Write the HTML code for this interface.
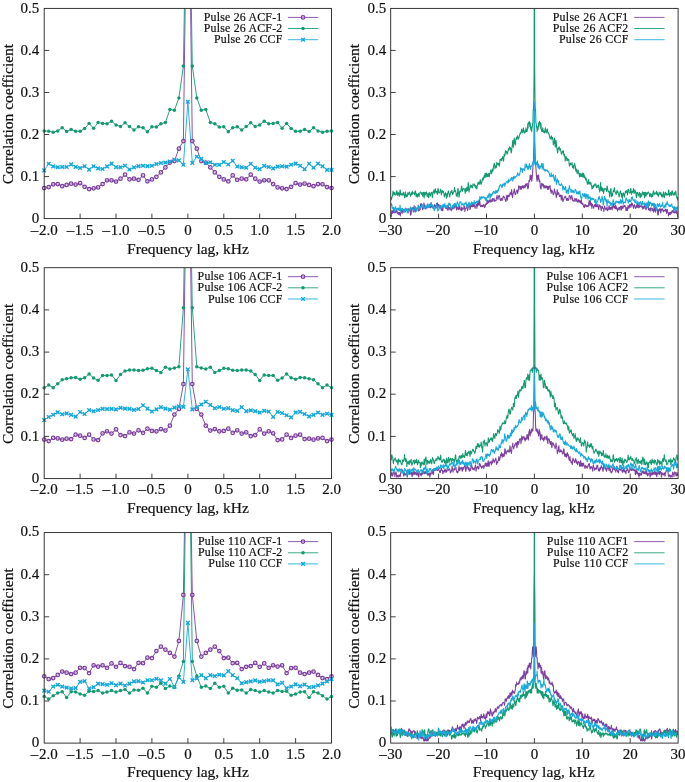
<!DOCTYPE html>
<html><head><meta charset="utf-8"><title>Correlation functions</title>
<style>
html,body{margin:0;padding:0;background:#fff}
svg{display:block}
text{font-family:"Liberation Serif",serif;fill:#111;stroke:#111;stroke-width:0.2px}
.t{font-size:15px}
.a{font-size:15.5px}
.l{font-size:11.9px;letter-spacing:0.2px}
.l2{letter-spacing:0.3px}
</style></head><body>
<svg width="685" height="782" viewBox="0 0 685 782">
<rect width="685" height="782" fill="#fff"/>
<defs>
<clipPath id="cl0"><rect x="44.2" y="8.4" width="287.3" height="210.2"/></clipPath>
<clipPath id="cr0"><rect x="390.7" y="8.4" width="287.40000000000003" height="210.2"/></clipPath>
<clipPath id="cl1"><rect x="44.2" y="267.7" width="287.3" height="210.90000000000003"/></clipPath>
<clipPath id="cr1"><rect x="390.7" y="267.7" width="287.40000000000003" height="210.90000000000003"/></clipPath>
<clipPath id="cl2"><rect x="44.2" y="532.6" width="287.3" height="210.5"/></clipPath>
<clipPath id="cr2"><rect x="390.7" y="532.6" width="287.40000000000003" height="210.5"/></clipPath>
</defs>
<g clip-path="url(#cl0)">
<path d="M44.2 188.0L48.7 187.1L53.2 184.3L57.7 184.0L62.2 186.2L66.6 184.9L71.1 183.7L75.6 184.6L80.1 183.2L84.6 186.8L89.1 189.0L93.6 188.3L98.1 187.4L102.6 184.0L107.0 180.3L111.5 180.3L116.0 181.6L120.5 178.7L125.0 174.7L129.5 179.3L134.0 178.7L138.5 179.8L143.0 175.4L147.4 181.3L151.9 179.4L156.4 176.8L160.9 172.4L165.4 167.4L169.9 162.6L174.4 161.1L178.9 148.7L183.4 141.0L187.9 -201.8L192.3 141.0L196.8 148.7L201.3 161.1L205.8 162.6L210.3 167.4L214.8 172.4L219.3 176.8L223.8 179.4L228.3 181.3L232.7 175.4L237.2 179.8L241.7 178.7L246.2 179.3L250.7 174.7L255.2 178.7L259.7 181.6L264.2 180.3L268.7 180.3L273.1 184.0L277.6 187.4L282.1 188.3L286.6 189.0L291.1 186.8L295.6 183.2L300.1 184.6L304.6 183.7L309.1 184.9L313.5 186.2L318.0 184.0L322.5 184.3L327.0 187.1L331.5 188.0" stroke="#7d3f9f" stroke-width="0.9" fill="none" stroke-linejoin="round"/>
<path d="M44.2 130.9L48.7 131.3L53.2 132.2L57.7 130.9L62.2 127.7L66.6 131.6L71.1 129.4L75.6 131.2L80.1 131.3L84.6 128.4L89.1 123.5L93.6 128.3L98.1 122.5L102.6 123.4L107.0 123.8L111.5 121.2L116.0 125.0L120.5 126.6L125.0 122.8L129.5 126.6L134.0 129.9L138.5 126.8L143.0 127.8L147.4 131.7L151.9 126.8L156.4 127.1L160.9 123.7L165.4 122.5L169.9 109.4L174.4 110.3L178.9 97.9L183.4 66.0L187.9 -201.8L192.3 66.0L196.8 97.9L201.3 110.3L205.8 109.4L210.3 122.5L214.8 123.7L219.3 127.1L223.8 126.8L228.3 131.7L232.7 127.8L237.2 126.8L241.7 129.9L246.2 126.6L250.7 122.8L255.2 126.6L259.7 125.0L264.2 121.2L268.7 123.8L273.1 123.4L277.6 122.5L282.1 128.3L286.6 123.5L291.1 128.4L295.6 131.3L300.1 131.2L304.6 129.4L309.1 131.6L313.5 127.7L318.0 130.9L322.5 132.2L327.0 131.3L331.5 130.9" stroke="#149a70" stroke-width="0.9" fill="none" stroke-linejoin="round"/>
<path d="M44.2 170.3L48.7 163.7L53.2 166.4L57.7 167.3L62.2 167.0L66.6 167.0L71.1 164.3L75.6 167.0L80.1 168.0L84.6 166.2L89.1 169.6L93.6 166.2L98.1 168.4L102.6 169.0L107.0 166.4L111.5 163.6L116.0 167.1L120.5 167.3L125.0 165.8L129.5 169.5L134.0 167.3L138.5 166.1L143.0 165.8L147.4 166.1L151.9 165.8L156.4 164.0L160.9 163.0L165.4 162.6L169.9 161.6L174.4 159.7L178.9 160.4L183.4 164.7L187.9 101.8L192.3 162.9L196.8 156.7L201.3 158.9L205.8 163.0L210.3 162.3L214.8 164.8L219.3 164.8L223.8 162.1L228.3 164.5L232.7 160.8L237.2 166.5L241.7 167.3L246.2 167.7L250.7 163.7L255.2 167.7L259.7 169.2L264.2 165.9L268.7 167.0L273.1 168.4L277.6 166.7L282.1 166.2L286.6 166.7L291.1 164.7L295.6 163.6L300.1 165.8L304.6 169.2L309.1 163.7L313.5 167.7L318.0 163.6L322.5 166.2L327.0 169.9L331.5 169.9" stroke="#17a9da" stroke-width="0.9" fill="none" stroke-linejoin="round"/>
</g>
<circle cx="44.2" cy="188.0" r="1.75" fill="#fff" fill-opacity="0.3" stroke="#7d3f9f" stroke-width="1.25"/>
<circle cx="48.7" cy="187.1" r="1.75" fill="#fff" fill-opacity="0.3" stroke="#7d3f9f" stroke-width="1.25"/>
<circle cx="53.2" cy="184.3" r="1.75" fill="#fff" fill-opacity="0.3" stroke="#7d3f9f" stroke-width="1.25"/>
<circle cx="57.7" cy="184.0" r="1.75" fill="#fff" fill-opacity="0.3" stroke="#7d3f9f" stroke-width="1.25"/>
<circle cx="62.2" cy="186.2" r="1.75" fill="#fff" fill-opacity="0.3" stroke="#7d3f9f" stroke-width="1.25"/>
<circle cx="66.6" cy="184.9" r="1.75" fill="#fff" fill-opacity="0.3" stroke="#7d3f9f" stroke-width="1.25"/>
<circle cx="71.1" cy="183.7" r="1.75" fill="#fff" fill-opacity="0.3" stroke="#7d3f9f" stroke-width="1.25"/>
<circle cx="75.6" cy="184.6" r="1.75" fill="#fff" fill-opacity="0.3" stroke="#7d3f9f" stroke-width="1.25"/>
<circle cx="80.1" cy="183.2" r="1.75" fill="#fff" fill-opacity="0.3" stroke="#7d3f9f" stroke-width="1.25"/>
<circle cx="84.6" cy="186.8" r="1.75" fill="#fff" fill-opacity="0.3" stroke="#7d3f9f" stroke-width="1.25"/>
<circle cx="89.1" cy="189.0" r="1.75" fill="#fff" fill-opacity="0.3" stroke="#7d3f9f" stroke-width="1.25"/>
<circle cx="93.6" cy="188.3" r="1.75" fill="#fff" fill-opacity="0.3" stroke="#7d3f9f" stroke-width="1.25"/>
<circle cx="98.1" cy="187.4" r="1.75" fill="#fff" fill-opacity="0.3" stroke="#7d3f9f" stroke-width="1.25"/>
<circle cx="102.6" cy="184.0" r="1.75" fill="#fff" fill-opacity="0.3" stroke="#7d3f9f" stroke-width="1.25"/>
<circle cx="107.0" cy="180.3" r="1.75" fill="#fff" fill-opacity="0.3" stroke="#7d3f9f" stroke-width="1.25"/>
<circle cx="111.5" cy="180.3" r="1.75" fill="#fff" fill-opacity="0.3" stroke="#7d3f9f" stroke-width="1.25"/>
<circle cx="116.0" cy="181.6" r="1.75" fill="#fff" fill-opacity="0.3" stroke="#7d3f9f" stroke-width="1.25"/>
<circle cx="120.5" cy="178.7" r="1.75" fill="#fff" fill-opacity="0.3" stroke="#7d3f9f" stroke-width="1.25"/>
<circle cx="125.0" cy="174.7" r="1.75" fill="#fff" fill-opacity="0.3" stroke="#7d3f9f" stroke-width="1.25"/>
<circle cx="129.5" cy="179.3" r="1.75" fill="#fff" fill-opacity="0.3" stroke="#7d3f9f" stroke-width="1.25"/>
<circle cx="134.0" cy="178.7" r="1.75" fill="#fff" fill-opacity="0.3" stroke="#7d3f9f" stroke-width="1.25"/>
<circle cx="138.5" cy="179.8" r="1.75" fill="#fff" fill-opacity="0.3" stroke="#7d3f9f" stroke-width="1.25"/>
<circle cx="143.0" cy="175.4" r="1.75" fill="#fff" fill-opacity="0.3" stroke="#7d3f9f" stroke-width="1.25"/>
<circle cx="147.4" cy="181.3" r="1.75" fill="#fff" fill-opacity="0.3" stroke="#7d3f9f" stroke-width="1.25"/>
<circle cx="151.9" cy="179.4" r="1.75" fill="#fff" fill-opacity="0.3" stroke="#7d3f9f" stroke-width="1.25"/>
<circle cx="156.4" cy="176.8" r="1.75" fill="#fff" fill-opacity="0.3" stroke="#7d3f9f" stroke-width="1.25"/>
<circle cx="160.9" cy="172.4" r="1.75" fill="#fff" fill-opacity="0.3" stroke="#7d3f9f" stroke-width="1.25"/>
<circle cx="165.4" cy="167.4" r="1.75" fill="#fff" fill-opacity="0.3" stroke="#7d3f9f" stroke-width="1.25"/>
<circle cx="169.9" cy="162.6" r="1.75" fill="#fff" fill-opacity="0.3" stroke="#7d3f9f" stroke-width="1.25"/>
<circle cx="174.4" cy="161.1" r="1.75" fill="#fff" fill-opacity="0.3" stroke="#7d3f9f" stroke-width="1.25"/>
<circle cx="178.9" cy="148.7" r="1.75" fill="#fff" fill-opacity="0.3" stroke="#7d3f9f" stroke-width="1.25"/>
<circle cx="183.4" cy="141.0" r="1.75" fill="#fff" fill-opacity="0.3" stroke="#7d3f9f" stroke-width="1.25"/>
<circle cx="192.3" cy="141.0" r="1.75" fill="#fff" fill-opacity="0.3" stroke="#7d3f9f" stroke-width="1.25"/>
<circle cx="196.8" cy="148.7" r="1.75" fill="#fff" fill-opacity="0.3" stroke="#7d3f9f" stroke-width="1.25"/>
<circle cx="201.3" cy="161.1" r="1.75" fill="#fff" fill-opacity="0.3" stroke="#7d3f9f" stroke-width="1.25"/>
<circle cx="205.8" cy="162.6" r="1.75" fill="#fff" fill-opacity="0.3" stroke="#7d3f9f" stroke-width="1.25"/>
<circle cx="210.3" cy="167.4" r="1.75" fill="#fff" fill-opacity="0.3" stroke="#7d3f9f" stroke-width="1.25"/>
<circle cx="214.8" cy="172.4" r="1.75" fill="#fff" fill-opacity="0.3" stroke="#7d3f9f" stroke-width="1.25"/>
<circle cx="219.3" cy="176.8" r="1.75" fill="#fff" fill-opacity="0.3" stroke="#7d3f9f" stroke-width="1.25"/>
<circle cx="223.8" cy="179.4" r="1.75" fill="#fff" fill-opacity="0.3" stroke="#7d3f9f" stroke-width="1.25"/>
<circle cx="228.3" cy="181.3" r="1.75" fill="#fff" fill-opacity="0.3" stroke="#7d3f9f" stroke-width="1.25"/>
<circle cx="232.7" cy="175.4" r="1.75" fill="#fff" fill-opacity="0.3" stroke="#7d3f9f" stroke-width="1.25"/>
<circle cx="237.2" cy="179.8" r="1.75" fill="#fff" fill-opacity="0.3" stroke="#7d3f9f" stroke-width="1.25"/>
<circle cx="241.7" cy="178.7" r="1.75" fill="#fff" fill-opacity="0.3" stroke="#7d3f9f" stroke-width="1.25"/>
<circle cx="246.2" cy="179.3" r="1.75" fill="#fff" fill-opacity="0.3" stroke="#7d3f9f" stroke-width="1.25"/>
<circle cx="250.7" cy="174.7" r="1.75" fill="#fff" fill-opacity="0.3" stroke="#7d3f9f" stroke-width="1.25"/>
<circle cx="255.2" cy="178.7" r="1.75" fill="#fff" fill-opacity="0.3" stroke="#7d3f9f" stroke-width="1.25"/>
<circle cx="259.7" cy="181.6" r="1.75" fill="#fff" fill-opacity="0.3" stroke="#7d3f9f" stroke-width="1.25"/>
<circle cx="264.2" cy="180.3" r="1.75" fill="#fff" fill-opacity="0.3" stroke="#7d3f9f" stroke-width="1.25"/>
<circle cx="268.7" cy="180.3" r="1.75" fill="#fff" fill-opacity="0.3" stroke="#7d3f9f" stroke-width="1.25"/>
<circle cx="273.1" cy="184.0" r="1.75" fill="#fff" fill-opacity="0.3" stroke="#7d3f9f" stroke-width="1.25"/>
<circle cx="277.6" cy="187.4" r="1.75" fill="#fff" fill-opacity="0.3" stroke="#7d3f9f" stroke-width="1.25"/>
<circle cx="282.1" cy="188.3" r="1.75" fill="#fff" fill-opacity="0.3" stroke="#7d3f9f" stroke-width="1.25"/>
<circle cx="286.6" cy="189.0" r="1.75" fill="#fff" fill-opacity="0.3" stroke="#7d3f9f" stroke-width="1.25"/>
<circle cx="291.1" cy="186.8" r="1.75" fill="#fff" fill-opacity="0.3" stroke="#7d3f9f" stroke-width="1.25"/>
<circle cx="295.6" cy="183.2" r="1.75" fill="#fff" fill-opacity="0.3" stroke="#7d3f9f" stroke-width="1.25"/>
<circle cx="300.1" cy="184.6" r="1.75" fill="#fff" fill-opacity="0.3" stroke="#7d3f9f" stroke-width="1.25"/>
<circle cx="304.6" cy="183.7" r="1.75" fill="#fff" fill-opacity="0.3" stroke="#7d3f9f" stroke-width="1.25"/>
<circle cx="309.1" cy="184.9" r="1.75" fill="#fff" fill-opacity="0.3" stroke="#7d3f9f" stroke-width="1.25"/>
<circle cx="313.5" cy="186.2" r="1.75" fill="#fff" fill-opacity="0.3" stroke="#7d3f9f" stroke-width="1.25"/>
<circle cx="318.0" cy="184.0" r="1.75" fill="#fff" fill-opacity="0.3" stroke="#7d3f9f" stroke-width="1.25"/>
<circle cx="322.5" cy="184.3" r="1.75" fill="#fff" fill-opacity="0.3" stroke="#7d3f9f" stroke-width="1.25"/>
<circle cx="327.0" cy="187.1" r="1.75" fill="#fff" fill-opacity="0.3" stroke="#7d3f9f" stroke-width="1.25"/>
<circle cx="331.5" cy="188.0" r="1.75" fill="#fff" fill-opacity="0.3" stroke="#7d3f9f" stroke-width="1.25"/>
<circle cx="44.2" cy="130.9" r="1.75" fill="#149a70"/>
<circle cx="48.7" cy="131.3" r="1.75" fill="#149a70"/>
<circle cx="53.2" cy="132.2" r="1.75" fill="#149a70"/>
<circle cx="57.7" cy="130.9" r="1.75" fill="#149a70"/>
<circle cx="62.2" cy="127.7" r="1.75" fill="#149a70"/>
<circle cx="66.6" cy="131.6" r="1.75" fill="#149a70"/>
<circle cx="71.1" cy="129.4" r="1.75" fill="#149a70"/>
<circle cx="75.6" cy="131.2" r="1.75" fill="#149a70"/>
<circle cx="80.1" cy="131.3" r="1.75" fill="#149a70"/>
<circle cx="84.6" cy="128.4" r="1.75" fill="#149a70"/>
<circle cx="89.1" cy="123.5" r="1.75" fill="#149a70"/>
<circle cx="93.6" cy="128.3" r="1.75" fill="#149a70"/>
<circle cx="98.1" cy="122.5" r="1.75" fill="#149a70"/>
<circle cx="102.6" cy="123.4" r="1.75" fill="#149a70"/>
<circle cx="107.0" cy="123.8" r="1.75" fill="#149a70"/>
<circle cx="111.5" cy="121.2" r="1.75" fill="#149a70"/>
<circle cx="116.0" cy="125.0" r="1.75" fill="#149a70"/>
<circle cx="120.5" cy="126.6" r="1.75" fill="#149a70"/>
<circle cx="125.0" cy="122.8" r="1.75" fill="#149a70"/>
<circle cx="129.5" cy="126.6" r="1.75" fill="#149a70"/>
<circle cx="134.0" cy="129.9" r="1.75" fill="#149a70"/>
<circle cx="138.5" cy="126.8" r="1.75" fill="#149a70"/>
<circle cx="143.0" cy="127.8" r="1.75" fill="#149a70"/>
<circle cx="147.4" cy="131.7" r="1.75" fill="#149a70"/>
<circle cx="151.9" cy="126.8" r="1.75" fill="#149a70"/>
<circle cx="156.4" cy="127.1" r="1.75" fill="#149a70"/>
<circle cx="160.9" cy="123.7" r="1.75" fill="#149a70"/>
<circle cx="165.4" cy="122.5" r="1.75" fill="#149a70"/>
<circle cx="169.9" cy="109.4" r="1.75" fill="#149a70"/>
<circle cx="174.4" cy="110.3" r="1.75" fill="#149a70"/>
<circle cx="178.9" cy="97.9" r="1.75" fill="#149a70"/>
<circle cx="183.4" cy="66.0" r="1.75" fill="#149a70"/>
<circle cx="192.3" cy="66.0" r="1.75" fill="#149a70"/>
<circle cx="196.8" cy="97.9" r="1.75" fill="#149a70"/>
<circle cx="201.3" cy="110.3" r="1.75" fill="#149a70"/>
<circle cx="205.8" cy="109.4" r="1.75" fill="#149a70"/>
<circle cx="210.3" cy="122.5" r="1.75" fill="#149a70"/>
<circle cx="214.8" cy="123.7" r="1.75" fill="#149a70"/>
<circle cx="219.3" cy="127.1" r="1.75" fill="#149a70"/>
<circle cx="223.8" cy="126.8" r="1.75" fill="#149a70"/>
<circle cx="228.3" cy="131.7" r="1.75" fill="#149a70"/>
<circle cx="232.7" cy="127.8" r="1.75" fill="#149a70"/>
<circle cx="237.2" cy="126.8" r="1.75" fill="#149a70"/>
<circle cx="241.7" cy="129.9" r="1.75" fill="#149a70"/>
<circle cx="246.2" cy="126.6" r="1.75" fill="#149a70"/>
<circle cx="250.7" cy="122.8" r="1.75" fill="#149a70"/>
<circle cx="255.2" cy="126.6" r="1.75" fill="#149a70"/>
<circle cx="259.7" cy="125.0" r="1.75" fill="#149a70"/>
<circle cx="264.2" cy="121.2" r="1.75" fill="#149a70"/>
<circle cx="268.7" cy="123.8" r="1.75" fill="#149a70"/>
<circle cx="273.1" cy="123.4" r="1.75" fill="#149a70"/>
<circle cx="277.6" cy="122.5" r="1.75" fill="#149a70"/>
<circle cx="282.1" cy="128.3" r="1.75" fill="#149a70"/>
<circle cx="286.6" cy="123.5" r="1.75" fill="#149a70"/>
<circle cx="291.1" cy="128.4" r="1.75" fill="#149a70"/>
<circle cx="295.6" cy="131.3" r="1.75" fill="#149a70"/>
<circle cx="300.1" cy="131.2" r="1.75" fill="#149a70"/>
<circle cx="304.6" cy="129.4" r="1.75" fill="#149a70"/>
<circle cx="309.1" cy="131.6" r="1.75" fill="#149a70"/>
<circle cx="313.5" cy="127.7" r="1.75" fill="#149a70"/>
<circle cx="318.0" cy="130.9" r="1.75" fill="#149a70"/>
<circle cx="322.5" cy="132.2" r="1.75" fill="#149a70"/>
<circle cx="327.0" cy="131.3" r="1.75" fill="#149a70"/>
<circle cx="331.5" cy="130.9" r="1.75" fill="#149a70"/>
<path d="M42.35 168.49L46.05 172.19M42.35 172.19L46.05 168.49" stroke="#17a9da" stroke-width="1.3" fill="none"/><rect x="43.05" y="169.19" width="2.3" height="2.3" fill="#17a9da"/>
<path d="M46.84 161.89L50.54 165.59M46.84 165.59L50.54 161.89" stroke="#17a9da" stroke-width="1.3" fill="none"/><rect x="47.54" y="162.59" width="2.3" height="2.3" fill="#17a9da"/>
<path d="M51.33 164.54L55.03 168.24M51.33 168.24L55.03 164.54" stroke="#17a9da" stroke-width="1.3" fill="none"/><rect x="52.03" y="165.24" width="2.3" height="2.3" fill="#17a9da"/>
<path d="M55.82 165.42L59.52 169.12M55.82 169.12L59.52 165.42" stroke="#17a9da" stroke-width="1.3" fill="none"/><rect x="56.52" y="166.12" width="2.3" height="2.3" fill="#17a9da"/>
<path d="M60.31 165.12L64.01 168.82M60.31 168.82L64.01 165.12" stroke="#17a9da" stroke-width="1.3" fill="none"/><rect x="61.01" y="165.82" width="2.3" height="2.3" fill="#17a9da"/>
<path d="M64.80 165.12L68.50 168.82M64.80 168.82L68.50 165.12" stroke="#17a9da" stroke-width="1.3" fill="none"/><rect x="65.50" y="165.82" width="2.3" height="2.3" fill="#17a9da"/>
<path d="M69.28 162.48L72.98 166.18M69.28 166.18L72.98 162.48" stroke="#17a9da" stroke-width="1.3" fill="none"/><rect x="69.98" y="163.18" width="2.3" height="2.3" fill="#17a9da"/>
<path d="M73.77 165.12L77.47 168.82M73.77 168.82L77.47 165.12" stroke="#17a9da" stroke-width="1.3" fill="none"/><rect x="74.47" y="165.82" width="2.3" height="2.3" fill="#17a9da"/>
<path d="M78.26 166.13L81.96 169.83M78.26 169.83L81.96 166.13" stroke="#17a9da" stroke-width="1.3" fill="none"/><rect x="78.96" y="166.83" width="2.3" height="2.3" fill="#17a9da"/>
<path d="M82.75 164.37L86.45 168.07M82.75 168.07L86.45 164.37" stroke="#17a9da" stroke-width="1.3" fill="none"/><rect x="83.45" y="165.07" width="2.3" height="2.3" fill="#17a9da"/>
<path d="M87.24 167.73L90.94 171.43M87.24 171.43L90.94 167.73" stroke="#17a9da" stroke-width="1.3" fill="none"/><rect x="87.94" y="168.43" width="2.3" height="2.3" fill="#17a9da"/>
<path d="M91.73 164.37L95.43 168.07M91.73 168.07L95.43 164.37" stroke="#17a9da" stroke-width="1.3" fill="none"/><rect x="92.43" y="165.07" width="2.3" height="2.3" fill="#17a9da"/>
<path d="M96.22 166.55L99.92 170.25M96.22 170.25L99.92 166.55" stroke="#17a9da" stroke-width="1.3" fill="none"/><rect x="96.92" y="167.25" width="2.3" height="2.3" fill="#17a9da"/>
<path d="M100.71 167.14L104.41 170.84M100.71 170.84L104.41 167.14" stroke="#17a9da" stroke-width="1.3" fill="none"/><rect x="101.41" y="167.84" width="2.3" height="2.3" fill="#17a9da"/>
<path d="M105.20 164.54L108.90 168.24M105.20 168.24L108.90 164.54" stroke="#17a9da" stroke-width="1.3" fill="none"/><rect x="105.90" y="165.24" width="2.3" height="2.3" fill="#17a9da"/>
<path d="M109.69 161.76L113.39 165.46M109.69 165.46L113.39 161.76" stroke="#17a9da" stroke-width="1.3" fill="none"/><rect x="110.39" y="162.46" width="2.3" height="2.3" fill="#17a9da"/>
<path d="M114.18 165.25L117.88 168.95M114.18 168.95L117.88 165.25" stroke="#17a9da" stroke-width="1.3" fill="none"/><rect x="114.88" y="165.95" width="2.3" height="2.3" fill="#17a9da"/>
<path d="M118.66 165.42L122.36 169.12M118.66 169.12L122.36 165.42" stroke="#17a9da" stroke-width="1.3" fill="none"/><rect x="119.36" y="166.12" width="2.3" height="2.3" fill="#17a9da"/>
<path d="M123.15 163.95L126.85 167.65M123.15 167.65L126.85 163.95" stroke="#17a9da" stroke-width="1.3" fill="none"/><rect x="123.85" y="164.65" width="2.3" height="2.3" fill="#17a9da"/>
<path d="M127.64 167.61L131.34 171.31M127.64 171.31L131.34 167.61" stroke="#17a9da" stroke-width="1.3" fill="none"/><rect x="128.34" y="168.31" width="2.3" height="2.3" fill="#17a9da"/>
<path d="M132.13 165.42L135.83 169.12M132.13 169.12L135.83 165.42" stroke="#17a9da" stroke-width="1.3" fill="none"/><rect x="132.83" y="166.12" width="2.3" height="2.3" fill="#17a9da"/>
<path d="M136.62 164.24L140.32 167.94M136.62 167.94L140.32 164.24" stroke="#17a9da" stroke-width="1.3" fill="none"/><rect x="137.32" y="164.94" width="2.3" height="2.3" fill="#17a9da"/>
<path d="M141.11 163.95L144.81 167.65M141.11 167.65L144.81 163.95" stroke="#17a9da" stroke-width="1.3" fill="none"/><rect x="141.81" y="164.65" width="2.3" height="2.3" fill="#17a9da"/>
<path d="M145.60 164.24L149.30 167.94M145.60 167.94L149.30 164.24" stroke="#17a9da" stroke-width="1.3" fill="none"/><rect x="146.30" y="164.94" width="2.3" height="2.3" fill="#17a9da"/>
<path d="M150.09 163.95L153.79 167.65M150.09 167.65L153.79 163.95" stroke="#17a9da" stroke-width="1.3" fill="none"/><rect x="150.79" y="164.65" width="2.3" height="2.3" fill="#17a9da"/>
<path d="M154.58 162.18L158.28 165.88M154.58 165.88L158.28 162.18" stroke="#17a9da" stroke-width="1.3" fill="none"/><rect x="155.28" y="162.88" width="2.3" height="2.3" fill="#17a9da"/>
<path d="M159.07 161.17L162.77 164.87M159.07 164.87L162.77 161.17" stroke="#17a9da" stroke-width="1.3" fill="none"/><rect x="159.77" y="161.87" width="2.3" height="2.3" fill="#17a9da"/>
<path d="M163.55 160.71L167.25 164.41M163.55 164.41L167.25 160.71" stroke="#17a9da" stroke-width="1.3" fill="none"/><rect x="164.25" y="161.41" width="2.3" height="2.3" fill="#17a9da"/>
<path d="M168.04 159.70L171.74 163.40M168.04 163.40L171.74 159.70" stroke="#17a9da" stroke-width="1.3" fill="none"/><rect x="168.74" y="160.40" width="2.3" height="2.3" fill="#17a9da"/>
<path d="M172.53 157.81L176.23 161.51M172.53 161.51L176.23 157.81" stroke="#17a9da" stroke-width="1.3" fill="none"/><rect x="173.23" y="158.51" width="2.3" height="2.3" fill="#17a9da"/>
<path d="M177.02 158.52L180.72 162.22M177.02 162.22L180.72 158.52" stroke="#17a9da" stroke-width="1.3" fill="none"/><rect x="177.72" y="159.22" width="2.3" height="2.3" fill="#17a9da"/>
<path d="M181.51 162.90L185.21 166.60M181.51 166.60L185.21 162.90" stroke="#17a9da" stroke-width="1.3" fill="none"/><rect x="182.21" y="163.60" width="2.3" height="2.3" fill="#17a9da"/>
<path d="M186.00 99.92L189.70 103.62M186.00 103.62L189.70 99.92" stroke="#17a9da" stroke-width="1.3" fill="none"/><rect x="186.70" y="100.62" width="2.3" height="2.3" fill="#17a9da"/>
<path d="M190.49 161.00L194.19 164.70M190.49 164.70L194.19 161.00" stroke="#17a9da" stroke-width="1.3" fill="none"/><rect x="191.19" y="161.70" width="2.3" height="2.3" fill="#17a9da"/>
<path d="M194.98 154.87L198.68 158.57M194.98 158.57L198.68 154.87" stroke="#17a9da" stroke-width="1.3" fill="none"/><rect x="195.68" y="155.57" width="2.3" height="2.3" fill="#17a9da"/>
<path d="M199.47 157.05L203.17 160.75M199.47 160.75L203.17 157.05" stroke="#17a9da" stroke-width="1.3" fill="none"/><rect x="200.17" y="157.75" width="2.3" height="2.3" fill="#17a9da"/>
<path d="M203.96 161.17L207.66 164.87M203.96 164.87L207.66 161.17" stroke="#17a9da" stroke-width="1.3" fill="none"/><rect x="204.66" y="161.87" width="2.3" height="2.3" fill="#17a9da"/>
<path d="M208.45 160.42L212.15 164.12M208.45 164.12L212.15 160.42" stroke="#17a9da" stroke-width="1.3" fill="none"/><rect x="209.15" y="161.12" width="2.3" height="2.3" fill="#17a9da"/>
<path d="M212.93 162.94L216.63 166.64M212.93 166.64L216.63 162.94" stroke="#17a9da" stroke-width="1.3" fill="none"/><rect x="213.63" y="163.64" width="2.3" height="2.3" fill="#17a9da"/>
<path d="M217.42 162.94L221.12 166.64M217.42 166.64L221.12 162.94" stroke="#17a9da" stroke-width="1.3" fill="none"/><rect x="218.12" y="163.64" width="2.3" height="2.3" fill="#17a9da"/>
<path d="M221.91 160.21L225.61 163.91M221.91 163.91L225.61 160.21" stroke="#17a9da" stroke-width="1.3" fill="none"/><rect x="222.61" y="160.91" width="2.3" height="2.3" fill="#17a9da"/>
<path d="M226.40 162.60L230.10 166.30M226.40 166.30L230.10 162.60" stroke="#17a9da" stroke-width="1.3" fill="none"/><rect x="227.10" y="163.30" width="2.3" height="2.3" fill="#17a9da"/>
<path d="M230.89 158.94L234.59 162.64M230.89 162.64L234.59 158.94" stroke="#17a9da" stroke-width="1.3" fill="none"/><rect x="231.59" y="159.64" width="2.3" height="2.3" fill="#17a9da"/>
<path d="M235.38 164.66L239.08 168.36M235.38 168.36L239.08 164.66" stroke="#17a9da" stroke-width="1.3" fill="none"/><rect x="236.08" y="165.36" width="2.3" height="2.3" fill="#17a9da"/>
<path d="M239.87 165.42L243.57 169.12M239.87 169.12L243.57 165.42" stroke="#17a9da" stroke-width="1.3" fill="none"/><rect x="240.57" y="166.12" width="2.3" height="2.3" fill="#17a9da"/>
<path d="M244.36 165.84L248.06 169.54M244.36 169.54L248.06 165.84" stroke="#17a9da" stroke-width="1.3" fill="none"/><rect x="245.06" y="166.54" width="2.3" height="2.3" fill="#17a9da"/>
<path d="M248.85 161.89L252.55 165.59M248.85 165.59L252.55 161.89" stroke="#17a9da" stroke-width="1.3" fill="none"/><rect x="249.55" y="162.59" width="2.3" height="2.3" fill="#17a9da"/>
<path d="M253.34 165.84L257.04 169.54M253.34 169.54L257.04 165.84" stroke="#17a9da" stroke-width="1.3" fill="none"/><rect x="254.04" y="166.54" width="2.3" height="2.3" fill="#17a9da"/>
<path d="M257.82 167.31L261.53 171.01M257.82 171.01L261.53 167.31" stroke="#17a9da" stroke-width="1.3" fill="none"/><rect x="258.53" y="168.01" width="2.3" height="2.3" fill="#17a9da"/>
<path d="M262.31 164.07L266.01 167.77M262.31 167.77L266.01 164.07" stroke="#17a9da" stroke-width="1.3" fill="none"/><rect x="263.01" y="164.77" width="2.3" height="2.3" fill="#17a9da"/>
<path d="M266.80 165.12L270.50 168.82M266.80 168.82L270.50 165.12" stroke="#17a9da" stroke-width="1.3" fill="none"/><rect x="267.50" y="165.82" width="2.3" height="2.3" fill="#17a9da"/>
<path d="M271.29 166.55L274.99 170.25M271.29 170.25L274.99 166.55" stroke="#17a9da" stroke-width="1.3" fill="none"/><rect x="271.99" y="167.25" width="2.3" height="2.3" fill="#17a9da"/>
<path d="M275.78 164.83L279.48 168.53M275.78 168.53L279.48 164.83" stroke="#17a9da" stroke-width="1.3" fill="none"/><rect x="276.48" y="165.53" width="2.3" height="2.3" fill="#17a9da"/>
<path d="M280.27 164.37L283.97 168.07M280.27 168.07L283.97 164.37" stroke="#17a9da" stroke-width="1.3" fill="none"/><rect x="280.97" y="165.07" width="2.3" height="2.3" fill="#17a9da"/>
<path d="M284.76 164.83L288.46 168.53M284.76 168.53L288.46 164.83" stroke="#17a9da" stroke-width="1.3" fill="none"/><rect x="285.46" y="165.53" width="2.3" height="2.3" fill="#17a9da"/>
<path d="M289.25 162.90L292.95 166.60M289.25 166.60L292.95 162.90" stroke="#17a9da" stroke-width="1.3" fill="none"/><rect x="289.95" y="163.60" width="2.3" height="2.3" fill="#17a9da"/>
<path d="M293.74 161.76L297.44 165.46M293.74 165.46L297.44 161.76" stroke="#17a9da" stroke-width="1.3" fill="none"/><rect x="294.44" y="162.46" width="2.3" height="2.3" fill="#17a9da"/>
<path d="M298.23 163.95L301.93 167.65M298.23 167.65L301.93 163.95" stroke="#17a9da" stroke-width="1.3" fill="none"/><rect x="298.93" y="164.65" width="2.3" height="2.3" fill="#17a9da"/>
<path d="M302.72 167.31L306.42 171.01M302.72 171.01L306.42 167.31" stroke="#17a9da" stroke-width="1.3" fill="none"/><rect x="303.42" y="168.01" width="2.3" height="2.3" fill="#17a9da"/>
<path d="M307.20 161.89L310.90 165.59M307.20 165.59L310.90 161.89" stroke="#17a9da" stroke-width="1.3" fill="none"/><rect x="307.90" y="162.59" width="2.3" height="2.3" fill="#17a9da"/>
<path d="M311.69 165.84L315.39 169.54M311.69 169.54L315.39 165.84" stroke="#17a9da" stroke-width="1.3" fill="none"/><rect x="312.39" y="166.54" width="2.3" height="2.3" fill="#17a9da"/>
<path d="M316.18 161.76L319.88 165.46M316.18 165.46L319.88 161.76" stroke="#17a9da" stroke-width="1.3" fill="none"/><rect x="316.88" y="162.46" width="2.3" height="2.3" fill="#17a9da"/>
<path d="M320.67 164.37L324.37 168.07M320.67 168.07L324.37 164.37" stroke="#17a9da" stroke-width="1.3" fill="none"/><rect x="321.37" y="165.07" width="2.3" height="2.3" fill="#17a9da"/>
<path d="M325.16 168.03L328.86 171.73M325.16 171.73L328.86 168.03" stroke="#17a9da" stroke-width="1.3" fill="none"/><rect x="325.86" y="168.73" width="2.3" height="2.3" fill="#17a9da"/>
<path d="M329.65 168.03L333.35 171.73M329.65 171.73L333.35 168.03" stroke="#17a9da" stroke-width="1.3" fill="none"/><rect x="330.35" y="168.73" width="2.3" height="2.3" fill="#17a9da"/>
<path d="M44.2 176.6h5M44.2 134.5h5M44.2 92.5h5M44.2 50.4h5M80.1 218.6v-5M116.0 218.6v-5M151.9 218.6v-5M187.9 218.6v-5M223.8 218.6v-5M259.7 218.6v-5M295.6 218.6v-5" stroke="#222" stroke-width="0.85" fill="none"/>
<rect x="44.2" y="8.4" width="287.3" height="210.2" fill="none" stroke="#222" stroke-width="0.9"/>
<text class="t" x="39.2" y="222.9" text-anchor="end">0</text>
<text class="t" x="39.2" y="180.9" text-anchor="end">0.1</text>
<text class="t" x="39.2" y="138.8" text-anchor="end">0.2</text>
<text class="t" x="39.2" y="96.8" text-anchor="end">0.3</text>
<text class="t" x="39.2" y="54.7" text-anchor="end">0.4</text>
<text class="t" x="39.2" y="12.7" text-anchor="end">0.5</text>
<text class="t" x="44.2" y="234.7" text-anchor="middle">–<tspan dx="0.6">2.0</tspan></text>
<text class="t" x="80.1" y="234.7" text-anchor="middle">–<tspan dx="0.6">1.5</tspan></text>
<text class="t" x="116.0" y="234.7" text-anchor="middle">–<tspan dx="0.6">1.0</tspan></text>
<text class="t" x="151.9" y="234.7" text-anchor="middle">–<tspan dx="0.6">0.5</tspan></text>
<text class="t" x="187.9" y="234.7" text-anchor="middle">0</text>
<text class="t" x="223.8" y="234.7" text-anchor="middle">0.5</text>
<text class="t" x="259.7" y="234.7" text-anchor="middle">1.0</text>
<text class="t" x="295.6" y="234.7" text-anchor="middle">1.5</text>
<text class="t" x="331.5" y="234.7" text-anchor="middle">2.0</text>
<text class="a" x="188.0" y="254.0" text-anchor="middle">Frequency lag, kHz</text>
<text class="a" transform="translate(12.9 114.1) rotate(-90)" text-anchor="middle">Correlation coefficient</text>
<text class="l" x="282.5" y="20.9" text-anchor="end">Pulse 26 ACF-1</text>
<path d="M287.9 17.4H318.2" stroke="#7d3f9f" stroke-width="0.85" fill="none"/>
<circle cx="303.0" cy="17.4" r="1.75" fill="#fff" fill-opacity="0.3" stroke="#7d3f9f" stroke-width="1.25"/>
<text class="l" x="282.5" y="32.0" text-anchor="end">Pulse 26 ACF-2</text>
<path d="M287.9 28.5H318.2" stroke="#149a70" stroke-width="0.85" fill="none"/>
<circle cx="303.0" cy="28.5" r="1.75" fill="#149a70"/>
<text class="l" x="282.5" y="43.2" text-anchor="end">Pulse 26 CCF</text>
<path d="M287.9 39.7H318.2" stroke="#17a9da" stroke-width="0.85" fill="none"/>
<path d="M301.20 37.85L304.90 41.55M301.20 41.55L304.90 37.85" stroke="#17a9da" stroke-width="1.3" fill="none"/><rect x="301.90" y="38.55" width="2.3" height="2.3" fill="#17a9da"/>
<g clip-path="url(#cr0)">
<path d="M390.7 214.7L391.0 217.2L391.3 216.2L391.6 212.5L391.9 210.6L392.2 210.8L392.5 213.4L392.8 212.5L393.1 211.6L393.4 209.6L393.7 211.6L394.0 213.0L394.3 212.7L394.6 212.6L394.9 211.2L395.2 211.5L395.5 212.7L395.8 210.7L396.1 210.7L396.4 211.5L396.7 210.6L397.0 213.0L397.3 213.3L397.6 211.9L397.9 212.0L398.2 214.3L398.5 212.5L398.8 214.5L399.1 214.3L399.4 212.4L399.7 213.2L400.0 214.7L400.3 216.0L400.6 212.8L400.9 212.2L401.2 211.8L401.5 209.2L401.8 210.9L402.1 213.5L402.4 212.1L402.7 209.9L403.0 209.1L403.3 209.4L403.6 211.2L403.9 210.4L404.2 210.1L404.5 210.6L404.8 210.4L405.1 210.7L405.4 211.9L405.7 210.8L406.0 209.1L406.3 209.6L406.6 208.7L406.9 209.8L407.2 210.6L407.5 209.1L407.8 212.2L408.1 212.9L408.4 210.0L408.7 208.6L409.0 208.6L409.3 210.7L409.6 211.0L409.9 210.1L410.2 209.5L410.5 215.0L410.8 215.1L411.1 214.0L411.4 209.9L411.7 208.7L412.0 208.5L412.3 208.0L412.6 209.5L412.9 207.6L413.2 212.1L413.5 211.7L413.8 208.8L414.1 205.5L414.4 208.6L414.6 210.2L414.9 210.8L415.2 212.2L415.5 210.3L415.8 208.2L416.1 208.7L416.4 210.6L416.7 210.8L417.0 209.2L417.3 208.2L417.6 208.0L417.9 207.9L418.2 207.8L418.5 211.0L418.8 210.6L419.1 210.6L419.4 208.6L419.7 209.7L420.0 210.0L420.3 209.4L420.6 204.4L420.9 203.4L421.2 206.7L421.5 203.7L421.8 204.5L422.1 206.7L422.4 208.7L422.7 209.8L423.0 207.9L423.3 208.6L423.6 205.9L423.9 202.9L424.2 204.2L424.5 205.6L424.8 208.4L425.1 206.5L425.4 207.2L425.7 207.4L426.0 209.2L426.3 206.9L426.6 206.3L426.9 207.5L427.2 205.3L427.5 204.7L427.8 206.0L428.1 206.4L428.4 206.0L428.7 206.3L429.0 207.1L429.3 207.4L429.6 204.2L429.9 204.2L430.2 206.2L430.5 208.0L430.8 205.8L431.1 202.6L431.4 207.1L431.7 206.8L432.0 204.9L432.3 205.0L432.6 207.7L432.9 208.0L433.2 208.2L433.5 208.5L433.8 205.7L434.1 206.0L434.4 204.6L434.7 205.5L435.0 206.6L435.3 208.3L435.6 207.1L435.9 205.3L436.2 205.1L436.5 203.4L436.8 205.1L437.1 203.0L437.4 202.9L437.7 206.6L438.0 207.4L438.3 204.5L438.6 205.7L438.9 204.4L439.2 205.1L439.5 207.6L439.8 208.3L440.1 206.4L440.4 205.9L440.7 205.4L441.0 208.7L441.3 210.5L441.6 210.1L441.9 207.6L442.2 207.8L442.5 210.7L442.8 210.6L443.1 207.7L443.4 206.8L443.7 205.6L444.0 206.4L444.3 206.1L444.6 205.3L444.9 206.8L445.2 206.0L445.5 207.1L445.8 208.3L446.1 208.4L446.4 207.4L446.7 205.7L447.0 207.7L447.3 210.1L447.6 207.2L447.9 206.4L448.2 206.3L448.5 206.8L448.8 210.1L449.1 209.3L449.4 207.5L449.7 208.4L450.0 207.5L450.3 209.4L450.6 208.9L450.9 209.4L451.2 211.0L451.5 208.5L451.8 209.1L452.1 207.0L452.4 207.0L452.7 209.2L453.0 205.6L453.3 205.0L453.6 208.6L453.9 208.0L454.2 206.6L454.5 206.2L454.8 208.1L455.1 203.2L455.4 205.5L455.7 205.0L456.0 207.1L456.3 207.0L456.6 210.0L456.9 206.5L457.2 208.0L457.5 207.4L457.8 209.1L458.1 207.2L458.4 208.1L458.7 209.7L459.0 209.6L459.3 207.5L459.6 205.8L459.9 206.3L460.2 209.1L460.5 208.9L460.8 209.8L461.1 210.5L461.4 210.7L461.7 207.0L462.0 207.6L462.3 208.1L462.6 209.1L462.8 209.9L463.1 209.3L463.4 208.6L463.7 208.0L464.0 206.4L464.3 206.1L464.6 207.7L464.9 211.8L465.2 209.5L465.5 208.6L465.8 208.4L466.1 208.5L466.4 206.7L466.7 206.3L467.0 207.5L467.3 206.9L467.6 210.6L467.9 208.9L468.2 207.4L468.5 205.7L468.8 206.3L469.1 204.9L469.4 205.5L469.7 207.0L470.0 209.6L470.3 209.1L470.6 207.1L470.9 204.5L471.2 204.9L471.5 206.6L471.8 204.9L472.1 205.0L472.4 206.8L472.7 204.6L473.0 203.5L473.3 206.6L473.6 206.2L473.9 204.6L474.2 204.8L474.5 205.8L474.8 206.6L475.1 208.3L475.4 206.4L475.7 206.1L476.0 205.5L476.3 204.4L476.6 204.5L476.9 208.5L477.2 203.6L477.5 206.1L477.8 204.3L478.1 202.5L478.4 201.4L478.7 204.3L479.0 205.4L479.3 201.1L479.6 200.4L479.9 202.1L480.2 204.8L480.5 206.7L480.8 205.5L481.1 205.8L481.4 206.0L481.7 206.6L482.0 205.2L482.3 205.4L482.6 206.6L482.9 206.6L483.2 205.2L483.5 204.6L483.8 204.4L484.1 204.9L484.4 207.6L484.7 205.8L485.0 207.1L485.3 206.4L485.6 204.7L485.9 203.7L486.2 204.3L486.5 204.4L486.8 202.6L487.1 202.7L487.4 200.2L487.7 203.6L488.0 200.7L488.3 201.0L488.6 202.4L488.9 202.4L489.2 200.3L489.5 201.7L489.8 201.3L490.1 199.5L490.4 201.8L490.7 202.0L491.0 200.8L491.3 201.9L491.6 200.8L491.9 199.1L492.2 198.9L492.5 198.6L492.8 201.5L493.1 200.4L493.4 198.9L493.7 198.8L494.0 198.2L494.3 200.0L494.6 201.5L494.9 200.9L495.2 200.2L495.5 200.2L495.8 200.8L496.1 200.7L496.4 198.4L496.7 197.5L497.0 195.2L497.3 197.3L497.6 197.6L497.9 199.5L498.2 198.5L498.5 196.4L498.8 195.8L499.1 196.0L499.4 195.5L499.7 196.5L500.0 199.5L500.3 199.6L500.6 200.6L500.9 200.5L501.2 198.2L501.5 198.2L501.8 199.5L502.1 200.5L502.4 199.0L502.7 199.1L503.0 196.8L503.3 197.4L503.6 196.1L503.9 196.6L504.2 197.5L504.5 197.5L504.8 197.8L505.1 199.8L505.4 199.8L505.7 201.4L506.0 201.5L506.3 198.9L506.6 196.8L506.9 195.0L507.2 196.4L507.5 200.1L507.8 196.4L508.1 195.1L508.4 195.2L508.7 196.2L509.0 196.6L509.3 196.5L509.6 195.7L509.9 193.1L510.2 193.2L510.4 193.4L510.7 192.3L511.0 194.7L511.3 191.7L511.6 189.5L511.9 192.5L512.2 195.8L512.5 197.7L512.8 195.8L513.1 193.6L513.4 193.2L513.7 191.7L514.0 191.1L514.3 188.9L514.6 190.1L514.9 194.1L515.2 194.6L515.5 194.3L515.8 194.1L516.1 192.4L516.4 191.3L516.7 191.0L517.0 190.0L517.3 190.0L517.6 193.4L517.9 191.7L518.2 191.4L518.5 187.8L518.8 185.5L519.1 187.2L519.4 187.0L519.7 186.6L520.0 189.5L520.3 187.7L520.6 186.5L520.9 186.4L521.2 189.5L521.5 188.5L521.8 186.3L522.1 187.2L522.4 187.6L522.7 185.7L523.0 185.7L523.3 187.2L523.6 188.1L523.9 186.9L524.2 185.8L524.5 185.6L524.8 188.0L525.1 187.1L525.4 184.3L525.7 184.0L526.0 186.2L526.3 184.9L526.6 183.7L526.9 184.6L527.2 183.2L527.5 186.8L527.8 189.0L528.1 188.3L528.4 187.4L528.7 184.0L529.0 180.3L529.3 180.3L529.6 181.6L529.9 178.7L530.2 174.7L530.5 179.3L530.8 178.7L531.1 179.8L531.4 175.4L531.7 181.3L532.0 179.4L532.3 176.8L532.6 172.4L532.9 167.4L533.2 162.6L533.5 161.1L533.8 148.7L534.1 141.0L534.4 105.1L534.7 141.0L535.0 148.7L535.3 161.1L535.6 162.6L535.9 167.4L536.2 172.4L536.5 176.8L536.8 179.4L537.1 181.3L537.4 175.4L537.7 179.8L538.0 178.7L538.3 179.3L538.6 174.7L538.9 178.7L539.2 181.6L539.5 180.3L539.8 180.3L540.1 184.0L540.4 187.4L540.7 188.3L541.0 189.0L541.3 186.8L541.6 183.2L541.9 184.6L542.2 183.7L542.5 184.9L542.8 186.2L543.1 184.0L543.4 184.3L543.7 187.1L544.0 188.0L544.3 185.6L544.6 185.8L544.9 186.9L545.2 188.1L545.5 187.2L545.8 185.7L546.1 185.7L546.4 187.6L546.7 187.2L547.0 186.3L547.3 188.5L547.6 189.5L547.9 186.4L548.2 186.5L548.5 187.7L548.8 189.5L549.1 186.6L549.4 187.0L549.7 187.2L550.0 185.5L550.3 187.8L550.6 191.4L550.9 191.7L551.2 193.4L551.5 190.0L551.8 190.0L552.1 191.0L552.4 191.3L552.7 192.4L553.0 194.1L553.3 194.3L553.6 194.6L553.9 194.1L554.2 190.1L554.5 188.9L554.8 191.1L555.1 191.7L555.4 193.2L555.7 193.6L556.0 195.8L556.3 197.7L556.6 195.8L556.9 192.5L557.2 189.5L557.5 191.7L557.8 194.7L558.1 192.3L558.4 193.4L558.6 193.2L558.9 193.1L559.2 195.7L559.5 196.5L559.8 196.6L560.1 196.2L560.4 195.2L560.7 195.1L561.0 196.4L561.3 200.1L561.6 196.4L561.9 195.0L562.2 196.8L562.5 198.9L562.8 201.5L563.1 201.4L563.4 199.8L563.7 199.8L564.0 197.8L564.3 197.5L564.6 197.5L564.9 196.6L565.2 196.1L565.5 197.4L565.8 196.8L566.1 199.1L566.4 199.0L566.7 200.5L567.0 199.5L567.3 198.2L567.6 198.2L567.9 200.5L568.2 200.6L568.5 199.6L568.8 199.5L569.1 196.5L569.4 195.5L569.7 196.0L570.0 195.8L570.3 196.4L570.6 198.5L570.9 199.5L571.2 197.6L571.5 197.3L571.8 195.2L572.1 197.5L572.4 198.4L572.7 200.7L573.0 200.8L573.3 200.2L573.6 200.2L573.9 200.9L574.2 201.5L574.5 200.0L574.8 198.2L575.1 198.8L575.4 198.9L575.7 200.4L576.0 201.5L576.3 198.6L576.6 198.9L576.9 199.1L577.2 200.8L577.5 201.9L577.8 200.8L578.1 202.0L578.4 201.8L578.7 199.5L579.0 201.3L579.3 201.7L579.6 200.3L579.9 202.4L580.2 202.4L580.5 201.0L580.8 200.7L581.1 203.6L581.4 200.2L581.7 202.7L582.0 202.6L582.3 204.4L582.6 204.3L582.9 203.7L583.2 204.7L583.5 206.4L583.8 207.1L584.1 205.8L584.4 207.6L584.7 204.9L585.0 204.4L585.3 204.6L585.6 205.2L585.9 206.6L586.2 206.6L586.5 205.4L586.8 205.2L587.1 206.6L587.4 206.0L587.7 205.8L588.0 205.5L588.3 206.7L588.6 204.8L588.9 202.1L589.2 200.4L589.5 201.1L589.8 205.4L590.1 204.3L590.4 201.4L590.7 202.5L591.0 204.3L591.3 206.1L591.6 203.6L591.9 208.5L592.2 204.5L592.5 204.4L592.8 205.5L593.1 206.1L593.4 206.4L593.7 208.3L594.0 206.6L594.3 205.8L594.6 204.8L594.9 204.6L595.2 206.2L595.5 206.6L595.8 203.5L596.1 204.6L596.4 206.8L596.7 205.0L597.0 204.9L597.3 206.6L597.6 204.9L597.9 204.5L598.2 207.1L598.5 209.1L598.8 209.6L599.1 207.0L599.4 205.5L599.7 204.9L600.0 206.3L600.3 205.7L600.6 207.4L600.9 208.9L601.2 210.6L601.5 206.9L601.8 207.5L602.1 206.3L602.4 206.7L602.7 208.5L603.0 208.4L603.3 208.6L603.6 209.5L603.9 211.8L604.2 207.7L604.5 206.1L604.8 206.4L605.1 208.0L605.4 208.6L605.7 209.3L606.0 209.9L606.2 209.1L606.5 208.1L606.8 207.6L607.1 207.0L607.4 210.7L607.7 210.5L608.0 209.8L608.3 208.9L608.6 209.1L608.9 206.3L609.2 205.8L609.5 207.5L609.8 209.6L610.1 209.7L610.4 208.1L610.7 207.2L611.0 209.1L611.3 207.4L611.6 208.0L611.9 206.5L612.2 210.0L612.5 207.0L612.8 207.1L613.1 205.0L613.4 205.5L613.7 203.2L614.0 208.1L614.3 206.2L614.6 206.6L614.9 208.0L615.2 208.6L615.5 205.0L615.8 205.6L616.1 209.2L616.4 207.0L616.7 207.0L617.0 209.1L617.3 208.5L617.6 211.0L617.9 209.4L618.2 208.9L618.5 209.4L618.8 207.5L619.1 208.4L619.4 207.5L619.7 209.3L620.0 210.1L620.3 206.8L620.6 206.3L620.9 206.4L621.2 207.2L621.5 210.1L621.8 207.7L622.1 205.7L622.4 207.4L622.7 208.4L623.0 208.3L623.3 207.1L623.6 206.0L623.9 206.8L624.2 205.3L624.5 206.1L624.8 206.4L625.1 205.6L625.4 206.8L625.7 207.7L626.0 210.6L626.3 210.7L626.6 207.8L626.9 207.6L627.2 210.1L627.5 210.5L627.8 208.7L628.1 205.4L628.4 205.9L628.7 206.4L629.0 208.3L629.3 207.6L629.6 205.1L629.9 204.4L630.2 205.7L630.5 204.5L630.8 207.4L631.1 206.6L631.4 202.9L631.7 203.0L632.0 205.1L632.3 203.4L632.6 205.1L632.9 205.3L633.2 207.1L633.5 208.3L633.8 206.6L634.1 205.5L634.4 204.6L634.7 206.0L635.0 205.7L635.3 208.5L635.6 208.2L635.9 208.0L636.2 207.7L636.5 205.0L636.8 204.9L637.1 206.8L637.4 207.1L637.7 202.6L638.0 205.8L638.3 208.0L638.6 206.2L638.9 204.2L639.2 204.2L639.5 207.4L639.8 207.1L640.1 206.3L640.4 206.0L640.7 206.4L641.0 206.0L641.3 204.7L641.6 205.3L641.9 207.5L642.2 206.3L642.5 206.9L642.8 209.2L643.1 207.4L643.4 207.2L643.7 206.5L644.0 208.4L644.3 205.6L644.6 204.2L644.9 202.9L645.2 205.9L645.5 208.6L645.8 207.9L646.1 209.8L646.4 208.7L646.7 206.7L647.0 204.5L647.3 203.7L647.6 206.7L647.9 203.4L648.2 204.4L648.5 209.4L648.8 210.0L649.1 209.7L649.4 208.6L649.7 210.6L650.0 210.6L650.3 211.0L650.6 207.8L650.9 207.9L651.2 208.0L651.5 208.2L651.8 209.2L652.1 210.8L652.4 210.6L652.7 208.7L653.0 208.2L653.3 210.3L653.6 212.2L653.9 210.8L654.2 210.2L654.4 208.6L654.7 205.5L655.0 208.8L655.3 211.7L655.6 212.1L655.9 207.6L656.2 209.5L656.5 208.0L656.8 208.5L657.1 208.7L657.4 209.9L657.7 214.0L658.0 215.1L658.3 215.0L658.6 209.5L658.9 210.1L659.2 211.0L659.5 210.7L659.8 208.6L660.1 208.6L660.4 210.0L660.7 212.9L661.0 212.2L661.3 209.1L661.6 210.6L661.9 209.8L662.2 208.7L662.5 209.6L662.8 209.1L663.1 210.8L663.4 211.9L663.7 210.7L664.0 210.4L664.3 210.6L664.6 210.1L664.9 210.4L665.2 211.2L665.5 209.4L665.8 209.1L666.1 209.9L666.4 212.1L666.7 213.5L667.0 210.9L667.3 209.2L667.6 211.8L667.9 212.2L668.2 212.8L668.5 216.0L668.8 214.7L669.1 213.2L669.4 212.4L669.7 214.3L670.0 214.5L670.3 212.5L670.6 214.3L670.9 212.0L671.2 211.9L671.5 213.3L671.8 213.0L672.1 210.6L672.4 211.5L672.7 210.7L673.0 210.7L673.3 212.7L673.6 211.5L673.9 211.2L674.2 212.6L674.5 212.7L674.8 213.0L675.1 211.6L675.4 209.6L675.7 211.6L676.0 212.5L676.3 213.4L676.6 210.8L676.9 210.6L677.2 212.5L677.5 216.2L677.8 217.2L678.1 214.7" stroke="#7d3f9f" stroke-width="1.05" fill="none" stroke-linejoin="round"/>
<path d="M390.7 200.5L391.0 197.2L391.3 199.6L391.6 198.1L391.9 198.1L392.2 196.1L392.5 195.7L392.8 192.8L393.1 191.0L393.4 192.8L393.7 193.5L394.0 195.1L394.3 193.0L394.6 192.4L394.9 194.2L395.2 194.9L395.5 194.9L395.8 195.0L396.1 193.8L396.4 191.2L396.7 190.7L397.0 191.7L397.3 195.1L397.6 195.4L397.9 194.3L398.2 192.4L398.5 193.0L398.8 193.7L399.1 195.8L399.4 196.3L399.7 193.1L400.0 190.1L400.3 190.0L400.6 194.6L400.9 193.8L401.2 195.1L401.5 195.0L401.8 194.4L402.1 193.4L402.4 194.9L402.7 195.2L403.0 194.5L403.3 192.2L403.6 192.2L403.9 193.9L404.2 195.4L404.5 197.7L404.8 195.7L405.1 194.8L405.4 191.8L405.7 194.2L406.0 197.3L406.3 194.9L406.6 195.5L406.9 196.6L407.2 194.4L407.5 196.2L407.8 193.0L408.1 192.3L408.4 194.5L408.7 194.2L409.0 194.2L409.3 194.1L409.6 191.9L409.9 193.8L410.2 194.7L410.5 196.5L410.8 194.2L411.1 195.2L411.4 192.8L411.7 192.6L412.0 194.3L412.3 191.2L412.6 194.1L412.9 193.7L413.2 192.7L413.5 193.1L413.8 193.2L414.1 193.7L414.4 192.9L414.6 195.0L414.9 192.4L415.2 190.8L415.5 191.1L415.8 193.0L416.1 196.7L416.4 193.7L416.7 195.4L417.0 194.1L417.3 197.1L417.6 197.0L417.9 195.7L418.2 194.5L418.5 193.3L418.8 195.2L419.1 196.6L419.4 194.3L419.7 194.0L420.0 192.6L420.3 192.0L420.6 192.1L420.9 192.4L421.2 192.8L421.5 194.3L421.8 193.3L422.1 192.7L422.4 194.0L422.7 196.2L423.0 194.2L423.3 192.4L423.6 192.3L423.9 197.1L424.2 197.9L424.5 193.5L424.8 192.2L425.1 193.6L425.4 195.0L425.7 192.8L426.0 192.8L426.3 191.8L426.6 193.3L426.9 194.9L427.2 196.4L427.5 196.0L427.8 194.1L428.1 193.5L428.4 197.4L428.7 197.7L429.0 196.6L429.3 192.4L429.6 193.6L429.9 194.5L430.2 194.4L430.5 195.9L430.8 194.3L431.1 192.6L431.4 192.3L431.7 192.4L432.0 193.1L432.3 197.6L432.6 196.6L432.9 193.1L433.2 191.5L433.5 192.8L433.8 189.9L434.1 191.6L434.4 191.4L434.7 193.7L435.0 190.3L435.3 188.6L435.6 189.7L435.9 191.8L436.2 192.4L436.5 191.5L436.8 191.7L437.1 193.4L437.4 194.5L437.7 190.0L438.0 188.4L438.3 189.1L438.6 192.3L438.9 193.2L439.2 192.8L439.5 192.6L439.8 192.8L440.1 190.2L440.4 189.6L440.7 189.2L441.0 190.8L441.3 194.9L441.6 193.4L441.9 191.6L442.2 190.9L442.5 190.6L442.8 192.3L443.1 192.4L443.4 191.2L443.7 193.4L444.0 193.2L444.3 197.0L444.6 196.0L444.9 195.2L445.2 194.0L445.5 192.7L445.8 193.5L446.1 195.5L446.4 198.3L446.7 197.6L447.0 193.6L447.3 196.8L447.6 194.4L447.9 193.2L448.2 191.1L448.5 191.0L448.8 192.5L449.1 193.5L449.4 196.3L449.7 197.0L450.0 194.9L450.3 194.1L450.6 193.2L450.9 191.6L451.2 192.5L451.5 191.5L451.8 190.3L452.1 191.7L452.4 193.8L452.7 194.5L453.0 192.6L453.3 193.3L453.6 191.8L453.9 191.9L454.2 190.0L454.5 187.5L454.8 189.6L455.1 191.6L455.4 190.6L455.7 191.5L456.0 193.0L456.3 196.0L456.6 193.9L456.9 194.2L457.2 196.7L457.5 193.6L457.8 188.6L458.1 188.6L458.4 191.9L458.7 194.5L459.0 197.2L459.3 195.3L459.6 191.7L459.9 191.0L460.2 192.0L460.5 191.8L460.8 191.5L461.1 189.4L461.4 186.6L461.7 186.0L462.0 188.7L462.3 191.4L462.6 190.2L462.8 189.0L463.1 189.2L463.4 188.6L463.7 188.8L464.0 188.5L464.3 189.7L464.6 189.9L464.9 191.4L465.2 193.5L465.5 189.5L465.8 188.2L466.1 190.1L466.4 191.3L466.7 190.1L467.0 187.0L467.3 190.1L467.6 190.5L467.9 186.9L468.2 182.4L468.5 186.7L468.8 190.1L469.1 192.1L469.4 190.0L469.7 189.2L470.0 186.7L470.3 185.1L470.6 186.7L470.9 187.2L471.2 185.5L471.5 187.1L471.8 185.9L472.1 187.0L472.4 187.8L472.7 186.4L473.0 183.7L473.3 185.0L473.6 185.3L473.9 185.3L474.2 185.1L474.5 184.1L474.8 186.0L475.1 187.2L475.4 185.5L475.7 186.0L476.0 188.4L476.3 186.3L476.6 187.8L476.9 188.9L477.2 185.3L477.5 185.4L477.8 182.8L478.1 184.4L478.4 183.7L478.7 182.1L479.0 182.4L479.3 183.3L479.6 184.2L479.9 182.4L480.2 179.6L480.5 181.1L480.8 183.1L481.1 184.4L481.4 181.8L481.7 183.2L482.0 181.0L482.3 179.1L482.6 180.2L482.9 177.8L483.2 179.9L483.5 178.7L483.8 178.1L484.1 175.7L484.4 176.3L484.7 177.7L485.0 173.8L485.3 173.2L485.6 174.7L485.9 177.1L486.2 174.2L486.5 173.0L486.8 175.3L487.1 176.6L487.4 176.7L487.7 174.1L488.0 176.5L488.3 175.4L488.6 173.7L488.9 173.3L489.2 177.0L489.5 175.4L489.8 173.4L490.1 173.6L490.4 171.6L490.7 170.0L491.0 170.8L491.3 171.5L491.6 173.8L491.9 172.1L492.2 169.0L492.5 169.7L492.8 171.2L493.1 170.6L493.4 166.8L493.7 165.5L494.0 163.9L494.3 163.4L494.6 164.8L494.9 169.0L495.2 165.9L495.5 165.7L495.8 166.1L496.1 167.7L496.4 167.2L496.7 162.4L497.0 164.6L497.3 164.0L497.6 164.1L497.9 164.7L498.2 163.1L498.5 164.9L498.8 163.5L499.1 163.8L499.4 166.3L499.7 163.4L500.0 159.4L500.3 159.8L500.6 160.2L500.9 160.0L501.2 158.6L501.5 160.2L501.8 160.8L502.1 159.2L502.4 158.0L502.7 156.5L503.0 157.3L503.3 158.3L503.6 161.1L503.9 157.3L504.2 154.2L504.5 154.2L504.8 156.0L505.1 154.1L505.4 150.7L505.7 150.8L506.0 152.1L506.3 152.1L506.6 151.2L506.9 154.2L507.2 153.4L507.5 153.8L507.8 151.8L508.1 150.5L508.4 148.6L508.7 148.9L509.0 150.2L509.3 147.8L509.6 146.8L509.9 148.2L510.2 149.1L510.4 147.7L510.7 148.2L511.0 152.1L511.3 153.0L511.6 150.4L511.9 148.5L512.2 146.0L512.5 142.3L512.8 140.3L513.1 145.0L513.4 147.3L513.7 145.9L514.0 139.5L514.3 138.1L514.6 141.5L514.9 143.6L515.2 143.1L515.5 145.0L515.8 139.7L516.1 138.8L516.4 137.3L516.7 138.4L517.0 139.4L517.3 136.3L517.6 135.8L517.9 137.9L518.2 137.2L518.5 139.0L518.8 138.2L519.1 137.0L519.4 135.6L519.7 134.5L520.0 134.2L520.3 132.7L520.6 133.8L520.9 132.1L521.2 132.1L521.5 129.0L521.8 129.4L522.1 132.1L522.4 132.7L522.7 132.8L523.0 131.8L523.3 127.8L523.6 128.7L523.9 131.2L524.2 132.0L524.5 133.0L524.8 130.9L525.1 131.3L525.4 132.2L525.7 130.9L526.0 127.7L526.3 131.6L526.6 129.4L526.9 131.2L527.2 131.3L527.5 128.4L527.8 123.5L528.1 128.3L528.4 122.5L528.7 123.4L529.0 123.8L529.3 121.2L529.6 125.0L529.9 126.6L530.2 122.8L530.5 126.6L530.8 129.9L531.1 126.8L531.4 127.8L531.7 131.7L532.0 126.8L532.3 127.1L532.6 123.7L532.9 122.5L533.2 109.4L533.5 110.3L533.8 97.9L534.1 66.0L534.4 -201.8L534.7 66.0L535.0 97.9L535.3 110.3L535.6 109.4L535.9 122.5L536.2 123.7L536.5 127.1L536.8 126.8L537.1 131.7L537.4 127.8L537.7 126.8L538.0 129.9L538.3 126.6L538.6 122.8L538.9 126.6L539.2 125.0L539.5 121.2L539.8 123.8L540.1 123.4L540.4 122.5L540.7 128.3L541.0 123.5L541.3 128.4L541.6 131.3L541.9 131.2L542.2 129.4L542.5 131.6L542.8 127.7L543.1 130.9L543.4 132.2L543.7 131.3L544.0 130.9L544.3 133.0L544.6 132.0L544.9 131.2L545.2 128.7L545.5 127.8L545.8 131.8L546.1 132.8L546.4 132.7L546.7 132.1L547.0 129.4L547.3 129.0L547.6 132.1L547.9 132.1L548.2 133.8L548.5 132.7L548.8 134.2L549.1 134.5L549.4 135.6L549.7 137.0L550.0 138.2L550.3 139.0L550.6 137.2L550.9 137.9L551.2 135.8L551.5 136.3L551.8 139.4L552.1 138.4L552.4 137.3L552.7 138.8L553.0 139.7L553.3 145.0L553.6 143.1L553.9 143.6L554.2 141.5L554.5 138.1L554.8 139.5L555.1 145.9L555.4 147.3L555.7 145.0L556.0 140.3L556.3 142.3L556.6 146.0L556.9 148.5L557.2 150.4L557.5 153.0L557.8 152.1L558.1 148.2L558.4 147.7L558.6 149.1L558.9 148.2L559.2 146.8L559.5 147.8L559.8 150.2L560.1 148.9L560.4 148.6L560.7 150.5L561.0 151.8L561.3 153.8L561.6 153.4L561.9 154.2L562.2 151.2L562.5 152.1L562.8 152.1L563.1 150.8L563.4 150.7L563.7 154.1L564.0 156.0L564.3 154.2L564.6 154.2L564.9 157.3L565.2 161.1L565.5 158.3L565.8 157.3L566.1 156.5L566.4 158.0L566.7 159.2L567.0 160.8L567.3 160.2L567.6 158.6L567.9 160.0L568.2 160.2L568.5 159.8L568.8 159.4L569.1 163.4L569.4 166.3L569.7 163.8L570.0 163.5L570.3 164.9L570.6 163.1L570.9 164.7L571.2 164.1L571.5 164.0L571.8 164.6L572.1 162.4L572.4 167.2L572.7 167.7L573.0 166.1L573.3 165.7L573.6 165.9L573.9 169.0L574.2 164.8L574.5 163.4L574.8 163.9L575.1 165.5L575.4 166.8L575.7 170.6L576.0 171.2L576.3 169.7L576.6 169.0L576.9 172.1L577.2 173.8L577.5 171.5L577.8 170.8L578.1 170.0L578.4 171.6L578.7 173.6L579.0 173.4L579.3 175.4L579.6 177.0L579.9 173.3L580.2 173.7L580.5 175.4L580.8 176.5L581.1 174.1L581.4 176.7L581.7 176.6L582.0 175.3L582.3 173.0L582.6 174.2L582.9 177.1L583.2 174.7L583.5 173.2L583.8 173.8L584.1 177.7L584.4 176.3L584.7 175.7L585.0 178.1L585.3 178.7L585.6 179.9L585.9 177.8L586.2 180.2L586.5 179.1L586.8 181.0L587.1 183.2L587.4 181.8L587.7 184.4L588.0 183.1L588.3 181.1L588.6 179.6L588.9 182.4L589.2 184.2L589.5 183.3L589.8 182.4L590.1 182.1L590.4 183.7L590.7 184.4L591.0 182.8L591.3 185.4L591.6 185.3L591.9 188.9L592.2 187.8L592.5 186.3L592.8 188.4L593.1 186.0L593.4 185.5L593.7 187.2L594.0 186.0L594.3 184.1L594.6 185.1L594.9 185.3L595.2 185.3L595.5 185.0L595.8 183.7L596.1 186.4L596.4 187.8L596.7 187.0L597.0 185.9L597.3 187.1L597.6 185.5L597.9 187.2L598.2 186.7L598.5 185.1L598.8 186.7L599.1 189.2L599.4 190.0L599.7 192.1L600.0 190.1L600.3 186.7L600.6 182.4L600.9 186.9L601.2 190.5L601.5 190.1L601.8 187.0L602.1 190.1L602.4 191.3L602.7 190.1L603.0 188.2L603.3 189.5L603.6 193.5L603.9 191.4L604.2 189.9L604.5 189.7L604.8 188.5L605.1 188.8L605.4 188.6L605.7 189.2L606.0 189.0L606.2 190.2L606.5 191.4L606.8 188.7L607.1 186.0L607.4 186.6L607.7 189.4L608.0 191.5L608.3 191.8L608.6 192.0L608.9 191.0L609.2 191.7L609.5 195.3L609.8 197.2L610.1 194.5L610.4 191.9L610.7 188.6L611.0 188.6L611.3 193.6L611.6 196.7L611.9 194.2L612.2 193.9L612.5 196.0L612.8 193.0L613.1 191.5L613.4 190.6L613.7 191.6L614.0 189.6L614.3 187.5L614.6 190.0L614.9 191.9L615.2 191.8L615.5 193.3L615.8 192.6L616.1 194.5L616.4 193.8L616.7 191.7L617.0 190.3L617.3 191.5L617.6 192.5L617.9 191.6L618.2 193.2L618.5 194.1L618.8 194.9L619.1 197.0L619.4 196.3L619.7 193.5L620.0 192.5L620.3 191.0L620.6 191.1L620.9 193.2L621.2 194.4L621.5 196.8L621.8 193.6L622.1 197.6L622.4 198.3L622.7 195.5L623.0 193.5L623.3 192.7L623.6 194.0L623.9 195.2L624.2 196.0L624.5 197.0L624.8 193.2L625.1 193.4L625.4 191.2L625.7 192.4L626.0 192.3L626.3 190.6L626.6 190.9L626.9 191.6L627.2 193.4L627.5 194.9L627.8 190.8L628.1 189.2L628.4 189.6L628.7 190.2L629.0 192.8L629.3 192.6L629.6 192.8L629.9 193.2L630.2 192.3L630.5 189.1L630.8 188.4L631.1 190.0L631.4 194.5L631.7 193.4L632.0 191.7L632.3 191.5L632.6 192.4L632.9 191.8L633.2 189.7L633.5 188.6L633.8 190.3L634.1 193.7L634.4 191.4L634.7 191.6L635.0 189.9L635.3 192.8L635.6 191.5L635.9 193.1L636.2 196.6L636.5 197.6L636.8 193.1L637.1 192.4L637.4 192.3L637.7 192.6L638.0 194.3L638.3 195.9L638.6 194.4L638.9 194.5L639.2 193.6L639.5 192.4L639.8 196.6L640.1 197.7L640.4 197.4L640.7 193.5L641.0 194.1L641.3 196.0L641.6 196.4L641.9 194.9L642.2 193.3L642.5 191.8L642.8 192.8L643.1 192.8L643.4 195.0L643.7 193.6L644.0 192.2L644.3 193.5L644.6 197.9L644.9 197.1L645.2 192.3L645.5 192.4L645.8 194.2L646.1 196.2L646.4 194.0L646.7 192.7L647.0 193.3L647.3 194.3L647.6 192.8L647.9 192.4L648.2 192.1L648.5 192.0L648.8 192.6L649.1 194.0L649.4 194.3L649.7 196.6L650.0 195.2L650.3 193.3L650.6 194.5L650.9 195.7L651.2 197.0L651.5 197.1L651.8 194.1L652.1 195.4L652.4 193.7L652.7 196.7L653.0 193.0L653.3 191.1L653.6 190.8L653.9 192.4L654.2 195.0L654.4 192.9L654.7 193.7L655.0 193.2L655.3 193.1L655.6 192.7L655.9 193.7L656.2 194.1L656.5 191.2L656.8 194.3L657.1 192.6L657.4 192.8L657.7 195.2L658.0 194.2L658.3 196.5L658.6 194.7L658.9 193.8L659.2 191.9L659.5 194.1L659.8 194.2L660.1 194.2L660.4 194.5L660.7 192.3L661.0 193.0L661.3 196.2L661.6 194.4L661.9 196.6L662.2 195.5L662.5 194.9L662.8 197.3L663.1 194.2L663.4 191.8L663.7 194.8L664.0 195.7L664.3 197.7L664.6 195.4L664.9 193.9L665.2 192.2L665.5 192.2L665.8 194.5L666.1 195.2L666.4 194.9L666.7 193.4L667.0 194.4L667.3 195.0L667.6 195.1L667.9 193.8L668.2 194.6L668.5 190.0L668.8 190.1L669.1 193.1L669.4 196.3L669.7 195.8L670.0 193.7L670.3 193.0L670.6 192.4L670.9 194.3L671.2 195.4L671.5 195.1L671.8 191.7L672.1 190.7L672.4 191.2L672.7 193.8L673.0 195.0L673.3 194.9L673.6 194.9L673.9 194.2L674.2 192.4L674.5 193.0L674.8 195.1L675.1 193.5L675.4 192.8L675.7 191.0L676.0 192.8L676.3 195.7L676.6 196.1L676.9 198.1L677.2 198.1L677.5 199.6L677.8 197.2L678.1 200.5" stroke="#149a70" stroke-width="1.05" fill="none" stroke-linejoin="round"/>
<path d="M390.7 206.4L391.0 204.4L391.3 203.6L391.6 204.3L391.9 204.9L392.2 207.5L392.5 208.4L392.8 207.6L393.1 208.3L393.4 209.6L393.7 207.2L394.0 208.1L394.3 211.6L394.6 211.4L394.9 209.1L395.2 207.9L395.5 206.6L395.8 207.5L396.1 209.6L396.4 209.5L396.7 209.1L397.0 208.5L397.3 208.2L397.6 209.9L397.9 210.3L398.2 208.1L398.5 210.1L398.8 209.7L399.1 208.2L399.4 209.3L399.7 210.8L400.0 205.0L400.3 207.0L400.6 210.0L400.9 212.0L401.2 208.6L401.5 209.3L401.8 209.3L402.1 209.4L402.4 208.3L402.7 208.9L403.0 210.3L403.3 209.7L403.6 212.5L403.9 211.7L404.2 212.4L404.5 209.3L404.8 209.8L405.1 210.6L405.4 207.7L405.7 210.0L406.0 210.4L406.3 209.3L406.6 209.6L406.9 210.2L407.2 213.0L407.5 211.4L407.8 209.1L408.1 210.6L408.4 211.9L408.7 210.3L409.0 210.0L409.3 209.5L409.6 210.6L409.9 208.8L410.2 208.0L410.5 207.0L410.8 208.7L411.1 208.3L411.4 208.6L411.7 208.7L412.0 207.5L412.3 208.1L412.6 209.5L412.9 209.6L413.2 209.7L413.5 210.4L413.8 209.1L414.1 210.0L414.4 209.5L414.6 209.4L414.9 208.5L415.2 208.9L415.5 206.5L415.8 208.2L416.1 210.2L416.4 211.3L416.7 210.4L417.0 207.9L417.3 208.4L417.6 208.3L417.9 206.8L418.2 204.9L418.5 205.6L418.8 207.5L419.1 208.3L419.4 210.6L419.7 209.2L420.0 206.3L420.3 207.1L420.6 206.8L420.9 207.7L421.2 206.8L421.5 206.7L421.8 205.3L422.1 204.8L422.4 205.4L422.7 204.9L423.0 207.3L423.3 205.7L423.6 205.4L423.9 208.0L424.2 208.7L424.5 207.5L424.8 207.0L425.1 208.2L425.4 208.2L425.7 205.6L426.0 204.9L426.3 206.0L426.6 206.7L426.9 206.9L427.2 208.3L427.5 206.2L427.8 203.5L428.1 204.2L428.4 207.6L428.7 207.7L429.0 205.5L429.3 205.0L429.6 206.7L429.9 205.3L430.2 205.0L430.5 206.2L430.8 205.0L431.1 202.6L431.4 205.5L431.7 204.8L432.0 205.1L432.3 206.4L432.6 205.0L432.9 208.0L433.2 208.0L433.5 208.5L433.8 206.7L434.1 210.7L434.4 209.5L434.7 210.2L435.0 208.0L435.3 208.0L435.6 207.5L435.9 208.5L436.2 205.7L436.5 204.0L436.8 206.3L437.1 207.6L437.4 207.4L437.7 211.1L438.0 210.9L438.3 209.2L438.6 209.4L438.9 209.6L439.2 207.4L439.5 205.5L439.8 206.0L440.1 205.7L440.4 206.9L440.7 207.5L441.0 206.9L441.3 208.8L441.6 207.0L441.9 206.2L442.2 204.9L442.5 207.2L442.8 206.9L443.1 206.7L443.4 204.4L443.7 205.1L444.0 205.6L444.3 207.2L444.6 205.3L444.9 203.2L445.2 205.8L445.5 208.3L445.8 208.0L446.1 206.6L446.4 207.4L446.7 207.0L447.0 205.0L447.3 207.1L447.6 207.8L447.9 206.1L448.2 205.1L448.5 203.8L448.8 203.3L449.1 205.5L449.4 204.7L449.7 203.0L450.0 204.2L450.3 204.5L450.6 205.7L450.9 208.6L451.2 207.1L451.5 207.5L451.8 208.1L452.1 207.0L452.4 206.8L452.7 205.4L453.0 207.4L453.3 208.2L453.6 207.9L453.9 204.5L454.2 203.5L454.5 203.7L454.8 205.6L455.1 206.3L455.4 204.6L455.7 204.0L456.0 205.3L456.3 206.4L456.6 204.2L456.9 203.8L457.2 201.7L457.5 202.6L457.8 203.1L458.1 204.0L458.4 205.0L458.7 206.8L459.0 205.3L459.3 203.7L459.6 203.2L459.9 201.7L460.2 202.1L460.5 201.9L460.8 201.6L461.1 203.8L461.4 205.2L461.7 204.3L462.0 204.4L462.3 204.5L462.6 203.9L462.8 203.1L463.1 203.7L463.4 205.3L463.7 204.4L464.0 205.6L464.3 204.7L464.6 203.8L464.9 203.0L465.2 203.2L465.5 203.9L465.8 203.8L466.1 202.0L466.4 203.7L466.7 206.7L467.0 204.6L467.3 204.1L467.6 208.1L467.9 208.1L468.2 207.4L468.5 203.7L468.8 203.3L469.1 201.9L469.4 204.2L469.7 203.0L470.0 204.6L470.3 205.2L470.6 204.6L470.9 203.6L471.2 203.1L471.5 201.8L471.8 204.1L472.1 203.9L472.4 202.8L472.7 202.6L473.0 202.7L473.3 203.3L473.6 203.3L473.9 203.7L474.2 200.6L474.5 203.4L474.8 204.9L475.1 203.1L475.4 202.5L475.7 202.5L476.0 203.2L476.3 201.9L476.6 202.5L476.9 201.1L477.2 201.5L477.5 201.2L477.8 202.7L478.1 201.0L478.4 200.9L478.7 200.7L479.0 199.6L479.3 199.6L479.6 199.0L479.9 196.4L480.2 199.3L480.5 199.2L480.8 199.5L481.1 197.2L481.4 198.5L481.7 197.5L482.0 196.4L482.3 197.9L482.6 197.9L482.9 197.7L483.2 197.4L483.5 196.7L483.8 197.6L484.1 196.9L484.4 197.5L484.7 198.6L485.0 198.2L485.3 199.9L485.6 197.6L485.9 198.6L486.2 201.3L486.5 200.6L486.8 198.4L487.1 197.4L487.4 197.5L487.7 196.8L488.0 195.1L488.3 197.4L488.6 195.7L488.9 194.7L489.2 193.3L489.5 193.7L489.8 197.1L490.1 199.0L490.4 196.0L490.7 194.0L491.0 195.1L491.3 196.3L491.6 195.3L491.9 194.0L492.2 195.1L492.5 192.7L492.8 193.2L493.1 193.4L493.4 191.6L493.7 192.3L494.0 191.2L494.3 192.7L494.6 191.9L494.9 193.3L495.2 193.6L495.5 192.8L495.8 190.2L496.1 190.6L496.4 192.9L496.7 192.8L497.0 191.2L497.3 190.8L497.6 192.2L497.9 189.9L498.2 191.1L498.5 190.3L498.8 187.8L499.1 188.9L499.4 185.8L499.7 186.5L500.0 185.1L500.3 185.0L500.6 185.6L500.9 184.4L501.2 185.9L501.5 185.7L501.8 187.5L502.1 186.5L502.4 187.1L502.7 184.0L503.0 185.3L503.3 184.5L503.6 185.1L503.9 184.3L504.2 182.9L504.5 184.0L504.8 186.5L505.1 185.2L505.4 183.3L505.7 183.5L506.0 183.0L506.3 181.5L506.6 181.9L506.9 181.7L507.2 181.8L507.5 181.0L507.8 183.2L508.1 180.9L508.4 182.4L508.7 179.1L509.0 181.4L509.3 180.3L509.6 181.1L509.9 180.3L510.2 180.5L510.4 180.1L510.7 179.9L511.0 178.1L511.3 180.1L511.6 177.3L511.9 177.8L512.2 177.5L512.5 178.8L512.8 181.3L513.1 179.4L513.4 177.8L513.7 176.3L514.0 178.6L514.3 176.7L514.6 176.9L514.9 177.6L515.2 178.0L515.5 176.6L515.8 176.8L516.1 176.7L516.4 175.9L516.7 175.7L517.0 176.0L517.3 174.4L517.6 172.7L517.9 173.2L518.2 174.7L518.5 174.9L518.8 175.4L519.1 175.7L519.4 173.9L519.7 174.5L520.0 172.1L520.3 171.9L520.6 167.7L520.9 168.7L521.2 169.4L521.5 168.5L521.8 169.6L522.1 171.4L522.4 172.4L522.7 169.8L523.0 168.3L523.3 169.1L523.6 169.7L523.9 169.7L524.2 169.1L524.5 170.6L524.8 170.3L525.1 163.7L525.4 166.4L525.7 167.3L526.0 167.0L526.3 167.0L526.6 164.3L526.9 167.0L527.2 168.0L527.5 166.2L527.8 169.6L528.1 166.2L528.4 168.4L528.7 169.0L529.0 166.4L529.3 163.6L529.6 167.1L529.9 167.3L530.2 165.8L530.5 169.5L530.8 167.3L531.1 166.1L531.4 165.8L531.7 166.1L532.0 165.8L532.3 164.0L532.6 163.0L532.9 162.6L533.2 161.6L533.5 159.7L533.8 160.4L534.1 164.7L534.4 101.8L534.7 162.9L535.0 156.7L535.3 158.9L535.6 163.0L535.9 162.3L536.2 164.8L536.5 164.8L536.8 162.1L537.1 164.5L537.4 160.8L537.7 166.5L538.0 167.3L538.3 167.7L538.6 163.7L538.9 167.7L539.2 169.2L539.5 165.9L539.8 167.0L540.1 168.4L540.4 166.7L540.7 166.2L541.0 166.7L541.3 164.7L541.6 163.6L541.9 165.8L542.2 169.2L542.5 163.7L542.8 167.7L543.1 163.6L543.4 166.2L543.7 169.9L544.0 169.9L544.3 170.6L544.6 170.7L544.9 169.1L545.2 171.2L545.5 170.3L545.8 169.9L546.1 170.3L546.4 170.7L546.7 170.3L547.0 169.9L547.3 169.9L547.6 171.7L547.9 171.2L548.2 171.9L548.5 171.5L548.8 172.3L549.1 173.3L549.4 173.8L549.7 176.2L550.0 176.8L550.3 176.3L550.6 176.1L550.9 174.6L551.2 172.9L551.5 175.1L551.8 177.0L552.1 176.5L552.4 176.1L552.7 175.0L553.0 174.9L553.3 174.5L553.6 177.3L553.9 178.1L554.2 179.0L554.5 181.1L554.8 180.4L555.1 176.3L555.4 175.3L555.7 177.1L556.0 181.3L556.3 184.4L556.6 183.1L556.9 180.6L557.2 179.8L557.5 179.1L557.8 181.0L558.1 182.3L558.4 180.6L558.6 182.4L558.9 184.5L559.2 183.8L559.5 184.9L559.8 184.6L560.1 185.6L560.4 185.3L560.7 185.5L561.0 184.9L561.3 183.6L561.6 184.1L561.9 184.4L562.2 185.6L562.5 186.5L562.8 190.3L563.1 187.5L563.4 186.2L563.7 187.9L564.0 188.0L564.3 189.6L564.6 189.8L564.9 189.2L565.2 187.3L565.5 186.4L565.8 187.0L566.1 191.8L566.4 193.0L566.7 191.6L567.0 190.2L567.3 190.7L567.6 189.9L567.9 193.3L568.2 193.9L568.5 191.3L568.8 188.1L569.1 188.8L569.4 185.6L569.7 187.6L570.0 188.4L570.3 189.8L570.6 189.5L570.9 191.6L571.2 192.5L571.5 190.9L571.8 189.5L572.1 191.2L572.4 191.6L572.7 192.2L573.0 190.8L573.3 190.5L573.6 191.7L573.9 193.0L574.2 192.8L574.5 192.4L574.8 191.0L575.1 189.8L575.4 189.2L575.7 190.7L576.0 190.4L576.3 191.4L576.6 193.4L576.9 194.0L577.2 192.5L577.5 191.9L577.8 192.2L578.1 193.9L578.4 194.1L578.7 192.4L579.0 191.4L579.3 192.5L579.6 193.9L579.9 190.7L580.2 193.8L580.5 197.3L580.8 197.1L581.1 197.3L581.4 199.9L581.7 198.8L582.0 196.6L582.3 194.4L582.6 193.7L582.9 193.5L583.2 194.2L583.5 195.1L583.8 196.8L584.1 196.5L584.4 196.3L584.7 193.2L585.0 194.3L585.3 198.5L585.6 198.2L585.9 195.2L586.2 193.9L586.5 194.8L586.8 194.8L587.1 199.2L587.4 196.2L587.7 194.8L588.0 194.4L588.3 196.8L588.6 199.0L588.9 197.3L589.2 197.3L589.5 197.9L589.8 196.8L590.1 196.8L590.4 200.6L590.7 200.1L591.0 197.9L591.3 197.9L591.6 199.9L591.9 199.6L592.2 199.3L592.5 198.9L592.8 198.1L593.1 199.5L593.4 198.8L593.7 198.5L594.0 199.1L594.3 200.5L594.6 202.2L594.9 202.5L595.2 202.6L595.5 199.8L595.8 199.6L596.1 201.0L596.4 203.2L596.7 204.2L597.0 201.9L597.3 201.8L597.6 201.8L597.9 200.5L598.2 199.1L598.5 197.5L598.8 199.2L599.1 196.2L599.4 197.0L599.7 198.7L600.0 199.3L600.3 199.1L600.6 202.6L600.9 201.8L601.2 201.3L601.5 199.8L601.8 197.9L602.1 196.1L602.4 198.7L602.7 199.7L603.0 203.3L603.3 205.3L603.6 203.0L603.9 200.9L604.2 197.8L604.5 196.4L604.8 199.5L605.1 198.6L605.4 200.2L605.7 198.7L606.0 201.4L606.2 200.1L606.5 199.9L606.8 204.0L607.1 206.1L607.4 202.0L607.7 200.8L608.0 199.6L608.3 202.7L608.6 201.2L608.9 201.7L609.2 201.8L609.5 202.6L609.8 203.6L610.1 202.5L610.4 203.3L610.7 205.4L611.0 203.1L611.3 203.6L611.6 205.0L611.9 203.5L612.2 205.3L612.5 204.2L612.8 202.0L613.1 199.6L613.4 200.4L613.7 202.0L614.0 202.1L614.3 203.7L614.6 204.5L614.9 204.4L615.2 203.4L615.5 203.5L615.8 201.6L616.1 200.9L616.4 201.5L616.7 201.8L617.0 202.7L617.3 202.4L617.6 201.4L617.9 202.1L618.2 202.2L618.5 203.0L618.8 201.2L619.1 202.6L619.4 201.4L619.7 202.3L620.0 203.8L620.3 201.5L620.6 199.4L620.9 200.7L621.2 202.6L621.5 203.3L621.8 202.1L622.1 200.1L622.4 200.5L622.7 198.9L623.0 202.6L623.3 204.2L623.6 203.6L623.9 202.1L624.2 202.2L624.5 202.2L624.8 202.5L625.1 201.9L625.4 202.7L625.7 200.1L626.0 197.7L626.3 198.4L626.6 199.6L626.9 199.2L627.2 200.6L627.5 200.9L627.8 200.7L628.1 201.6L628.4 203.2L628.7 200.8L629.0 199.6L629.3 199.5L629.6 201.5L629.9 201.7L630.2 200.5L630.5 200.1L630.8 201.4L631.1 201.1L631.4 197.4L631.7 198.6L632.0 197.8L632.3 196.8L632.6 198.8L632.9 199.7L633.2 200.4L633.5 199.5L633.8 200.6L634.1 199.6L634.4 201.4L634.7 201.1L635.0 202.9L635.3 202.1L635.6 201.5L635.9 199.9L636.2 203.3L636.5 203.1L636.8 203.3L637.1 203.7L637.4 202.0L637.7 201.6L638.0 203.8L638.3 203.9L638.6 204.4L638.9 202.6L639.2 204.3L639.5 204.9L639.8 202.2L640.1 202.2L640.4 202.6L640.7 201.6L641.0 203.3L641.3 205.0L641.6 204.9L641.9 205.1L642.2 202.4L642.5 201.3L642.8 203.9L643.1 204.3L643.4 203.9L643.7 203.3L644.0 204.0L644.3 203.8L644.6 205.2L644.9 205.0L645.2 204.3L645.5 203.8L645.8 204.7L646.1 208.1L646.4 207.1L646.7 203.2L647.0 202.6L647.3 205.4L647.6 207.5L647.9 208.1L648.2 202.2L648.5 200.9L648.8 202.0L649.1 205.2L649.4 205.6L649.7 202.7L650.0 202.0L650.3 202.5L650.6 203.7L650.9 203.0L651.2 203.0L651.5 206.3L651.8 205.8L652.1 203.3L652.4 204.1L652.7 205.5L653.0 205.1L653.3 203.0L653.6 205.3L653.9 207.6L654.2 207.4L654.4 204.0L654.7 203.6L655.0 205.7L655.3 205.2L655.6 204.7L655.9 208.4L656.2 208.8L656.5 210.4L656.8 208.7L657.1 205.6L657.4 203.7L657.7 203.9L658.0 205.7L658.3 204.4L658.6 206.7L658.9 206.3L659.2 205.7L659.5 203.4L659.8 204.0L660.1 205.3L660.4 206.6L660.7 207.2L661.0 206.8L661.3 206.7L661.6 205.2L661.9 205.7L662.2 205.1L662.5 203.8L662.8 202.5L663.1 206.5L663.4 207.2L663.7 207.8L664.0 206.8L664.3 208.0L664.6 205.5L664.9 205.6L665.2 204.6L665.5 206.8L665.8 207.2L666.1 203.6L666.4 203.0L666.7 203.3L667.0 204.3L667.3 201.2L667.6 203.9L667.9 204.6L668.2 204.1L668.5 204.9L668.8 206.0L669.1 205.4L669.4 205.6L669.7 206.7L670.0 204.7L670.3 205.7L670.6 206.4L670.9 206.2L671.2 204.9L671.5 204.7L671.8 204.0L672.1 205.9L672.4 207.3L672.7 207.4L673.0 207.2L673.3 206.8L673.6 210.4L673.9 211.4L674.2 208.2L674.5 206.5L674.8 207.6L675.1 207.5L675.4 211.2L675.7 209.0L676.0 207.0L676.3 207.9L676.6 207.8L676.9 209.6L677.2 208.2L677.5 208.0L677.8 206.9L678.1 207.4" stroke="#17a9da" stroke-width="1.05" fill="none" stroke-linejoin="round"/>
</g>
<path d="M390.7 176.6h5M390.7 134.5h5M390.7 92.5h5M390.7 50.4h5M438.6 218.6v-5M486.5 218.6v-5M534.4 218.6v-5M582.3 218.6v-5M630.2 218.6v-5" stroke="#222" stroke-width="0.85" fill="none"/>
<rect x="390.7" y="8.4" width="287.4" height="210.2" fill="none" stroke="#222" stroke-width="0.9"/>
<text class="t" x="386.2" y="222.9" text-anchor="end">0</text>
<text class="t" x="386.2" y="180.9" text-anchor="end">0.1</text>
<text class="t" x="386.2" y="138.8" text-anchor="end">0.2</text>
<text class="t" x="386.2" y="96.8" text-anchor="end">0.3</text>
<text class="t" x="386.2" y="54.7" text-anchor="end">0.4</text>
<text class="t" x="386.2" y="12.7" text-anchor="end">0.5</text>
<text class="t" x="390.7" y="234.7" text-anchor="middle">–<tspan dx="0.6">30</tspan></text>
<text class="t" x="438.6" y="234.7" text-anchor="middle">–<tspan dx="0.6">20</tspan></text>
<text class="t" x="486.5" y="234.7" text-anchor="middle">–<tspan dx="0.6">10</tspan></text>
<text class="t" x="534.4" y="234.7" text-anchor="middle">0</text>
<text class="t" x="582.3" y="234.7" text-anchor="middle">10</text>
<text class="t" x="630.2" y="234.7" text-anchor="middle">20</text>
<text class="t" x="678.1" y="234.7" text-anchor="middle">30</text>
<text class="a" x="533.7" y="254.0" text-anchor="middle">Frequency lag, kHz</text>
<text class="a" transform="translate(359.4 114.1) rotate(-90)" text-anchor="middle">Correlation coefficient</text>
<text class="l l2" x="628.6" y="20.9" text-anchor="end">Pulse 26 ACF1</text>
<path d="M634.2 17.4H664.6" stroke="#7d3f9f" stroke-width="0.85" fill="none"/>
<text class="l l2" x="628.6" y="32.0" text-anchor="end">Pulse 26 ACF2</text>
<path d="M634.2 28.5H664.6" stroke="#149a70" stroke-width="0.85" fill="none"/>
<text class="l l2" x="628.6" y="43.2" text-anchor="end">Pulse 26 CCF</text>
<path d="M634.2 39.7H664.6" stroke="#17a9da" stroke-width="0.85" fill="none"/>
<g clip-path="url(#cl1)">
<path d="M44.2 439.5L48.7 441.1L53.2 437.9L57.7 438.4L62.2 439.7L66.6 438.7L71.1 439.0L75.6 434.7L80.1 435.7L84.6 437.9L89.1 434.7L93.6 439.4L98.1 440.1L102.6 433.3L107.0 431.3L111.5 433.6L116.0 429.4L120.5 435.0L125.0 436.0L129.5 432.4L134.0 433.6L138.5 430.3L143.0 432.8L147.4 428.7L151.9 430.9L156.4 431.3L160.9 429.1L165.4 430.6L169.9 425.7L174.4 414.5L178.9 408.9L183.4 384.1L187.9 56.8L192.3 384.1L196.8 408.9L201.3 414.5L205.8 425.7L210.3 430.6L214.8 429.1L219.3 431.3L223.8 430.9L228.3 428.7L232.7 432.8L237.2 430.3L241.7 433.6L246.2 432.4L250.7 436.0L255.2 435.0L259.7 429.4L264.2 433.6L268.7 431.3L273.1 433.3L277.6 440.1L282.1 439.4L286.6 434.7L291.1 437.9L295.6 435.7L300.1 434.7L304.6 439.0L309.1 438.7L313.5 439.7L318.0 438.4L322.5 437.9L327.0 441.1L331.5 439.5" stroke="#7d3f9f" stroke-width="0.9" fill="none" stroke-linejoin="round"/>
<path d="M44.2 387.7L48.7 385.1L53.2 387.7L57.7 383.7L62.2 379.7L66.6 378.7L71.1 377.7L75.6 377.5L80.1 379.3L84.6 377.8L89.1 373.9L93.6 378.1L98.1 380.3L102.6 375.6L107.0 375.6L111.5 374.9L116.0 380.4L120.5 374.5L125.0 370.9L129.5 370.0L134.0 370.0L138.5 370.5L143.0 370.2L147.4 368.7L151.9 368.3L156.4 370.5L160.9 372.4L165.4 367.2L169.9 369.0L174.4 368.0L178.9 366.8L183.4 307.8L187.9 56.8L192.3 307.8L196.8 366.8L201.3 368.0L205.8 369.0L210.3 367.2L214.8 372.4L219.3 370.5L223.8 368.3L228.3 368.7L232.7 370.2L237.2 370.5L241.7 370.0L246.2 370.0L250.7 370.9L255.2 374.5L259.7 380.4L264.2 374.9L268.7 375.6L273.1 375.6L277.6 380.3L282.1 378.1L286.6 373.9L291.1 377.8L295.6 379.3L300.1 377.5L304.6 377.7L309.1 378.7L313.5 379.7L318.0 383.7L322.5 387.7L327.0 385.1L331.5 387.7" stroke="#149a70" stroke-width="0.9" fill="none" stroke-linejoin="round"/>
<path d="M44.2 420.1L48.7 417.0L53.2 414.8L57.7 412.3L62.2 414.2L66.6 413.4L71.1 414.9L75.6 416.7L80.1 412.0L84.6 414.0L89.1 410.1L93.6 411.2L98.1 410.1L102.6 408.9L107.0 409.0L111.5 408.9L116.0 409.3L120.5 407.9L125.0 408.6L129.5 408.9L134.0 409.9L138.5 409.0L143.0 405.2L147.4 408.6L151.9 411.5L156.4 409.3L160.9 407.1L165.4 408.6L169.9 409.6L174.4 407.6L178.9 406.4L183.4 406.9L187.9 369.3L192.3 409.3L196.8 407.1L201.3 404.5L205.8 401.7L210.3 405.0L214.8 408.2L219.3 407.0L223.8 408.8L228.3 408.1L232.7 410.1L237.2 410.8L241.7 407.1L246.2 411.1L250.7 410.4L255.2 411.1L259.7 412.5L264.2 410.8L268.7 411.5L273.1 417.0L277.6 412.0L282.1 413.0L286.6 415.2L291.1 417.4L295.6 412.5L300.1 411.8L304.6 414.0L309.1 416.4L313.5 414.9L318.0 412.5L322.5 414.9L327.0 413.7L331.5 414.9" stroke="#17a9da" stroke-width="0.9" fill="none" stroke-linejoin="round"/>
</g>
<circle cx="44.2" cy="439.5" r="1.75" fill="#fff" fill-opacity="0.3" stroke="#7d3f9f" stroke-width="1.25"/>
<circle cx="48.7" cy="441.1" r="1.75" fill="#fff" fill-opacity="0.3" stroke="#7d3f9f" stroke-width="1.25"/>
<circle cx="53.2" cy="437.9" r="1.75" fill="#fff" fill-opacity="0.3" stroke="#7d3f9f" stroke-width="1.25"/>
<circle cx="57.7" cy="438.4" r="1.75" fill="#fff" fill-opacity="0.3" stroke="#7d3f9f" stroke-width="1.25"/>
<circle cx="62.2" cy="439.7" r="1.75" fill="#fff" fill-opacity="0.3" stroke="#7d3f9f" stroke-width="1.25"/>
<circle cx="66.6" cy="438.7" r="1.75" fill="#fff" fill-opacity="0.3" stroke="#7d3f9f" stroke-width="1.25"/>
<circle cx="71.1" cy="439.0" r="1.75" fill="#fff" fill-opacity="0.3" stroke="#7d3f9f" stroke-width="1.25"/>
<circle cx="75.6" cy="434.7" r="1.75" fill="#fff" fill-opacity="0.3" stroke="#7d3f9f" stroke-width="1.25"/>
<circle cx="80.1" cy="435.7" r="1.75" fill="#fff" fill-opacity="0.3" stroke="#7d3f9f" stroke-width="1.25"/>
<circle cx="84.6" cy="437.9" r="1.75" fill="#fff" fill-opacity="0.3" stroke="#7d3f9f" stroke-width="1.25"/>
<circle cx="89.1" cy="434.7" r="1.75" fill="#fff" fill-opacity="0.3" stroke="#7d3f9f" stroke-width="1.25"/>
<circle cx="93.6" cy="439.4" r="1.75" fill="#fff" fill-opacity="0.3" stroke="#7d3f9f" stroke-width="1.25"/>
<circle cx="98.1" cy="440.1" r="1.75" fill="#fff" fill-opacity="0.3" stroke="#7d3f9f" stroke-width="1.25"/>
<circle cx="102.6" cy="433.3" r="1.75" fill="#fff" fill-opacity="0.3" stroke="#7d3f9f" stroke-width="1.25"/>
<circle cx="107.0" cy="431.3" r="1.75" fill="#fff" fill-opacity="0.3" stroke="#7d3f9f" stroke-width="1.25"/>
<circle cx="111.5" cy="433.6" r="1.75" fill="#fff" fill-opacity="0.3" stroke="#7d3f9f" stroke-width="1.25"/>
<circle cx="116.0" cy="429.4" r="1.75" fill="#fff" fill-opacity="0.3" stroke="#7d3f9f" stroke-width="1.25"/>
<circle cx="120.5" cy="435.0" r="1.75" fill="#fff" fill-opacity="0.3" stroke="#7d3f9f" stroke-width="1.25"/>
<circle cx="125.0" cy="436.0" r="1.75" fill="#fff" fill-opacity="0.3" stroke="#7d3f9f" stroke-width="1.25"/>
<circle cx="129.5" cy="432.4" r="1.75" fill="#fff" fill-opacity="0.3" stroke="#7d3f9f" stroke-width="1.25"/>
<circle cx="134.0" cy="433.6" r="1.75" fill="#fff" fill-opacity="0.3" stroke="#7d3f9f" stroke-width="1.25"/>
<circle cx="138.5" cy="430.3" r="1.75" fill="#fff" fill-opacity="0.3" stroke="#7d3f9f" stroke-width="1.25"/>
<circle cx="143.0" cy="432.8" r="1.75" fill="#fff" fill-opacity="0.3" stroke="#7d3f9f" stroke-width="1.25"/>
<circle cx="147.4" cy="428.7" r="1.75" fill="#fff" fill-opacity="0.3" stroke="#7d3f9f" stroke-width="1.25"/>
<circle cx="151.9" cy="430.9" r="1.75" fill="#fff" fill-opacity="0.3" stroke="#7d3f9f" stroke-width="1.25"/>
<circle cx="156.4" cy="431.3" r="1.75" fill="#fff" fill-opacity="0.3" stroke="#7d3f9f" stroke-width="1.25"/>
<circle cx="160.9" cy="429.1" r="1.75" fill="#fff" fill-opacity="0.3" stroke="#7d3f9f" stroke-width="1.25"/>
<circle cx="165.4" cy="430.6" r="1.75" fill="#fff" fill-opacity="0.3" stroke="#7d3f9f" stroke-width="1.25"/>
<circle cx="169.9" cy="425.7" r="1.75" fill="#fff" fill-opacity="0.3" stroke="#7d3f9f" stroke-width="1.25"/>
<circle cx="174.4" cy="414.5" r="1.75" fill="#fff" fill-opacity="0.3" stroke="#7d3f9f" stroke-width="1.25"/>
<circle cx="178.9" cy="408.9" r="1.75" fill="#fff" fill-opacity="0.3" stroke="#7d3f9f" stroke-width="1.25"/>
<circle cx="183.4" cy="384.1" r="1.75" fill="#fff" fill-opacity="0.3" stroke="#7d3f9f" stroke-width="1.25"/>
<circle cx="192.3" cy="384.1" r="1.75" fill="#fff" fill-opacity="0.3" stroke="#7d3f9f" stroke-width="1.25"/>
<circle cx="196.8" cy="408.9" r="1.75" fill="#fff" fill-opacity="0.3" stroke="#7d3f9f" stroke-width="1.25"/>
<circle cx="201.3" cy="414.5" r="1.75" fill="#fff" fill-opacity="0.3" stroke="#7d3f9f" stroke-width="1.25"/>
<circle cx="205.8" cy="425.7" r="1.75" fill="#fff" fill-opacity="0.3" stroke="#7d3f9f" stroke-width="1.25"/>
<circle cx="210.3" cy="430.6" r="1.75" fill="#fff" fill-opacity="0.3" stroke="#7d3f9f" stroke-width="1.25"/>
<circle cx="214.8" cy="429.1" r="1.75" fill="#fff" fill-opacity="0.3" stroke="#7d3f9f" stroke-width="1.25"/>
<circle cx="219.3" cy="431.3" r="1.75" fill="#fff" fill-opacity="0.3" stroke="#7d3f9f" stroke-width="1.25"/>
<circle cx="223.8" cy="430.9" r="1.75" fill="#fff" fill-opacity="0.3" stroke="#7d3f9f" stroke-width="1.25"/>
<circle cx="228.3" cy="428.7" r="1.75" fill="#fff" fill-opacity="0.3" stroke="#7d3f9f" stroke-width="1.25"/>
<circle cx="232.7" cy="432.8" r="1.75" fill="#fff" fill-opacity="0.3" stroke="#7d3f9f" stroke-width="1.25"/>
<circle cx="237.2" cy="430.3" r="1.75" fill="#fff" fill-opacity="0.3" stroke="#7d3f9f" stroke-width="1.25"/>
<circle cx="241.7" cy="433.6" r="1.75" fill="#fff" fill-opacity="0.3" stroke="#7d3f9f" stroke-width="1.25"/>
<circle cx="246.2" cy="432.4" r="1.75" fill="#fff" fill-opacity="0.3" stroke="#7d3f9f" stroke-width="1.25"/>
<circle cx="250.7" cy="436.0" r="1.75" fill="#fff" fill-opacity="0.3" stroke="#7d3f9f" stroke-width="1.25"/>
<circle cx="255.2" cy="435.0" r="1.75" fill="#fff" fill-opacity="0.3" stroke="#7d3f9f" stroke-width="1.25"/>
<circle cx="259.7" cy="429.4" r="1.75" fill="#fff" fill-opacity="0.3" stroke="#7d3f9f" stroke-width="1.25"/>
<circle cx="264.2" cy="433.6" r="1.75" fill="#fff" fill-opacity="0.3" stroke="#7d3f9f" stroke-width="1.25"/>
<circle cx="268.7" cy="431.3" r="1.75" fill="#fff" fill-opacity="0.3" stroke="#7d3f9f" stroke-width="1.25"/>
<circle cx="273.1" cy="433.3" r="1.75" fill="#fff" fill-opacity="0.3" stroke="#7d3f9f" stroke-width="1.25"/>
<circle cx="277.6" cy="440.1" r="1.75" fill="#fff" fill-opacity="0.3" stroke="#7d3f9f" stroke-width="1.25"/>
<circle cx="282.1" cy="439.4" r="1.75" fill="#fff" fill-opacity="0.3" stroke="#7d3f9f" stroke-width="1.25"/>
<circle cx="286.6" cy="434.7" r="1.75" fill="#fff" fill-opacity="0.3" stroke="#7d3f9f" stroke-width="1.25"/>
<circle cx="291.1" cy="437.9" r="1.75" fill="#fff" fill-opacity="0.3" stroke="#7d3f9f" stroke-width="1.25"/>
<circle cx="295.6" cy="435.7" r="1.75" fill="#fff" fill-opacity="0.3" stroke="#7d3f9f" stroke-width="1.25"/>
<circle cx="300.1" cy="434.7" r="1.75" fill="#fff" fill-opacity="0.3" stroke="#7d3f9f" stroke-width="1.25"/>
<circle cx="304.6" cy="439.0" r="1.75" fill="#fff" fill-opacity="0.3" stroke="#7d3f9f" stroke-width="1.25"/>
<circle cx="309.1" cy="438.7" r="1.75" fill="#fff" fill-opacity="0.3" stroke="#7d3f9f" stroke-width="1.25"/>
<circle cx="313.5" cy="439.7" r="1.75" fill="#fff" fill-opacity="0.3" stroke="#7d3f9f" stroke-width="1.25"/>
<circle cx="318.0" cy="438.4" r="1.75" fill="#fff" fill-opacity="0.3" stroke="#7d3f9f" stroke-width="1.25"/>
<circle cx="322.5" cy="437.9" r="1.75" fill="#fff" fill-opacity="0.3" stroke="#7d3f9f" stroke-width="1.25"/>
<circle cx="327.0" cy="441.1" r="1.75" fill="#fff" fill-opacity="0.3" stroke="#7d3f9f" stroke-width="1.25"/>
<circle cx="331.5" cy="439.5" r="1.75" fill="#fff" fill-opacity="0.3" stroke="#7d3f9f" stroke-width="1.25"/>
<circle cx="44.2" cy="387.7" r="1.75" fill="#149a70"/>
<circle cx="48.7" cy="385.1" r="1.75" fill="#149a70"/>
<circle cx="53.2" cy="387.7" r="1.75" fill="#149a70"/>
<circle cx="57.7" cy="383.7" r="1.75" fill="#149a70"/>
<circle cx="62.2" cy="379.7" r="1.75" fill="#149a70"/>
<circle cx="66.6" cy="378.7" r="1.75" fill="#149a70"/>
<circle cx="71.1" cy="377.7" r="1.75" fill="#149a70"/>
<circle cx="75.6" cy="377.5" r="1.75" fill="#149a70"/>
<circle cx="80.1" cy="379.3" r="1.75" fill="#149a70"/>
<circle cx="84.6" cy="377.8" r="1.75" fill="#149a70"/>
<circle cx="89.1" cy="373.9" r="1.75" fill="#149a70"/>
<circle cx="93.6" cy="378.1" r="1.75" fill="#149a70"/>
<circle cx="98.1" cy="380.3" r="1.75" fill="#149a70"/>
<circle cx="102.6" cy="375.6" r="1.75" fill="#149a70"/>
<circle cx="107.0" cy="375.6" r="1.75" fill="#149a70"/>
<circle cx="111.5" cy="374.9" r="1.75" fill="#149a70"/>
<circle cx="116.0" cy="380.4" r="1.75" fill="#149a70"/>
<circle cx="120.5" cy="374.5" r="1.75" fill="#149a70"/>
<circle cx="125.0" cy="370.9" r="1.75" fill="#149a70"/>
<circle cx="129.5" cy="370.0" r="1.75" fill="#149a70"/>
<circle cx="134.0" cy="370.0" r="1.75" fill="#149a70"/>
<circle cx="138.5" cy="370.5" r="1.75" fill="#149a70"/>
<circle cx="143.0" cy="370.2" r="1.75" fill="#149a70"/>
<circle cx="147.4" cy="368.7" r="1.75" fill="#149a70"/>
<circle cx="151.9" cy="368.3" r="1.75" fill="#149a70"/>
<circle cx="156.4" cy="370.5" r="1.75" fill="#149a70"/>
<circle cx="160.9" cy="372.4" r="1.75" fill="#149a70"/>
<circle cx="165.4" cy="367.2" r="1.75" fill="#149a70"/>
<circle cx="169.9" cy="369.0" r="1.75" fill="#149a70"/>
<circle cx="174.4" cy="368.0" r="1.75" fill="#149a70"/>
<circle cx="178.9" cy="366.8" r="1.75" fill="#149a70"/>
<circle cx="183.4" cy="307.8" r="1.75" fill="#149a70"/>
<circle cx="192.3" cy="307.8" r="1.75" fill="#149a70"/>
<circle cx="196.8" cy="366.8" r="1.75" fill="#149a70"/>
<circle cx="201.3" cy="368.0" r="1.75" fill="#149a70"/>
<circle cx="205.8" cy="369.0" r="1.75" fill="#149a70"/>
<circle cx="210.3" cy="367.2" r="1.75" fill="#149a70"/>
<circle cx="214.8" cy="372.4" r="1.75" fill="#149a70"/>
<circle cx="219.3" cy="370.5" r="1.75" fill="#149a70"/>
<circle cx="223.8" cy="368.3" r="1.75" fill="#149a70"/>
<circle cx="228.3" cy="368.7" r="1.75" fill="#149a70"/>
<circle cx="232.7" cy="370.2" r="1.75" fill="#149a70"/>
<circle cx="237.2" cy="370.5" r="1.75" fill="#149a70"/>
<circle cx="241.7" cy="370.0" r="1.75" fill="#149a70"/>
<circle cx="246.2" cy="370.0" r="1.75" fill="#149a70"/>
<circle cx="250.7" cy="370.9" r="1.75" fill="#149a70"/>
<circle cx="255.2" cy="374.5" r="1.75" fill="#149a70"/>
<circle cx="259.7" cy="380.4" r="1.75" fill="#149a70"/>
<circle cx="264.2" cy="374.9" r="1.75" fill="#149a70"/>
<circle cx="268.7" cy="375.6" r="1.75" fill="#149a70"/>
<circle cx="273.1" cy="375.6" r="1.75" fill="#149a70"/>
<circle cx="277.6" cy="380.3" r="1.75" fill="#149a70"/>
<circle cx="282.1" cy="378.1" r="1.75" fill="#149a70"/>
<circle cx="286.6" cy="373.9" r="1.75" fill="#149a70"/>
<circle cx="291.1" cy="377.8" r="1.75" fill="#149a70"/>
<circle cx="295.6" cy="379.3" r="1.75" fill="#149a70"/>
<circle cx="300.1" cy="377.5" r="1.75" fill="#149a70"/>
<circle cx="304.6" cy="377.7" r="1.75" fill="#149a70"/>
<circle cx="309.1" cy="378.7" r="1.75" fill="#149a70"/>
<circle cx="313.5" cy="379.7" r="1.75" fill="#149a70"/>
<circle cx="318.0" cy="383.7" r="1.75" fill="#149a70"/>
<circle cx="322.5" cy="387.7" r="1.75" fill="#149a70"/>
<circle cx="327.0" cy="385.1" r="1.75" fill="#149a70"/>
<circle cx="331.5" cy="387.7" r="1.75" fill="#149a70"/>
<path d="M42.35 418.20L46.05 421.90M42.35 421.90L46.05 418.20" stroke="#17a9da" stroke-width="1.3" fill="none"/><rect x="43.05" y="418.90" width="2.3" height="2.3" fill="#17a9da"/>
<path d="M46.84 415.13L50.54 418.83M46.84 418.83L50.54 415.13" stroke="#17a9da" stroke-width="1.3" fill="none"/><rect x="47.54" y="415.83" width="2.3" height="2.3" fill="#17a9da"/>
<path d="M51.33 412.93L55.03 416.63M51.33 416.63L55.03 412.93" stroke="#17a9da" stroke-width="1.3" fill="none"/><rect x="52.03" y="413.63" width="2.3" height="2.3" fill="#17a9da"/>
<path d="M55.82 410.44L59.52 414.14M55.82 414.14L59.52 410.44" stroke="#17a9da" stroke-width="1.3" fill="none"/><rect x="56.52" y="411.14" width="2.3" height="2.3" fill="#17a9da"/>
<path d="M60.31 412.34L64.01 416.04M60.31 416.04L64.01 412.34" stroke="#17a9da" stroke-width="1.3" fill="none"/><rect x="61.01" y="413.04" width="2.3" height="2.3" fill="#17a9da"/>
<path d="M64.80 411.58L68.50 415.28M64.80 415.28L68.50 411.58" stroke="#17a9da" stroke-width="1.3" fill="none"/><rect x="65.50" y="412.28" width="2.3" height="2.3" fill="#17a9da"/>
<path d="M69.28 413.06L72.98 416.76M69.28 416.76L72.98 413.06" stroke="#17a9da" stroke-width="1.3" fill="none"/><rect x="69.98" y="413.76" width="2.3" height="2.3" fill="#17a9da"/>
<path d="M73.77 414.83L77.47 418.53M73.77 418.53L77.47 414.83" stroke="#17a9da" stroke-width="1.3" fill="none"/><rect x="74.47" y="415.53" width="2.3" height="2.3" fill="#17a9da"/>
<path d="M78.26 410.15L81.96 413.85M78.26 413.85L81.96 410.15" stroke="#17a9da" stroke-width="1.3" fill="none"/><rect x="78.96" y="410.85" width="2.3" height="2.3" fill="#17a9da"/>
<path d="M82.75 412.17L86.45 415.87M82.75 415.87L86.45 412.17" stroke="#17a9da" stroke-width="1.3" fill="none"/><rect x="83.45" y="412.87" width="2.3" height="2.3" fill="#17a9da"/>
<path d="M87.24 408.21L90.94 411.91M87.24 411.91L90.94 408.21" stroke="#17a9da" stroke-width="1.3" fill="none"/><rect x="87.94" y="408.91" width="2.3" height="2.3" fill="#17a9da"/>
<path d="M91.73 409.39L95.43 413.09M91.73 413.09L95.43 409.39" stroke="#17a9da" stroke-width="1.3" fill="none"/><rect x="92.43" y="410.09" width="2.3" height="2.3" fill="#17a9da"/>
<path d="M96.22 408.21L99.92 411.91M96.22 411.91L99.92 408.21" stroke="#17a9da" stroke-width="1.3" fill="none"/><rect x="96.92" y="408.91" width="2.3" height="2.3" fill="#17a9da"/>
<path d="M100.71 407.07L104.41 410.77M100.71 410.77L104.41 407.07" stroke="#17a9da" stroke-width="1.3" fill="none"/><rect x="101.41" y="407.77" width="2.3" height="2.3" fill="#17a9da"/>
<path d="M105.20 407.20L108.90 410.90M105.20 410.90L108.90 407.20" stroke="#17a9da" stroke-width="1.3" fill="none"/><rect x="105.90" y="407.90" width="2.3" height="2.3" fill="#17a9da"/>
<path d="M109.69 407.07L113.39 410.77M109.69 410.77L113.39 407.07" stroke="#17a9da" stroke-width="1.3" fill="none"/><rect x="110.39" y="407.77" width="2.3" height="2.3" fill="#17a9da"/>
<path d="M114.18 407.49L117.88 411.19M114.18 411.19L117.88 407.49" stroke="#17a9da" stroke-width="1.3" fill="none"/><rect x="114.88" y="408.19" width="2.3" height="2.3" fill="#17a9da"/>
<path d="M118.66 406.01L122.36 409.71M118.66 409.71L122.36 406.01" stroke="#17a9da" stroke-width="1.3" fill="none"/><rect x="119.36" y="406.71" width="2.3" height="2.3" fill="#17a9da"/>
<path d="M123.15 406.77L126.85 410.47M123.15 410.47L126.85 406.77" stroke="#17a9da" stroke-width="1.3" fill="none"/><rect x="123.85" y="407.47" width="2.3" height="2.3" fill="#17a9da"/>
<path d="M127.64 407.07L131.34 410.77M127.64 410.77L131.34 407.07" stroke="#17a9da" stroke-width="1.3" fill="none"/><rect x="128.34" y="407.77" width="2.3" height="2.3" fill="#17a9da"/>
<path d="M132.13 408.08L135.83 411.78M132.13 411.78L135.83 408.08" stroke="#17a9da" stroke-width="1.3" fill="none"/><rect x="132.83" y="408.78" width="2.3" height="2.3" fill="#17a9da"/>
<path d="M136.62 407.20L140.32 410.90M136.62 410.90L140.32 407.20" stroke="#17a9da" stroke-width="1.3" fill="none"/><rect x="137.32" y="407.90" width="2.3" height="2.3" fill="#17a9da"/>
<path d="M141.11 403.40L144.81 407.10M141.11 407.10L144.81 403.40" stroke="#17a9da" stroke-width="1.3" fill="none"/><rect x="141.81" y="404.10" width="2.3" height="2.3" fill="#17a9da"/>
<path d="M145.60 406.77L149.30 410.47M145.60 410.47L149.30 406.77" stroke="#17a9da" stroke-width="1.3" fill="none"/><rect x="146.30" y="407.47" width="2.3" height="2.3" fill="#17a9da"/>
<path d="M150.09 409.68L153.79 413.38M150.09 413.38L153.79 409.68" stroke="#17a9da" stroke-width="1.3" fill="none"/><rect x="150.79" y="410.38" width="2.3" height="2.3" fill="#17a9da"/>
<path d="M154.58 407.49L158.28 411.19M154.58 411.19L158.28 407.49" stroke="#17a9da" stroke-width="1.3" fill="none"/><rect x="155.28" y="408.19" width="2.3" height="2.3" fill="#17a9da"/>
<path d="M159.07 405.30L162.77 409.00M159.07 409.00L162.77 405.30" stroke="#17a9da" stroke-width="1.3" fill="none"/><rect x="159.77" y="406.00" width="2.3" height="2.3" fill="#17a9da"/>
<path d="M163.55 406.77L167.25 410.47M163.55 410.47L167.25 406.77" stroke="#17a9da" stroke-width="1.3" fill="none"/><rect x="164.25" y="407.47" width="2.3" height="2.3" fill="#17a9da"/>
<path d="M168.04 407.79L171.74 411.49M168.04 411.49L171.74 407.79" stroke="#17a9da" stroke-width="1.3" fill="none"/><rect x="168.74" y="408.49" width="2.3" height="2.3" fill="#17a9da"/>
<path d="M172.53 405.72L176.23 409.42M172.53 409.42L176.23 405.72" stroke="#17a9da" stroke-width="1.3" fill="none"/><rect x="173.23" y="406.42" width="2.3" height="2.3" fill="#17a9da"/>
<path d="M177.02 404.54L180.72 408.24M177.02 408.24L180.72 404.54" stroke="#17a9da" stroke-width="1.3" fill="none"/><rect x="177.72" y="405.24" width="2.3" height="2.3" fill="#17a9da"/>
<path d="M181.51 405.00L185.21 408.70M181.51 408.70L185.21 405.00" stroke="#17a9da" stroke-width="1.3" fill="none"/><rect x="182.21" y="405.70" width="2.3" height="2.3" fill="#17a9da"/>
<path d="M186.00 367.46L189.70 371.16M186.00 371.16L189.70 367.46" stroke="#17a9da" stroke-width="1.3" fill="none"/><rect x="186.70" y="368.16" width="2.3" height="2.3" fill="#17a9da"/>
<path d="M190.49 407.49L194.19 411.19M190.49 411.19L194.19 407.49" stroke="#17a9da" stroke-width="1.3" fill="none"/><rect x="191.19" y="408.19" width="2.3" height="2.3" fill="#17a9da"/>
<path d="M194.98 405.30L198.68 409.00M194.98 409.00L198.68 405.30" stroke="#17a9da" stroke-width="1.3" fill="none"/><rect x="195.68" y="406.00" width="2.3" height="2.3" fill="#17a9da"/>
<path d="M199.47 402.64L203.17 406.34M199.47 406.34L203.17 402.64" stroke="#17a9da" stroke-width="1.3" fill="none"/><rect x="200.17" y="403.34" width="2.3" height="2.3" fill="#17a9da"/>
<path d="M203.96 399.86L207.66 403.56M203.96 403.56L207.66 399.86" stroke="#17a9da" stroke-width="1.3" fill="none"/><rect x="204.66" y="400.56" width="2.3" height="2.3" fill="#17a9da"/>
<path d="M208.45 403.10L212.15 406.80M208.45 406.80L212.15 403.10" stroke="#17a9da" stroke-width="1.3" fill="none"/><rect x="209.15" y="403.80" width="2.3" height="2.3" fill="#17a9da"/>
<path d="M212.93 406.31L216.63 410.01M212.93 410.01L216.63 406.31" stroke="#17a9da" stroke-width="1.3" fill="none"/><rect x="213.63" y="407.01" width="2.3" height="2.3" fill="#17a9da"/>
<path d="M217.42 405.17L221.12 408.87M217.42 408.87L221.12 405.17" stroke="#17a9da" stroke-width="1.3" fill="none"/><rect x="218.12" y="405.87" width="2.3" height="2.3" fill="#17a9da"/>
<path d="M221.91 406.94L225.61 410.64M221.91 410.64L225.61 406.94" stroke="#17a9da" stroke-width="1.3" fill="none"/><rect x="222.61" y="407.64" width="2.3" height="2.3" fill="#17a9da"/>
<path d="M226.40 406.27L230.10 409.97M226.40 409.97L230.10 406.27" stroke="#17a9da" stroke-width="1.3" fill="none"/><rect x="227.10" y="406.97" width="2.3" height="2.3" fill="#17a9da"/>
<path d="M230.89 408.29L234.59 411.99M230.89 411.99L234.59 408.29" stroke="#17a9da" stroke-width="1.3" fill="none"/><rect x="231.59" y="408.99" width="2.3" height="2.3" fill="#17a9da"/>
<path d="M235.38 408.97L239.08 412.67M235.38 412.67L239.08 408.97" stroke="#17a9da" stroke-width="1.3" fill="none"/><rect x="236.08" y="409.67" width="2.3" height="2.3" fill="#17a9da"/>
<path d="M239.87 405.30L243.57 409.00M239.87 409.00L243.57 405.30" stroke="#17a9da" stroke-width="1.3" fill="none"/><rect x="240.57" y="406.00" width="2.3" height="2.3" fill="#17a9da"/>
<path d="M244.36 409.26L248.06 412.96M244.36 412.96L248.06 409.26" stroke="#17a9da" stroke-width="1.3" fill="none"/><rect x="245.06" y="409.96" width="2.3" height="2.3" fill="#17a9da"/>
<path d="M248.85 408.50L252.55 412.20M248.85 412.20L252.55 408.50" stroke="#17a9da" stroke-width="1.3" fill="none"/><rect x="249.55" y="409.20" width="2.3" height="2.3" fill="#17a9da"/>
<path d="M253.34 409.26L257.04 412.96M253.34 412.96L257.04 409.26" stroke="#17a9da" stroke-width="1.3" fill="none"/><rect x="254.04" y="409.96" width="2.3" height="2.3" fill="#17a9da"/>
<path d="M257.82 410.70L261.53 414.40M257.82 414.40L261.53 410.70" stroke="#17a9da" stroke-width="1.3" fill="none"/><rect x="258.53" y="411.40" width="2.3" height="2.3" fill="#17a9da"/>
<path d="M262.31 408.97L266.01 412.67M262.31 412.67L266.01 408.97" stroke="#17a9da" stroke-width="1.3" fill="none"/><rect x="263.01" y="409.67" width="2.3" height="2.3" fill="#17a9da"/>
<path d="M266.80 409.68L270.50 413.38M266.80 413.38L270.50 409.68" stroke="#17a9da" stroke-width="1.3" fill="none"/><rect x="267.50" y="410.38" width="2.3" height="2.3" fill="#17a9da"/>
<path d="M271.29 415.13L274.99 418.83M271.29 418.83L274.99 415.13" stroke="#17a9da" stroke-width="1.3" fill="none"/><rect x="271.99" y="415.83" width="2.3" height="2.3" fill="#17a9da"/>
<path d="M275.78 410.15L279.48 413.85M275.78 413.85L279.48 410.15" stroke="#17a9da" stroke-width="1.3" fill="none"/><rect x="276.48" y="410.85" width="2.3" height="2.3" fill="#17a9da"/>
<path d="M280.27 411.16L283.97 414.86M280.27 414.86L283.97 411.16" stroke="#17a9da" stroke-width="1.3" fill="none"/><rect x="280.97" y="411.86" width="2.3" height="2.3" fill="#17a9da"/>
<path d="M284.76 413.35L288.46 417.05M284.76 417.05L288.46 413.35" stroke="#17a9da" stroke-width="1.3" fill="none"/><rect x="285.46" y="414.05" width="2.3" height="2.3" fill="#17a9da"/>
<path d="M289.25 415.55L292.95 419.25M289.25 419.25L292.95 415.55" stroke="#17a9da" stroke-width="1.3" fill="none"/><rect x="289.95" y="416.25" width="2.3" height="2.3" fill="#17a9da"/>
<path d="M293.74 410.70L297.44 414.40M293.74 414.40L297.44 410.70" stroke="#17a9da" stroke-width="1.3" fill="none"/><rect x="294.44" y="411.40" width="2.3" height="2.3" fill="#17a9da"/>
<path d="M298.23 409.98L301.93 413.68M298.23 413.68L301.93 409.98" stroke="#17a9da" stroke-width="1.3" fill="none"/><rect x="298.93" y="410.68" width="2.3" height="2.3" fill="#17a9da"/>
<path d="M302.72 412.17L306.42 415.87M302.72 415.87L306.42 412.17" stroke="#17a9da" stroke-width="1.3" fill="none"/><rect x="303.42" y="412.87" width="2.3" height="2.3" fill="#17a9da"/>
<path d="M307.20 414.53L310.90 418.23M307.20 418.23L310.90 414.53" stroke="#17a9da" stroke-width="1.3" fill="none"/><rect x="307.90" y="415.23" width="2.3" height="2.3" fill="#17a9da"/>
<path d="M311.69 413.06L315.39 416.76M311.69 416.76L315.39 413.06" stroke="#17a9da" stroke-width="1.3" fill="none"/><rect x="312.39" y="413.76" width="2.3" height="2.3" fill="#17a9da"/>
<path d="M316.18 410.70L319.88 414.40M316.18 414.40L319.88 410.70" stroke="#17a9da" stroke-width="1.3" fill="none"/><rect x="316.88" y="411.40" width="2.3" height="2.3" fill="#17a9da"/>
<path d="M320.67 413.06L324.37 416.76M320.67 416.76L324.37 413.06" stroke="#17a9da" stroke-width="1.3" fill="none"/><rect x="321.37" y="413.76" width="2.3" height="2.3" fill="#17a9da"/>
<path d="M325.16 411.88L328.86 415.58M325.16 415.58L328.86 411.88" stroke="#17a9da" stroke-width="1.3" fill="none"/><rect x="325.86" y="412.58" width="2.3" height="2.3" fill="#17a9da"/>
<path d="M329.65 413.06L333.35 416.76M329.65 416.76L333.35 413.06" stroke="#17a9da" stroke-width="1.3" fill="none"/><rect x="330.35" y="413.76" width="2.3" height="2.3" fill="#17a9da"/>
<path d="M44.2 436.4h5M44.2 394.2h5M44.2 352.1h5M44.2 309.9h5M80.1 478.6v-5M116.0 478.6v-5M151.9 478.6v-5M187.9 478.6v-5M223.8 478.6v-5M259.7 478.6v-5M295.6 478.6v-5" stroke="#222" stroke-width="0.85" fill="none"/>
<rect x="44.2" y="267.7" width="287.3" height="210.9" fill="none" stroke="#222" stroke-width="0.9"/>
<text class="t" x="39.2" y="482.8" text-anchor="end">0</text>
<text class="t" x="39.2" y="440.6" text-anchor="end">0.1</text>
<text class="t" x="39.2" y="398.4" text-anchor="end">0.2</text>
<text class="t" x="39.2" y="356.3" text-anchor="end">0.3</text>
<text class="t" x="39.2" y="314.1" text-anchor="end">0.4</text>
<text class="t" x="39.2" y="271.9" text-anchor="end">0.5</text>
<text class="t" x="44.2" y="493.9" text-anchor="middle">–<tspan dx="0.6">2.0</tspan></text>
<text class="t" x="80.1" y="493.9" text-anchor="middle">–<tspan dx="0.6">1.5</tspan></text>
<text class="t" x="116.0" y="493.9" text-anchor="middle">–<tspan dx="0.6">1.0</tspan></text>
<text class="t" x="151.9" y="493.9" text-anchor="middle">–<tspan dx="0.6">0.5</tspan></text>
<text class="t" x="187.9" y="493.9" text-anchor="middle">0</text>
<text class="t" x="223.8" y="493.9" text-anchor="middle">0.5</text>
<text class="t" x="259.7" y="493.9" text-anchor="middle">1.0</text>
<text class="t" x="295.6" y="493.9" text-anchor="middle">1.5</text>
<text class="t" x="331.5" y="493.9" text-anchor="middle">2.0</text>
<text class="a" x="188.0" y="512.5" text-anchor="middle">Frequency lag, kHz</text>
<text class="a" transform="translate(12.9 373.8) rotate(-90)" text-anchor="middle">Correlation coefficient</text>
<text class="l" x="282.5" y="280.2" text-anchor="end">Pulse 106 ACF-1</text>
<path d="M287.9 276.7H318.2" stroke="#7d3f9f" stroke-width="0.85" fill="none"/>
<circle cx="303.0" cy="276.7" r="1.75" fill="#fff" fill-opacity="0.3" stroke="#7d3f9f" stroke-width="1.25"/>
<text class="l" x="282.5" y="291.3" text-anchor="end">Pulse 106 ACF-2</text>
<path d="M287.9 287.8H318.2" stroke="#149a70" stroke-width="0.85" fill="none"/>
<circle cx="303.0" cy="287.8" r="1.75" fill="#149a70"/>
<text class="l" x="282.5" y="302.5" text-anchor="end">Pulse 106 CCF</text>
<path d="M287.9 299.0H318.2" stroke="#17a9da" stroke-width="0.85" fill="none"/>
<path d="M301.20 297.15L304.90 300.85M301.20 300.85L304.90 297.15" stroke="#17a9da" stroke-width="1.3" fill="none"/><rect x="301.90" y="297.85" width="2.3" height="2.3" fill="#17a9da"/>
<g clip-path="url(#cr1)">
<path d="M390.7 473.9L391.0 475.5L391.3 474.7L391.6 473.2L391.9 472.2L392.2 475.2L392.5 476.0L392.8 476.0L393.1 474.0L393.4 472.5L393.7 472.7L394.0 471.8L394.3 472.8L394.6 474.1L394.9 476.8L395.2 474.2L395.5 474.0L395.8 472.3L396.1 472.1L396.4 474.2L396.7 477.2L397.0 475.8L397.3 476.2L397.6 475.3L397.9 475.6L398.2 477.1L398.5 476.7L398.8 476.0L399.1 474.8L399.4 475.1L399.7 476.1L400.0 476.9L400.3 476.2L400.6 473.9L400.9 471.5L401.2 470.6L401.5 469.1L401.8 469.1L402.1 471.0L402.4 469.9L402.7 471.1L403.0 472.3L403.3 472.5L403.6 475.5L403.9 476.3L404.2 473.3L404.5 472.8L404.8 474.4L405.1 473.4L405.4 474.8L405.7 474.9L406.0 474.2L406.3 473.7L406.6 473.0L406.9 472.4L407.2 477.1L407.5 476.5L407.8 473.2L408.1 472.9L408.4 471.3L408.7 471.2L409.0 472.7L409.3 474.5L409.6 473.4L409.9 470.9L410.2 472.6L410.5 473.2L410.8 474.3L411.1 473.7L411.4 472.1L411.7 473.4L412.0 476.8L412.3 476.1L412.6 472.4L412.9 474.4L413.2 474.6L413.5 472.6L413.8 470.6L414.1 472.0L414.4 474.3L414.6 473.5L414.9 471.8L415.2 474.3L415.5 474.1L415.8 473.4L416.1 472.3L416.4 474.6L416.7 473.0L417.0 475.1L417.3 473.5L417.6 473.3L417.9 471.7L418.2 474.8L418.5 476.9L418.8 476.9L419.1 474.1L419.4 472.0L419.7 473.4L420.0 473.2L420.3 474.3L420.6 473.8L420.9 475.7L421.2 475.9L421.5 473.1L421.8 474.5L422.1 474.4L422.4 470.4L422.7 471.7L423.0 474.0L423.3 472.6L423.6 471.3L423.9 472.3L424.2 472.5L424.5 473.8L424.8 473.1L425.1 471.0L425.4 472.7L425.7 473.4L426.0 472.6L426.3 472.1L426.6 470.8L426.9 470.9L427.2 473.8L427.5 475.0L427.8 473.8L428.1 474.5L428.4 473.6L428.7 474.7L429.0 475.6L429.3 473.1L429.6 475.7L429.9 477.3L430.2 473.5L430.5 474.7L430.8 474.8L431.1 472.1L431.4 471.7L431.7 472.5L432.0 473.4L432.3 471.8L432.6 469.6L432.9 469.9L433.2 474.7L433.5 474.3L433.8 470.0L434.1 470.4L434.4 469.8L434.7 470.6L435.0 470.3L435.3 470.1L435.6 468.6L435.9 470.3L436.2 469.5L436.5 468.7L436.8 470.0L437.1 470.0L437.4 470.6L437.7 467.8L438.0 470.1L438.3 469.1L438.6 469.2L438.9 470.0L439.2 470.3L439.5 471.3L439.8 472.7L440.1 472.7L440.4 472.4L440.7 469.8L441.0 470.3L441.3 469.1L441.6 468.4L441.9 469.9L442.2 470.7L442.5 470.6L442.8 473.6L443.1 473.2L443.4 471.5L443.7 470.9L444.0 470.4L444.3 471.9L444.6 471.3L444.9 469.2L445.2 469.1L445.5 470.1L445.8 471.8L446.1 472.5L446.4 470.3L446.7 471.6L447.0 470.4L447.3 468.1L447.6 468.8L447.9 469.4L448.2 469.4L448.5 470.4L448.8 469.3L449.1 469.3L449.4 468.9L449.7 468.8L450.0 470.5L450.3 472.9L450.6 471.1L450.9 471.2L451.2 471.9L451.5 470.5L451.8 469.7L452.1 466.0L452.4 468.3L452.7 469.4L453.0 472.2L453.3 470.5L453.6 469.8L453.9 469.8L454.2 468.0L454.5 469.9L454.8 469.5L455.1 468.6L455.4 468.7L455.7 467.9L456.0 467.3L456.3 470.0L456.6 471.9L456.9 472.3L457.2 471.5L457.5 473.0L457.8 472.4L458.1 471.9L458.4 469.6L458.7 469.0L459.0 465.8L459.3 468.9L459.6 470.8L459.9 470.0L460.2 467.8L460.5 468.3L460.8 468.5L461.1 468.0L461.4 467.3L461.7 469.4L462.0 469.9L462.3 471.3L462.6 470.5L462.8 467.6L463.1 467.3L463.4 468.7L463.7 469.1L464.0 467.4L464.3 466.4L464.6 465.3L464.9 466.4L465.2 464.9L465.5 469.9L465.8 471.5L466.1 470.0L466.4 468.1L466.7 467.3L467.0 467.5L467.3 467.4L467.6 465.5L467.9 468.7L468.2 469.2L468.5 469.5L468.8 467.5L469.1 470.1L469.4 471.1L469.7 469.6L470.0 468.7L470.3 470.8L470.6 469.3L470.9 468.0L471.2 465.6L471.5 466.5L471.8 465.0L472.1 467.1L472.4 469.2L472.7 469.2L473.0 467.9L473.3 468.4L473.6 469.5L473.9 469.1L474.2 470.2L474.5 468.1L474.8 467.4L475.1 467.2L475.4 464.8L475.7 465.9L476.0 471.3L476.3 469.8L476.6 468.2L476.9 467.9L477.2 466.9L477.5 467.9L477.8 466.3L478.1 467.4L478.4 468.2L478.7 469.0L479.0 467.8L479.3 464.2L479.6 463.5L479.9 464.8L480.2 464.1L480.5 465.4L480.8 467.0L481.1 467.1L481.4 466.3L481.7 468.3L482.0 467.8L482.3 466.3L482.6 466.3L482.9 467.0L483.2 465.6L483.5 465.9L483.8 468.7L484.1 467.2L484.4 465.8L484.7 466.2L485.0 464.4L485.3 463.2L485.6 463.1L485.9 465.3L486.2 466.4L486.5 463.3L486.8 463.2L487.1 465.0L487.4 466.2L487.7 466.1L488.0 461.1L488.3 460.7L488.6 463.6L488.9 466.4L489.2 465.8L489.5 463.2L489.8 462.2L490.1 461.5L490.4 462.4L490.7 462.2L491.0 463.6L491.3 464.7L491.6 462.9L491.9 460.7L492.2 461.8L492.5 463.1L492.8 461.8L493.1 458.6L493.4 460.0L493.7 460.7L494.0 461.3L494.3 462.4L494.6 461.5L494.9 459.8L495.2 460.1L495.5 459.5L495.8 458.1L496.1 459.8L496.4 464.4L496.7 464.0L497.0 461.7L497.3 461.9L497.6 462.7L497.9 462.0L498.2 460.0L498.5 460.4L498.8 456.6L499.1 458.1L499.4 460.4L499.7 460.0L500.0 458.5L500.3 456.5L500.6 454.2L500.9 455.6L501.2 454.6L501.5 452.5L501.8 455.5L502.1 457.2L502.4 457.1L502.7 453.9L503.0 453.8L503.3 456.4L503.6 454.4L503.9 454.0L504.2 456.3L504.5 453.5L504.8 449.0L505.1 448.8L505.4 451.4L505.7 453.5L506.0 454.1L506.3 453.5L506.6 453.1L506.9 450.8L507.2 451.0L507.5 451.4L507.8 451.6L508.1 449.7L508.4 451.6L508.7 451.5L509.0 451.7L509.3 452.1L509.6 450.1L509.9 445.8L510.2 447.1L510.4 450.0L510.7 451.4L511.0 450.8L511.3 453.5L511.6 452.4L511.9 447.6L512.2 446.0L512.5 446.6L512.8 443.1L513.1 446.3L513.4 447.3L513.7 448.8L514.0 447.2L514.3 446.5L514.6 445.5L514.9 444.4L515.2 445.2L515.5 443.0L515.8 443.2L516.1 443.1L516.4 442.7L516.7 446.9L517.0 447.8L517.3 445.4L517.6 441.4L517.9 441.8L518.2 441.6L518.5 444.5L518.8 443.2L519.1 442.5L519.4 439.7L519.7 439.0L520.0 438.6L520.3 439.2L520.6 439.0L520.9 443.7L521.2 442.1L521.5 438.8L521.8 435.9L522.1 436.4L522.4 437.5L522.7 439.9L523.0 437.7L523.3 438.0L523.6 437.1L523.9 436.6L524.2 437.1L524.5 439.6L524.8 439.5L525.1 441.1L525.4 437.9L525.7 438.4L526.0 439.7L526.3 438.7L526.6 439.0L526.9 434.7L527.2 435.7L527.5 437.9L527.8 434.7L528.1 439.4L528.4 440.1L528.7 433.3L529.0 431.3L529.3 433.6L529.6 429.4L529.9 435.0L530.2 436.0L530.5 432.4L530.8 433.6L531.1 430.3L531.4 432.8L531.7 428.7L532.0 430.9L532.3 431.3L532.6 429.1L532.9 430.6L533.2 425.7L533.5 414.5L533.8 408.9L534.1 384.1L534.4 364.7L534.7 384.1L535.0 408.9L535.3 414.5L535.6 425.7L535.9 430.6L536.2 429.1L536.5 431.3L536.8 430.9L537.1 428.7L537.4 432.8L537.7 430.3L538.0 433.6L538.3 432.4L538.6 436.0L538.9 435.0L539.2 429.4L539.5 433.6L539.8 431.3L540.1 433.3L540.4 440.1L540.7 439.4L541.0 434.7L541.3 437.9L541.6 435.7L541.9 434.7L542.2 439.0L542.5 438.7L542.8 439.7L543.1 438.4L543.4 437.9L543.7 441.1L544.0 439.5L544.3 439.6L544.6 437.1L544.9 436.6L545.2 437.1L545.5 438.0L545.8 437.7L546.1 439.9L546.4 437.5L546.7 436.4L547.0 435.9L547.3 438.8L547.6 442.1L547.9 443.7L548.2 439.0L548.5 439.2L548.8 438.6L549.1 439.0L549.4 439.7L549.7 442.5L550.0 443.2L550.3 444.5L550.6 441.6L550.9 441.8L551.2 441.4L551.5 445.4L551.8 447.8L552.1 446.9L552.4 442.7L552.7 443.1L553.0 443.2L553.3 443.0L553.6 445.2L553.9 444.4L554.2 445.5L554.5 446.5L554.8 447.2L555.1 448.8L555.4 447.3L555.7 446.3L556.0 443.1L556.3 446.6L556.6 446.0L556.9 447.6L557.2 452.4L557.5 453.5L557.8 450.8L558.1 451.4L558.4 450.0L558.6 447.1L558.9 445.8L559.2 450.1L559.5 452.1L559.8 451.7L560.1 451.5L560.4 451.6L560.7 449.7L561.0 451.6L561.3 451.4L561.6 451.0L561.9 450.8L562.2 453.1L562.5 453.5L562.8 454.1L563.1 453.5L563.4 451.4L563.7 448.8L564.0 449.0L564.3 453.5L564.6 456.3L564.9 454.0L565.2 454.4L565.5 456.4L565.8 453.8L566.1 453.9L566.4 457.1L566.7 457.2L567.0 455.5L567.3 452.5L567.6 454.6L567.9 455.6L568.2 454.2L568.5 456.5L568.8 458.5L569.1 460.0L569.4 460.4L569.7 458.1L570.0 456.6L570.3 460.4L570.6 460.0L570.9 462.0L571.2 462.7L571.5 461.9L571.8 461.7L572.1 464.0L572.4 464.4L572.7 459.8L573.0 458.1L573.3 459.5L573.6 460.1L573.9 459.8L574.2 461.5L574.5 462.4L574.8 461.3L575.1 460.7L575.4 460.0L575.7 458.6L576.0 461.8L576.3 463.1L576.6 461.8L576.9 460.7L577.2 462.9L577.5 464.7L577.8 463.6L578.1 462.2L578.4 462.4L578.7 461.5L579.0 462.2L579.3 463.2L579.6 465.8L579.9 466.4L580.2 463.6L580.5 460.7L580.8 461.1L581.1 466.1L581.4 466.2L581.7 465.0L582.0 463.2L582.3 463.3L582.6 466.4L582.9 465.3L583.2 463.1L583.5 463.2L583.8 464.4L584.1 466.2L584.4 465.8L584.7 467.2L585.0 468.7L585.3 465.9L585.6 465.6L585.9 467.0L586.2 466.3L586.5 466.3L586.8 467.8L587.1 468.3L587.4 466.3L587.7 467.1L588.0 467.0L588.3 465.4L588.6 464.1L588.9 464.8L589.2 463.5L589.5 464.2L589.8 467.8L590.1 469.0L590.4 468.2L590.7 467.4L591.0 466.3L591.3 467.9L591.6 466.9L591.9 467.9L592.2 468.2L592.5 469.8L592.8 471.3L593.1 465.9L593.4 464.8L593.7 467.2L594.0 467.4L594.3 468.1L594.6 470.2L594.9 469.1L595.2 469.5L595.5 468.4L595.8 467.9L596.1 469.2L596.4 469.2L596.7 467.1L597.0 465.0L597.3 466.5L597.6 465.6L597.9 468.0L598.2 469.3L598.5 470.8L598.8 468.7L599.1 469.6L599.4 471.1L599.7 470.1L600.0 467.5L600.3 469.5L600.6 469.2L600.9 468.7L601.2 465.5L601.5 467.4L601.8 467.5L602.1 467.3L602.4 468.1L602.7 470.0L603.0 471.5L603.3 469.9L603.6 464.9L603.9 466.4L604.2 465.3L604.5 466.4L604.8 467.4L605.1 469.1L605.4 468.7L605.7 467.3L606.0 467.6L606.2 470.5L606.5 471.3L606.8 469.9L607.1 469.4L607.4 467.3L607.7 468.0L608.0 468.5L608.3 468.3L608.6 467.8L608.9 470.0L609.2 470.8L609.5 468.9L609.8 465.8L610.1 469.0L610.4 469.6L610.7 471.9L611.0 472.4L611.3 473.0L611.6 471.5L611.9 472.3L612.2 471.9L612.5 470.0L612.8 467.3L613.1 467.9L613.4 468.7L613.7 468.6L614.0 469.5L614.3 469.9L614.6 468.0L614.9 469.8L615.2 469.8L615.5 470.5L615.8 472.2L616.1 469.4L616.4 468.3L616.7 466.0L617.0 469.7L617.3 470.5L617.6 471.9L617.9 471.2L618.2 471.1L618.5 472.9L618.8 470.5L619.1 468.8L619.4 468.9L619.7 469.3L620.0 469.3L620.3 470.4L620.6 469.4L620.9 469.4L621.2 468.8L621.5 468.1L621.8 470.4L622.1 471.6L622.4 470.3L622.7 472.5L623.0 471.8L623.3 470.1L623.6 469.1L623.9 469.2L624.2 471.3L624.5 471.9L624.8 470.4L625.1 470.9L625.4 471.5L625.7 473.2L626.0 473.6L626.3 470.6L626.6 470.7L626.9 469.9L627.2 468.4L627.5 469.1L627.8 470.3L628.1 469.8L628.4 472.4L628.7 472.7L629.0 472.7L629.3 471.3L629.6 470.3L629.9 470.0L630.2 469.2L630.5 469.1L630.8 470.1L631.1 467.8L631.4 470.6L631.7 470.0L632.0 470.0L632.3 468.7L632.6 469.5L632.9 470.3L633.2 468.6L633.5 470.1L633.8 470.3L634.1 470.6L634.4 469.8L634.7 470.4L635.0 470.0L635.3 474.3L635.6 474.7L635.9 469.9L636.2 469.6L636.5 471.8L636.8 473.4L637.1 472.5L637.4 471.7L637.7 472.1L638.0 474.8L638.3 474.7L638.6 473.5L638.9 477.3L639.2 475.7L639.5 473.1L639.8 475.6L640.1 474.7L640.4 473.6L640.7 474.5L641.0 473.8L641.3 475.0L641.6 473.8L641.9 470.9L642.2 470.8L642.5 472.1L642.8 472.6L643.1 473.4L643.4 472.7L643.7 471.0L644.0 473.1L644.3 473.8L644.6 472.5L644.9 472.3L645.2 471.3L645.5 472.6L645.8 474.0L646.1 471.7L646.4 470.4L646.7 474.4L647.0 474.5L647.3 473.1L647.6 475.9L647.9 475.7L648.2 473.8L648.5 474.3L648.8 473.2L649.1 473.4L649.4 472.0L649.7 474.1L650.0 476.9L650.3 476.9L650.6 474.8L650.9 471.7L651.2 473.3L651.5 473.5L651.8 475.1L652.1 473.0L652.4 474.6L652.7 472.3L653.0 473.4L653.3 474.1L653.6 474.3L653.9 471.8L654.2 473.5L654.4 474.3L654.7 472.0L655.0 470.6L655.3 472.6L655.6 474.6L655.9 474.4L656.2 472.4L656.5 476.1L656.8 476.8L657.1 473.4L657.4 472.1L657.7 473.7L658.0 474.3L658.3 473.2L658.6 472.6L658.9 470.9L659.2 473.4L659.5 474.5L659.8 472.7L660.1 471.2L660.4 471.3L660.7 472.9L661.0 473.2L661.3 476.5L661.6 477.1L661.9 472.4L662.2 473.0L662.5 473.7L662.8 474.2L663.1 474.9L663.4 474.8L663.7 473.4L664.0 474.4L664.3 472.8L664.6 473.3L664.9 476.3L665.2 475.5L665.5 472.5L665.8 472.3L666.1 471.1L666.4 469.9L666.7 471.0L667.0 469.1L667.3 469.1L667.6 470.6L667.9 471.5L668.2 473.9L668.5 476.2L668.8 476.9L669.1 476.1L669.4 475.1L669.7 474.8L670.0 476.0L670.3 476.7L670.6 477.1L670.9 475.6L671.2 475.3L671.5 476.2L671.8 475.8L672.1 477.2L672.4 474.2L672.7 472.1L673.0 472.3L673.3 474.0L673.6 474.2L673.9 476.8L674.2 474.1L674.5 472.8L674.8 471.8L675.1 472.7L675.4 472.5L675.7 474.0L676.0 476.0L676.3 476.0L676.6 475.2L676.9 472.2L677.2 473.2L677.5 474.7L677.8 475.5L678.1 473.9" stroke="#7d3f9f" stroke-width="1.05" fill="none" stroke-linejoin="round"/>
<path d="M390.7 459.5L391.0 459.9L391.3 459.9L391.6 455.0L391.9 454.9L392.2 456.4L392.5 456.9L392.8 458.1L393.1 461.5L393.4 463.7L393.7 461.5L394.0 460.8L394.3 459.1L394.6 459.3L394.9 459.3L395.2 457.8L395.5 459.2L395.8 459.9L396.1 461.5L396.4 461.9L396.7 460.4L397.0 459.9L397.3 460.8L397.6 463.5L397.9 465.0L398.2 462.9L398.5 458.8L398.8 460.6L399.1 461.7L399.4 461.8L399.7 461.0L400.0 459.9L400.3 460.7L400.6 461.8L400.9 462.7L401.2 463.9L401.5 463.9L401.8 464.9L402.1 464.6L402.4 461.5L402.7 459.8L403.0 459.9L403.3 461.5L403.6 460.9L403.9 459.4L404.2 459.1L404.5 454.6L404.8 457.8L405.1 459.5L405.4 461.8L405.7 459.3L406.0 458.5L406.3 460.3L406.6 461.0L406.9 466.7L407.2 462.9L407.5 461.9L407.8 462.2L408.1 463.7L408.4 462.0L408.7 461.4L409.0 464.5L409.3 464.0L409.6 461.1L409.9 460.5L410.2 461.2L410.5 462.0L410.8 462.9L411.1 459.2L411.4 462.5L411.7 465.0L412.0 465.1L412.3 463.9L412.6 462.8L412.9 463.3L413.2 460.6L413.5 461.7L413.8 460.5L414.1 459.9L414.4 462.3L414.6 463.9L414.9 461.9L415.2 462.6L415.5 460.6L415.8 460.6L416.1 462.7L416.4 462.4L416.7 459.1L417.0 460.7L417.3 464.1L417.6 464.8L417.9 462.2L418.2 463.3L418.5 460.3L418.8 461.1L419.1 462.6L419.4 462.1L419.7 462.9L420.0 462.6L420.3 467.5L420.6 467.7L420.9 463.2L421.2 462.9L421.5 465.3L421.8 463.3L422.1 461.7L422.4 462.9L422.7 463.0L423.0 463.7L423.3 465.0L423.6 463.0L423.9 462.6L424.2 459.1L424.5 464.0L424.8 464.8L425.1 461.8L425.4 458.9L425.7 457.6L426.0 457.0L426.3 460.9L426.6 460.8L426.9 464.8L427.2 461.0L427.5 460.2L427.8 460.2L428.1 463.5L428.4 462.2L428.7 461.6L429.0 461.7L429.3 461.2L429.6 463.3L429.9 463.4L430.2 461.2L430.5 459.4L430.8 460.4L431.1 460.3L431.4 462.4L431.7 464.0L432.0 461.8L432.3 458.8L432.6 457.5L432.9 458.9L433.2 459.3L433.5 459.9L433.8 462.2L434.1 463.3L434.4 462.6L434.7 463.4L435.0 460.4L435.3 460.6L435.6 460.5L435.9 459.7L436.2 458.4L436.5 459.6L436.8 460.7L437.1 459.3L437.4 458.8L437.7 457.9L438.0 456.3L438.3 457.7L438.6 458.9L438.9 458.2L439.2 457.8L439.5 460.0L439.8 459.0L440.1 459.8L440.4 457.6L440.7 455.1L441.0 458.6L441.3 461.1L441.6 461.8L441.9 462.1L442.2 462.4L442.5 461.4L442.8 460.1L443.1 460.5L443.4 461.0L443.7 459.2L444.0 459.1L444.3 460.3L444.6 463.0L444.9 460.7L445.2 461.2L445.5 461.0L445.8 466.0L446.1 464.7L446.4 461.0L446.7 458.1L447.0 459.5L447.3 462.2L447.6 463.0L447.9 460.5L448.2 460.3L448.5 457.5L448.8 457.6L449.1 462.8L449.4 460.6L449.7 459.5L450.0 459.3L450.3 459.1L450.6 458.2L450.9 460.2L451.2 461.7L451.5 461.0L451.8 459.9L452.1 458.6L452.4 458.4L452.7 459.6L453.0 460.8L453.3 460.6L453.6 459.2L453.9 460.5L454.2 462.2L454.5 461.7L454.8 459.3L455.1 457.7L455.4 454.7L455.7 455.4L456.0 459.6L456.3 461.1L456.6 461.9L456.9 461.1L457.2 460.2L457.5 460.8L457.8 459.6L458.1 461.8L458.4 460.9L458.7 459.1L459.0 457.4L459.3 456.1L459.6 455.8L459.9 458.2L460.2 456.9L460.5 458.2L460.8 456.3L461.1 455.3L461.4 455.2L461.7 458.1L462.0 457.2L462.3 457.5L462.6 456.6L462.8 453.6L463.1 456.5L463.4 456.9L463.7 455.6L464.0 455.8L464.3 457.0L464.6 457.5L464.9 455.9L465.2 452.6L465.5 450.4L465.8 453.4L466.1 455.2L466.4 455.5L466.7 453.5L467.0 455.3L467.3 455.8L467.6 452.2L467.9 452.8L468.2 453.2L468.5 452.3L468.8 451.0L469.1 451.0L469.4 453.7L469.7 454.3L470.0 456.4L470.3 452.0L470.6 451.0L470.9 453.4L471.2 453.9L471.5 453.2L471.8 451.8L472.1 450.7L472.4 450.8L472.7 449.1L473.0 449.3L473.3 449.6L473.6 451.5L473.9 451.0L474.2 451.7L474.5 452.7L474.8 453.4L475.1 452.1L475.4 451.6L475.7 448.5L476.0 446.2L476.3 447.7L476.6 448.7L476.9 447.7L477.2 444.8L477.5 443.9L477.8 443.5L478.1 446.7L478.4 444.6L478.7 444.1L479.0 446.4L479.3 447.4L479.6 445.8L479.9 445.2L480.2 446.0L480.5 445.6L480.8 445.7L481.1 441.9L481.4 444.0L481.7 447.8L482.0 446.8L482.3 449.0L482.6 452.3L482.9 446.7L483.2 441.8L483.5 442.4L483.8 442.8L484.1 440.8L484.4 440.0L484.7 443.6L485.0 446.1L485.3 444.0L485.6 443.8L485.9 442.8L486.2 442.6L486.5 443.4L486.8 444.4L487.1 446.0L487.4 445.9L487.7 442.9L488.0 440.9L488.3 437.8L488.6 439.8L488.9 442.7L489.2 441.1L489.5 441.6L489.8 439.8L490.1 439.0L490.4 439.5L490.7 439.7L491.0 437.9L491.3 440.0L491.6 438.4L491.9 437.9L492.2 440.9L492.5 441.5L492.8 439.4L493.1 438.8L493.4 435.2L493.7 433.6L494.0 436.9L494.3 436.3L494.6 437.6L494.9 438.4L495.2 435.3L495.5 433.4L495.8 433.6L496.1 434.9L496.4 435.7L496.7 434.3L497.0 433.8L497.3 433.3L497.6 429.8L497.9 430.8L498.2 430.0L498.5 431.8L498.8 431.1L499.1 433.0L499.4 433.1L499.7 430.4L500.0 426.1L500.3 428.9L500.6 429.9L500.9 429.5L501.2 426.8L501.5 425.4L501.8 425.3L502.1 423.7L502.4 424.2L502.7 422.8L503.0 423.6L503.3 423.4L503.6 423.7L503.9 423.4L504.2 422.3L504.5 420.7L504.8 423.7L505.1 422.4L505.4 423.7L505.7 422.3L506.0 420.3L506.3 418.0L506.6 416.8L506.9 416.6L507.2 415.2L507.5 418.3L507.8 418.0L508.1 414.0L508.4 411.8L508.7 410.0L509.0 409.1L509.3 409.7L509.6 412.6L509.9 414.2L510.2 411.3L510.4 414.0L510.7 411.4L511.0 409.0L511.3 408.9L511.6 407.3L511.9 409.0L512.2 408.4L512.5 407.8L512.8 410.2L513.1 407.2L513.4 403.3L513.7 403.4L514.0 405.0L514.3 406.8L514.6 401.0L514.9 397.4L515.2 398.6L515.5 397.3L515.8 395.5L516.1 397.5L516.4 398.5L516.7 395.3L517.0 396.0L517.3 395.8L517.6 393.2L517.9 391.0L518.2 394.3L518.5 397.2L518.8 394.6L519.1 392.7L519.4 390.2L519.7 389.8L520.0 391.1L520.3 391.2L520.6 389.8L520.9 390.0L521.2 390.8L521.5 386.9L521.8 388.8L522.1 386.3L522.4 388.0L522.7 388.6L523.0 388.4L523.3 385.6L523.6 383.2L523.9 384.7L524.2 380.4L524.5 380.7L524.8 387.7L525.1 385.1L525.4 387.7L525.7 383.7L526.0 379.7L526.3 378.7L526.6 377.7L526.9 377.5L527.2 379.3L527.5 377.8L527.8 373.9L528.1 378.1L528.4 380.3L528.7 375.6L529.0 375.6L529.3 374.9L529.6 380.4L529.9 374.5L530.2 370.9L530.5 370.0L530.8 370.0L531.1 370.5L531.4 370.2L531.7 368.7L532.0 368.3L532.3 370.5L532.6 372.4L532.9 367.2L533.2 369.0L533.5 368.0L533.8 366.8L534.1 307.8L534.4 56.8L534.7 307.8L535.0 366.8L535.3 368.0L535.6 369.0L535.9 367.2L536.2 372.4L536.5 370.5L536.8 368.3L537.1 368.7L537.4 370.2L537.7 370.5L538.0 370.0L538.3 370.0L538.6 370.9L538.9 374.5L539.2 380.4L539.5 374.9L539.8 375.6L540.1 375.6L540.4 380.3L540.7 378.1L541.0 373.9L541.3 377.8L541.6 379.3L541.9 377.5L542.2 377.7L542.5 378.7L542.8 379.7L543.1 383.7L543.4 387.7L543.7 385.1L544.0 387.7L544.3 380.7L544.6 380.4L544.9 384.7L545.2 383.2L545.5 385.6L545.8 388.4L546.1 388.6L546.4 388.0L546.7 386.3L547.0 388.8L547.3 386.9L547.6 390.8L547.9 390.0L548.2 389.8L548.5 391.2L548.8 391.1L549.1 389.8L549.4 390.2L549.7 392.7L550.0 394.6L550.3 397.2L550.6 394.3L550.9 391.0L551.2 393.2L551.5 395.8L551.8 396.0L552.1 395.3L552.4 398.5L552.7 397.5L553.0 395.5L553.3 397.3L553.6 398.6L553.9 397.4L554.2 401.0L554.5 406.8L554.8 405.0L555.1 403.4L555.4 403.3L555.7 407.2L556.0 410.2L556.3 407.8L556.6 408.4L556.9 409.0L557.2 407.3L557.5 408.9L557.8 409.0L558.1 411.4L558.4 414.0L558.6 411.3L558.9 414.2L559.2 412.6L559.5 409.7L559.8 409.1L560.1 410.0L560.4 411.8L560.7 414.0L561.0 418.0L561.3 418.3L561.6 415.2L561.9 416.6L562.2 416.8L562.5 418.0L562.8 420.3L563.1 422.3L563.4 423.7L563.7 422.4L564.0 423.7L564.3 420.7L564.6 422.3L564.9 423.4L565.2 423.7L565.5 423.4L565.8 423.6L566.1 422.8L566.4 424.2L566.7 423.7L567.0 425.3L567.3 425.4L567.6 426.8L567.9 429.5L568.2 429.9L568.5 428.9L568.8 426.1L569.1 430.4L569.4 433.1L569.7 433.0L570.0 431.1L570.3 431.8L570.6 430.0L570.9 430.8L571.2 429.8L571.5 433.3L571.8 433.8L572.1 434.3L572.4 435.7L572.7 434.9L573.0 433.6L573.3 433.4L573.6 435.3L573.9 438.4L574.2 437.6L574.5 436.3L574.8 436.9L575.1 433.6L575.4 435.2L575.7 438.8L576.0 439.4L576.3 441.5L576.6 440.9L576.9 437.9L577.2 438.4L577.5 440.0L577.8 437.9L578.1 439.7L578.4 439.5L578.7 439.0L579.0 439.8L579.3 441.6L579.6 441.1L579.9 442.7L580.2 439.8L580.5 437.8L580.8 440.9L581.1 442.9L581.4 445.9L581.7 446.0L582.0 444.4L582.3 443.4L582.6 442.6L582.9 442.8L583.2 443.8L583.5 444.0L583.8 446.1L584.1 443.6L584.4 440.0L584.7 440.8L585.0 442.8L585.3 442.4L585.6 441.8L585.9 446.7L586.2 452.3L586.5 449.0L586.8 446.8L587.1 447.8L587.4 444.0L587.7 441.9L588.0 445.7L588.3 445.6L588.6 446.0L588.9 445.2L589.2 445.8L589.5 447.4L589.8 446.4L590.1 444.1L590.4 444.6L590.7 446.7L591.0 443.5L591.3 443.9L591.6 444.8L591.9 447.7L592.2 448.7L592.5 447.7L592.8 446.2L593.1 448.5L593.4 451.6L593.7 452.1L594.0 453.4L594.3 452.7L594.6 451.7L594.9 451.0L595.2 451.5L595.5 449.6L595.8 449.3L596.1 449.1L596.4 450.8L596.7 450.7L597.0 451.8L597.3 453.2L597.6 453.9L597.9 453.4L598.2 451.0L598.5 452.0L598.8 456.4L599.1 454.3L599.4 453.7L599.7 451.0L600.0 451.0L600.3 452.3L600.6 453.2L600.9 452.8L601.2 452.2L601.5 455.8L601.8 455.3L602.1 453.5L602.4 455.5L602.7 455.2L603.0 453.4L603.3 450.4L603.6 452.6L603.9 455.9L604.2 457.5L604.5 457.0L604.8 455.8L605.1 455.6L605.4 456.9L605.7 456.5L606.0 453.6L606.2 456.6L606.5 457.5L606.8 457.2L607.1 458.1L607.4 455.2L607.7 455.3L608.0 456.3L608.3 458.2L608.6 456.9L608.9 458.2L609.2 455.8L609.5 456.1L609.8 457.4L610.1 459.1L610.4 460.9L610.7 461.8L611.0 459.6L611.3 460.8L611.6 460.2L611.9 461.1L612.2 461.9L612.5 461.1L612.8 459.6L613.1 455.4L613.4 454.7L613.7 457.7L614.0 459.3L614.3 461.7L614.6 462.2L614.9 460.5L615.2 459.2L615.5 460.6L615.8 460.8L616.1 459.6L616.4 458.4L616.7 458.6L617.0 459.9L617.3 461.0L617.6 461.7L617.9 460.2L618.2 458.2L618.5 459.1L618.8 459.3L619.1 459.5L619.4 460.6L619.7 462.8L620.0 457.6L620.3 457.5L620.6 460.3L620.9 460.5L621.2 463.0L621.5 462.2L621.8 459.5L622.1 458.1L622.4 461.0L622.7 464.7L623.0 466.0L623.3 461.0L623.6 461.2L623.9 460.7L624.2 463.0L624.5 460.3L624.8 459.1L625.1 459.2L625.4 461.0L625.7 460.5L626.0 460.1L626.3 461.4L626.6 462.4L626.9 462.1L627.2 461.8L627.5 461.1L627.8 458.6L628.1 455.1L628.4 457.6L628.7 459.8L629.0 459.0L629.3 460.0L629.6 457.8L629.9 458.2L630.2 458.9L630.5 457.7L630.8 456.3L631.1 457.9L631.4 458.8L631.7 459.3L632.0 460.7L632.3 459.6L632.6 458.4L632.9 459.7L633.2 460.5L633.5 460.6L633.8 460.4L634.1 463.4L634.4 462.6L634.7 463.3L635.0 462.2L635.3 459.9L635.6 459.3L635.9 458.9L636.2 457.5L636.5 458.8L636.8 461.8L637.1 464.0L637.4 462.4L637.7 460.3L638.0 460.4L638.3 459.4L638.6 461.2L638.9 463.4L639.2 463.3L639.5 461.2L639.8 461.7L640.1 461.6L640.4 462.2L640.7 463.5L641.0 460.2L641.3 460.2L641.6 461.0L641.9 464.8L642.2 460.8L642.5 460.9L642.8 457.0L643.1 457.6L643.4 458.9L643.7 461.8L644.0 464.8L644.3 464.0L644.6 459.1L644.9 462.6L645.2 463.0L645.5 465.0L645.8 463.7L646.1 463.0L646.4 462.9L646.7 461.7L647.0 463.3L647.3 465.3L647.6 462.9L647.9 463.2L648.2 467.7L648.5 467.5L648.8 462.6L649.1 462.9L649.4 462.1L649.7 462.6L650.0 461.1L650.3 460.3L650.6 463.3L650.9 462.2L651.2 464.8L651.5 464.1L651.8 460.7L652.1 459.1L652.4 462.4L652.7 462.7L653.0 460.6L653.3 460.6L653.6 462.6L653.9 461.9L654.2 463.9L654.4 462.3L654.7 459.9L655.0 460.5L655.3 461.7L655.6 460.6L655.9 463.3L656.2 462.8L656.5 463.9L656.8 465.1L657.1 465.0L657.4 462.5L657.7 459.2L658.0 462.9L658.3 462.0L658.6 461.2L658.9 460.5L659.2 461.1L659.5 464.0L659.8 464.5L660.1 461.4L660.4 462.0L660.7 463.7L661.0 462.2L661.3 461.9L661.6 462.9L661.9 466.7L662.2 461.0L662.5 460.3L662.8 458.5L663.1 459.3L663.4 461.8L663.7 459.5L664.0 457.8L664.3 454.6L664.6 459.1L664.9 459.4L665.2 460.9L665.5 461.5L665.8 459.9L666.1 459.8L666.4 461.5L666.7 464.6L667.0 464.9L667.3 463.9L667.6 463.9L667.9 462.7L668.2 461.8L668.5 460.7L668.8 459.9L669.1 461.0L669.4 461.8L669.7 461.7L670.0 460.6L670.3 458.8L670.6 462.9L670.9 465.0L671.2 463.5L671.5 460.8L671.8 459.9L672.1 460.4L672.4 461.9L672.7 461.5L673.0 459.9L673.3 459.2L673.6 457.8L673.9 459.3L674.2 459.3L674.5 459.1L674.8 460.8L675.1 461.5L675.4 463.7L675.7 461.5L676.0 458.1L676.3 456.9L676.6 456.4L676.9 454.9L677.2 455.0L677.5 459.9L677.8 459.9L678.1 459.5" stroke="#149a70" stroke-width="1.05" fill="none" stroke-linejoin="round"/>
<path d="M390.7 467.8L391.0 469.4L391.3 470.7L391.6 471.0L391.9 470.2L392.2 469.3L392.5 468.9L392.8 470.1L393.1 471.0L393.4 469.7L393.7 470.5L394.0 472.6L394.3 471.0L394.6 469.8L394.9 468.6L395.2 467.7L395.5 466.5L395.8 466.6L396.1 467.4L396.4 469.1L396.7 469.5L397.0 469.4L397.3 471.3L397.6 469.6L397.9 469.0L398.2 469.7L398.5 470.6L398.8 472.0L399.1 469.3L399.4 468.7L399.7 470.1L400.0 470.9L400.3 469.1L400.6 470.1L400.9 470.3L401.2 470.2L401.5 469.8L401.8 472.8L402.1 473.3L402.4 471.6L402.7 472.9L403.0 470.9L403.3 471.5L403.6 472.3L403.9 473.7L404.2 470.7L404.5 468.4L404.8 470.2L405.1 469.0L405.4 469.3L405.7 471.2L406.0 470.2L406.3 470.4L406.6 471.4L406.9 476.0L407.2 475.1L407.5 470.7L407.8 469.0L408.1 471.6L408.4 474.2L408.7 470.1L409.0 469.5L409.3 469.4L409.6 470.1L409.9 468.7L410.2 472.9L410.5 472.3L410.8 472.3L411.1 470.7L411.4 469.8L411.7 470.5L412.0 469.8L412.3 468.9L412.6 469.2L412.9 471.6L413.2 472.3L413.5 468.4L413.8 467.6L414.1 468.4L414.4 469.7L414.6 469.2L414.9 469.4L415.2 470.1L415.5 469.1L415.8 469.8L416.1 470.2L416.4 471.1L416.7 471.7L417.0 472.4L417.3 472.4L417.6 470.4L417.9 469.6L418.2 469.6L418.5 471.0L418.8 471.6L419.1 472.8L419.4 473.6L419.7 472.5L420.0 471.2L420.3 470.4L420.6 470.2L420.9 470.0L421.2 469.6L421.5 470.2L421.8 471.2L422.1 472.6L422.4 469.8L422.7 471.7L423.0 473.5L423.3 470.6L423.6 468.0L423.9 469.8L424.2 469.3L424.5 469.2L424.8 467.2L425.1 469.0L425.4 468.2L425.7 465.1L426.0 467.7L426.3 471.3L426.6 473.9L426.9 473.2L427.2 468.7L427.5 470.5L427.8 472.0L428.1 471.7L428.4 471.1L428.7 470.6L429.0 472.2L429.3 468.4L429.6 469.4L429.9 468.7L430.2 469.8L430.5 468.7L430.8 468.6L431.1 470.3L431.4 472.5L431.7 471.9L432.0 470.6L432.3 470.6L432.6 470.9L432.9 470.7L433.2 470.4L433.5 468.8L433.8 469.7L434.1 468.3L434.4 469.6L434.7 470.2L435.0 468.3L435.3 469.3L435.6 468.6L435.9 467.9L436.2 469.0L436.5 469.3L436.8 467.0L437.1 468.8L437.4 469.6L437.7 468.5L438.0 468.5L438.3 466.1L438.6 466.1L438.9 467.0L439.2 467.3L439.5 468.6L439.8 467.4L440.1 468.9L440.4 467.8L440.7 464.8L441.0 465.7L441.3 465.2L441.6 465.5L441.9 467.6L442.2 466.3L442.5 466.8L442.8 467.3L443.1 465.0L443.4 464.8L443.7 468.8L444.0 468.0L444.3 466.4L444.6 465.3L444.9 466.0L445.2 465.7L445.5 464.5L445.8 465.2L446.1 465.3L446.4 466.3L446.7 466.2L447.0 464.7L447.3 468.3L447.6 470.9L447.9 467.8L448.2 466.4L448.5 467.9L448.8 466.1L449.1 464.9L449.4 464.3L449.7 463.7L450.0 464.7L450.3 464.9L450.6 465.0L450.9 463.5L451.2 462.8L451.5 464.0L451.8 463.4L452.1 462.4L452.4 462.3L452.7 463.0L453.0 463.6L453.3 466.3L453.6 466.2L453.9 461.9L454.2 464.5L454.5 465.8L454.8 466.5L455.1 468.7L455.4 465.9L455.7 464.8L456.0 464.4L456.3 464.0L456.6 462.5L456.9 465.4L457.2 464.0L457.5 463.6L457.8 461.9L458.1 461.0L458.4 459.9L458.7 461.8L459.0 464.3L459.3 460.2L459.6 460.6L459.9 464.2L460.2 464.3L460.5 462.6L460.8 464.6L461.1 463.3L461.4 462.7L461.7 461.4L462.0 462.8L462.3 463.3L462.6 460.3L462.8 460.8L463.1 463.6L463.4 464.3L463.7 462.4L464.0 462.4L464.3 463.4L464.6 464.9L464.9 465.5L465.2 464.3L465.5 463.2L465.8 462.2L466.1 462.0L466.4 463.1L466.7 466.5L467.0 466.1L467.3 464.7L467.6 462.9L467.9 462.4L468.2 464.2L468.5 463.1L468.8 464.0L469.1 465.3L469.4 463.4L469.7 462.4L470.0 461.4L470.3 461.4L470.6 463.8L470.9 466.6L471.2 463.9L471.5 464.6L471.8 463.3L472.1 460.8L472.4 458.9L472.7 459.2L473.0 459.1L473.3 460.3L473.6 463.3L473.9 461.1L474.2 462.1L474.5 461.9L474.8 460.9L475.1 461.4L475.4 461.4L475.7 463.8L476.0 462.2L476.3 459.3L476.6 460.3L476.9 459.1L477.2 460.7L477.5 463.4L477.8 464.1L478.1 461.7L478.4 460.2L478.7 460.1L479.0 459.5L479.3 459.7L479.6 459.4L479.9 459.8L480.2 457.4L480.5 457.9L480.8 459.4L481.1 456.6L481.4 457.1L481.7 456.9L482.0 456.7L482.3 456.7L482.6 459.9L482.9 461.3L483.2 461.1L483.5 460.7L483.8 461.3L484.1 459.5L484.4 459.8L484.7 459.3L485.0 458.3L485.3 456.9L485.6 455.7L485.9 453.9L486.2 455.0L486.5 456.3L486.8 458.6L487.1 455.1L487.4 453.8L487.7 454.5L488.0 455.6L488.3 455.2L488.6 454.9L488.9 454.1L489.2 456.0L489.5 456.3L489.8 456.1L490.1 454.1L490.4 454.1L490.7 452.5L491.0 450.7L491.3 449.9L491.6 449.3L491.9 449.9L492.2 451.0L492.5 451.9L492.8 450.5L493.1 450.0L493.4 451.1L493.7 449.6L494.0 452.3L494.3 453.6L494.6 451.5L494.9 451.6L495.2 451.0L495.5 450.0L495.8 448.0L496.1 446.5L496.4 448.6L496.7 449.7L497.0 448.8L497.3 447.7L497.6 450.3L497.9 449.0L498.2 450.3L498.5 449.9L498.8 448.5L499.1 444.6L499.4 446.6L499.7 447.5L500.0 446.4L500.3 447.8L500.6 446.6L500.9 444.5L501.2 442.4L501.5 443.2L501.8 441.5L502.1 439.3L502.4 440.2L502.7 442.2L503.0 443.4L503.3 441.3L503.6 439.9L503.9 439.9L504.2 440.5L504.5 435.6L504.8 433.7L505.1 436.1L505.4 436.5L505.7 438.5L506.0 440.6L506.3 441.5L506.6 439.6L506.9 440.5L507.2 436.7L507.5 434.9L507.8 436.8L508.1 437.7L508.4 438.3L508.7 435.3L509.0 436.0L509.3 438.2L509.6 437.9L509.9 437.2L510.2 435.2L510.4 433.1L510.7 434.7L511.0 435.4L511.3 436.0L511.6 429.8L511.9 431.3L512.2 432.4L512.5 433.2L512.8 429.9L513.1 430.5L513.4 431.3L513.7 431.6L514.0 427.2L514.3 429.0L514.6 429.7L514.9 428.3L515.2 427.2L515.5 425.4L515.8 427.3L516.1 427.8L516.4 427.2L516.7 427.0L517.0 425.7L517.3 425.9L517.6 426.6L517.9 425.7L518.2 424.6L518.5 423.4L518.8 421.4L519.1 419.4L519.4 421.2L519.7 421.6L520.0 423.1L520.3 421.8L520.6 422.1L520.9 422.7L521.2 420.9L521.5 418.7L521.8 417.2L522.1 420.2L522.4 419.4L522.7 419.9L523.0 418.6L523.3 416.2L523.6 416.6L523.9 415.7L524.2 414.9L524.5 415.2L524.8 420.1L525.1 417.0L525.4 414.8L525.7 412.3L526.0 414.2L526.3 413.4L526.6 414.9L526.9 416.7L527.2 412.0L527.5 414.0L527.8 410.1L528.1 411.2L528.4 410.1L528.7 408.9L529.0 409.0L529.3 408.9L529.6 409.3L529.9 407.9L530.2 408.6L530.5 408.9L530.8 409.9L531.1 409.0L531.4 405.2L531.7 408.6L532.0 411.5L532.3 409.3L532.6 407.1L532.9 408.6L533.2 409.6L533.5 407.6L533.8 406.4L534.1 406.9L534.4 369.3L534.7 409.3L535.0 407.1L535.3 404.5L535.6 401.7L535.9 405.0L536.2 408.2L536.5 407.0L536.8 408.8L537.1 408.1L537.4 410.1L537.7 410.8L538.0 407.1L538.3 411.1L538.6 410.4L538.9 411.1L539.2 412.5L539.5 410.8L539.8 411.5L540.1 417.0L540.4 412.0L540.7 413.0L541.0 415.2L541.3 417.4L541.6 412.5L541.9 411.8L542.2 414.0L542.5 416.4L542.8 414.9L543.1 412.5L543.4 414.9L543.7 413.7L544.0 414.9L544.3 417.9L544.6 416.4L544.9 416.8L545.2 418.6L545.5 421.0L545.8 419.2L546.1 418.7L546.4 420.7L546.7 419.9L547.0 419.9L547.3 422.6L547.6 423.0L547.9 422.8L548.2 420.5L548.5 422.0L548.8 424.5L549.1 422.5L549.4 423.0L549.7 426.0L550.0 427.9L550.3 429.6L550.6 429.8L550.9 426.2L551.2 425.2L551.5 427.3L551.8 428.5L552.1 429.3L552.4 429.2L552.7 426.8L553.0 429.7L553.3 432.0L553.6 431.8L553.9 430.4L554.2 429.5L554.5 430.0L554.8 430.4L555.1 432.1L555.4 431.6L555.7 430.2L556.0 430.6L556.3 431.2L556.6 432.6L556.9 433.4L557.2 436.1L557.5 435.5L557.8 437.5L558.1 436.8L558.4 435.7L558.6 437.1L558.9 437.6L559.2 435.1L559.5 434.0L559.8 434.1L560.1 433.8L560.4 436.3L560.7 439.1L561.0 439.5L561.3 438.7L561.6 437.3L561.9 439.4L562.2 439.3L562.5 436.9L562.8 439.3L563.1 442.3L563.4 441.9L563.7 443.8L564.0 442.6L564.3 442.1L564.6 444.6L564.9 444.2L565.2 442.9L565.5 440.8L565.8 442.5L566.1 445.5L566.4 443.3L566.7 444.1L567.0 442.6L567.3 443.9L567.6 444.2L567.9 445.3L568.2 444.3L568.5 445.5L568.8 445.6L569.1 446.1L569.4 446.2L569.7 446.4L570.0 446.1L570.3 445.9L570.6 448.4L570.9 447.6L571.2 445.5L571.5 448.4L571.8 446.7L572.1 446.5L572.4 449.1L572.7 448.8L573.0 447.7L573.3 447.5L573.6 448.1L573.9 446.1L574.2 447.4L574.5 449.9L574.8 448.5L575.1 449.3L575.4 451.1L575.7 450.2L576.0 452.0L576.3 450.8L576.6 448.6L576.9 450.3L577.2 451.6L577.5 451.5L577.8 451.1L578.1 452.4L578.4 452.2L578.7 453.5L579.0 452.7L579.3 452.9L579.6 451.8L579.9 452.4L580.2 453.9L580.5 456.2L580.8 454.4L581.1 455.1L581.4 453.4L581.7 454.1L582.0 455.4L582.3 455.9L582.6 455.4L582.9 454.9L583.2 455.8L583.5 456.4L583.8 458.3L584.1 457.6L584.4 456.7L584.7 456.6L585.0 456.6L585.3 458.2L585.6 459.7L585.9 458.1L586.2 458.4L586.5 458.8L586.8 459.6L587.1 461.8L587.4 461.5L587.7 460.3L588.0 457.9L588.3 457.2L588.6 456.9L588.9 459.3L589.2 459.3L589.5 458.4L589.8 458.2L590.1 459.3L590.4 459.9L590.7 462.2L591.0 461.2L591.3 461.2L591.6 458.5L591.9 460.3L592.2 459.3L592.5 460.1L592.8 462.6L593.1 463.6L593.4 462.5L593.7 463.2L594.0 461.7L594.3 460.8L594.6 461.9L594.9 463.3L595.2 461.7L595.5 460.7L595.8 460.1L596.1 462.1L596.4 459.5L596.7 459.1L597.0 461.9L597.3 461.3L597.6 461.0L597.9 461.4L598.2 462.2L598.5 460.9L598.8 459.8L599.1 459.3L599.4 461.3L599.7 463.2L600.0 460.5L600.3 459.7L600.6 462.0L600.9 461.4L601.2 461.4L601.5 463.9L601.8 463.8L602.1 464.2L602.4 461.9L602.7 461.0L603.0 463.6L603.3 465.6L603.6 465.7L603.9 463.7L604.2 463.7L604.5 465.2L604.8 468.3L605.1 467.6L605.4 467.8L605.7 466.5L606.0 463.9L606.2 464.0L606.5 466.1L606.8 465.7L607.1 465.8L607.4 467.0L607.7 468.5L608.0 466.2L608.3 465.4L608.6 467.2L608.9 464.1L609.2 466.8L609.5 466.3L609.8 467.0L610.1 465.9L610.4 466.4L610.7 466.3L611.0 467.2L611.3 465.9L611.6 467.9L611.9 466.9L612.2 466.2L612.5 464.6L612.8 464.8L613.1 463.6L613.4 466.2L613.7 467.4L614.0 467.5L614.3 467.9L614.6 466.3L614.9 468.6L615.2 468.8L615.5 470.1L615.8 467.9L616.1 467.7L616.4 468.9L616.7 468.0L617.0 467.3L617.3 466.7L617.6 468.7L617.9 469.3L618.2 469.8L618.5 468.7L618.8 468.5L619.1 468.3L619.4 466.7L619.7 465.2L620.0 466.6L620.3 468.1L620.6 465.3L620.9 465.9L621.2 465.6L621.5 466.8L621.8 469.4L622.1 467.8L622.4 467.5L622.7 467.3L623.0 469.0L623.3 467.9L623.6 465.5L623.9 465.8L624.2 468.1L624.5 468.7L624.8 469.2L625.1 468.9L625.4 467.8L625.7 468.0L626.0 465.8L626.3 466.4L626.6 466.0L626.9 468.8L627.2 467.4L627.5 465.6L627.8 466.3L628.1 464.7L628.4 465.2L628.7 464.4L629.0 467.2L629.3 468.4L629.6 469.7L629.9 468.5L630.2 465.1L630.5 464.9L630.8 462.7L631.1 463.7L631.4 464.0L631.7 465.8L632.0 469.1L632.3 466.5L632.6 464.3L632.9 464.4L633.2 463.9L633.5 466.1L633.8 466.5L634.1 467.8L634.4 467.8L634.7 468.0L635.0 467.7L635.3 464.0L635.6 464.4L635.9 465.6L636.2 468.1L636.5 469.4L636.8 469.0L637.1 468.9L637.4 469.9L637.7 468.7L638.0 469.6L638.3 470.6L638.6 469.2L638.9 466.8L639.2 465.6L639.5 465.8L639.8 468.5L640.1 469.8L640.4 471.9L640.7 470.7L641.0 471.0L641.3 468.9L641.6 467.9L641.9 467.5L642.2 468.8L642.5 467.4L642.8 468.6L643.1 468.6L643.4 468.1L643.7 469.1L644.0 470.0L644.3 468.5L644.6 469.1L644.9 468.5L645.2 468.0L645.5 469.0L645.8 471.8L646.1 470.9L646.4 470.0L646.7 470.0L647.0 467.8L647.3 466.4L647.6 468.7L647.9 469.9L648.2 471.8L648.5 470.9L648.8 469.6L649.1 470.2L649.4 470.8L649.7 473.0L650.0 471.3L650.3 470.4L650.6 470.1L650.9 471.3L651.2 469.8L651.5 468.8L651.8 471.2L652.1 470.3L652.4 471.5L652.7 470.9L653.0 470.5L653.3 470.2L653.6 469.4L653.9 469.2L654.2 468.0L654.4 468.2L654.7 470.5L655.0 469.2L655.3 468.9L655.6 467.6L655.9 467.7L656.2 468.6L656.5 470.2L656.8 469.8L657.1 472.4L657.4 469.8L657.7 466.3L658.0 468.4L658.3 472.1L658.6 470.3L658.9 466.1L659.2 467.1L659.5 469.9L659.8 469.7L660.1 465.9L660.4 468.9L660.7 468.8L661.0 468.6L661.3 470.2L661.6 468.5L661.9 468.0L662.2 468.6L662.5 467.3L662.8 466.2L663.1 467.9L663.4 468.8L663.7 469.2L664.0 468.3L664.3 467.7L664.6 466.1L664.9 467.6L665.2 468.3L665.5 467.8L665.8 466.8L666.1 467.7L666.4 467.8L666.7 470.7L667.0 470.4L667.3 470.5L667.6 468.0L667.9 467.3L668.2 467.6L668.5 472.0L668.8 471.4L669.1 468.4L669.4 468.0L669.7 471.1L670.0 470.0L670.3 470.9L670.6 470.4L670.9 466.9L671.2 466.6L671.5 465.0L671.8 466.3L672.1 464.6L672.4 465.4L672.7 464.1L673.0 465.0L673.3 467.2L673.6 469.3L673.9 467.6L674.2 462.2L674.5 462.6L674.8 463.9L675.1 465.5L675.4 463.7L675.7 462.6L676.0 462.1L676.3 465.1L676.6 467.9L676.9 466.3L677.2 464.2L677.5 463.9L677.8 465.8L678.1 468.4" stroke="#17a9da" stroke-width="1.05" fill="none" stroke-linejoin="round"/>
</g>
<path d="M390.7 436.4h5M390.7 394.2h5M390.7 352.1h5M390.7 309.9h5M438.6 478.6v-5M486.5 478.6v-5M534.4 478.6v-5M582.3 478.6v-5M630.2 478.6v-5" stroke="#222" stroke-width="0.85" fill="none"/>
<rect x="390.7" y="267.7" width="287.4" height="210.9" fill="none" stroke="#222" stroke-width="0.9"/>
<text class="t" x="386.2" y="482.8" text-anchor="end">0</text>
<text class="t" x="386.2" y="440.6" text-anchor="end">0.1</text>
<text class="t" x="386.2" y="398.4" text-anchor="end">0.2</text>
<text class="t" x="386.2" y="356.3" text-anchor="end">0.3</text>
<text class="t" x="386.2" y="314.1" text-anchor="end">0.4</text>
<text class="t" x="386.2" y="271.9" text-anchor="end">0.5</text>
<text class="t" x="390.7" y="493.9" text-anchor="middle">–<tspan dx="0.6">30</tspan></text>
<text class="t" x="438.6" y="493.9" text-anchor="middle">–<tspan dx="0.6">20</tspan></text>
<text class="t" x="486.5" y="493.9" text-anchor="middle">–<tspan dx="0.6">10</tspan></text>
<text class="t" x="534.4" y="493.9" text-anchor="middle">0</text>
<text class="t" x="582.3" y="493.9" text-anchor="middle">10</text>
<text class="t" x="630.2" y="493.9" text-anchor="middle">20</text>
<text class="t" x="678.1" y="493.9" text-anchor="middle">30</text>
<text class="a" x="533.7" y="512.5" text-anchor="middle">Frequency lag, kHz</text>
<text class="a" transform="translate(359.4 373.8) rotate(-90)" text-anchor="middle">Correlation coefficient</text>
<text class="l l2" x="628.6" y="280.2" text-anchor="end">Pulse 106 ACF1</text>
<path d="M634.2 276.7H664.6" stroke="#7d3f9f" stroke-width="0.85" fill="none"/>
<text class="l l2" x="628.6" y="291.3" text-anchor="end">Pulse 106 ACF2</text>
<path d="M634.2 287.8H664.6" stroke="#149a70" stroke-width="0.85" fill="none"/>
<text class="l l2" x="628.6" y="302.5" text-anchor="end">Pulse 106 CCF</text>
<path d="M634.2 299.0H664.6" stroke="#17a9da" stroke-width="0.85" fill="none"/>
<g clip-path="url(#cl2)">
<path d="M44.2 676.3L48.7 679.2L53.2 678.1L57.7 674.9L62.2 671.5L66.6 672.7L71.1 674.1L75.6 672.7L80.1 667.8L84.6 668.0L89.1 673.0L93.6 665.3L98.1 666.5L102.6 665.3L107.0 667.8L111.5 663.4L116.0 666.8L120.5 662.9L125.0 666.1L129.5 666.8L134.0 669.0L138.5 662.9L143.0 663.2L147.4 657.7L151.9 658.0L156.4 651.0L160.9 646.7L165.4 649.7L169.9 652.9L174.4 656.5L178.9 640.9L183.4 594.9L187.9 322.1L192.3 594.9L196.8 640.9L201.3 656.5L205.8 652.9L210.3 649.7L214.8 646.7L219.3 651.0L223.8 658.0L228.3 657.7L232.7 663.2L237.2 662.9L241.7 669.0L246.2 666.8L250.7 666.1L255.2 662.9L259.7 666.8L264.2 663.4L268.7 667.8L273.1 665.3L277.6 666.5L282.1 665.3L286.6 673.0L291.1 668.0L295.6 667.8L300.1 672.7L304.6 674.1L309.1 672.7L313.5 671.5L318.0 674.9L322.5 678.1L327.0 679.2L331.5 676.3" stroke="#7d3f9f" stroke-width="0.9" fill="none" stroke-linejoin="round"/>
<path d="M44.2 696.5L48.7 699.0L53.2 695.8L57.7 693.1L62.2 691.7L66.6 697.5L71.1 691.7L75.6 692.0L80.1 693.9L84.6 695.3L89.1 691.2L93.6 691.4L98.1 690.6L102.6 693.1L107.0 692.0L111.5 690.6L116.0 692.0L120.5 690.6L125.0 689.5L129.5 693.1L134.0 689.9L138.5 690.2L143.0 688.3L147.4 693.1L151.9 686.3L156.4 687.3L160.9 683.3L165.4 688.5L169.9 686.1L174.4 687.3L178.9 676.0L183.4 661.4L187.9 322.1L192.3 661.4L196.8 676.0L201.3 687.3L205.8 686.1L210.3 688.5L214.8 683.3L219.3 687.3L223.8 686.3L228.3 693.1L232.7 688.3L237.2 690.2L241.7 689.9L246.2 693.1L250.7 689.5L255.2 690.6L259.7 692.0L264.2 690.6L268.7 692.0L273.1 693.1L277.6 690.6L282.1 691.4L286.6 691.2L291.1 695.3L295.6 693.9L300.1 692.0L304.6 691.7L309.1 697.5L313.5 691.7L318.0 693.1L322.5 695.8L327.0 699.0L331.5 696.5" stroke="#149a70" stroke-width="0.9" fill="none" stroke-linejoin="round"/>
<path d="M44.2 690.6L48.7 691.7L53.2 686.6L57.7 684.8L62.2 686.6L66.6 687.6L71.1 688.5L75.6 688.0L80.1 681.9L84.6 681.1L89.1 688.5L93.6 687.3L98.1 683.6L102.6 684.1L107.0 684.8L111.5 683.2L116.0 685.1L120.5 683.6L125.0 685.5L129.5 683.6L134.0 681.4L138.5 681.1L143.0 682.5L147.4 680.2L151.9 680.2L156.4 678.8L160.9 680.4L165.4 683.6L169.9 678.9L174.4 687.0L178.9 677.5L183.4 681.9L187.9 622.9L192.3 680.2L196.8 678.5L201.3 675.2L205.8 678.2L210.3 675.2L214.8 676.0L219.3 674.7L223.8 675.4L228.3 671.1L232.7 675.2L237.2 678.2L241.7 683.2L246.2 682.2L250.7 681.4L255.2 680.4L259.7 681.7L264.2 681.1L268.7 680.2L273.1 680.4L277.6 684.4L282.1 682.9L286.6 688.0L291.1 686.6L295.6 684.4L300.1 686.1L304.6 684.7L309.1 687.3L313.5 686.9L318.0 685.4L322.5 683.6L327.0 681.4L331.5 679.2" stroke="#17a9da" stroke-width="0.9" fill="none" stroke-linejoin="round"/>
</g>
<circle cx="44.2" cy="676.3" r="1.75" fill="#fff" fill-opacity="0.3" stroke="#7d3f9f" stroke-width="1.25"/>
<circle cx="48.7" cy="679.2" r="1.75" fill="#fff" fill-opacity="0.3" stroke="#7d3f9f" stroke-width="1.25"/>
<circle cx="53.2" cy="678.1" r="1.75" fill="#fff" fill-opacity="0.3" stroke="#7d3f9f" stroke-width="1.25"/>
<circle cx="57.7" cy="674.9" r="1.75" fill="#fff" fill-opacity="0.3" stroke="#7d3f9f" stroke-width="1.25"/>
<circle cx="62.2" cy="671.5" r="1.75" fill="#fff" fill-opacity="0.3" stroke="#7d3f9f" stroke-width="1.25"/>
<circle cx="66.6" cy="672.7" r="1.75" fill="#fff" fill-opacity="0.3" stroke="#7d3f9f" stroke-width="1.25"/>
<circle cx="71.1" cy="674.1" r="1.75" fill="#fff" fill-opacity="0.3" stroke="#7d3f9f" stroke-width="1.25"/>
<circle cx="75.6" cy="672.7" r="1.75" fill="#fff" fill-opacity="0.3" stroke="#7d3f9f" stroke-width="1.25"/>
<circle cx="80.1" cy="667.8" r="1.75" fill="#fff" fill-opacity="0.3" stroke="#7d3f9f" stroke-width="1.25"/>
<circle cx="84.6" cy="668.0" r="1.75" fill="#fff" fill-opacity="0.3" stroke="#7d3f9f" stroke-width="1.25"/>
<circle cx="89.1" cy="673.0" r="1.75" fill="#fff" fill-opacity="0.3" stroke="#7d3f9f" stroke-width="1.25"/>
<circle cx="93.6" cy="665.3" r="1.75" fill="#fff" fill-opacity="0.3" stroke="#7d3f9f" stroke-width="1.25"/>
<circle cx="98.1" cy="666.5" r="1.75" fill="#fff" fill-opacity="0.3" stroke="#7d3f9f" stroke-width="1.25"/>
<circle cx="102.6" cy="665.3" r="1.75" fill="#fff" fill-opacity="0.3" stroke="#7d3f9f" stroke-width="1.25"/>
<circle cx="107.0" cy="667.8" r="1.75" fill="#fff" fill-opacity="0.3" stroke="#7d3f9f" stroke-width="1.25"/>
<circle cx="111.5" cy="663.4" r="1.75" fill="#fff" fill-opacity="0.3" stroke="#7d3f9f" stroke-width="1.25"/>
<circle cx="116.0" cy="666.8" r="1.75" fill="#fff" fill-opacity="0.3" stroke="#7d3f9f" stroke-width="1.25"/>
<circle cx="120.5" cy="662.9" r="1.75" fill="#fff" fill-opacity="0.3" stroke="#7d3f9f" stroke-width="1.25"/>
<circle cx="125.0" cy="666.1" r="1.75" fill="#fff" fill-opacity="0.3" stroke="#7d3f9f" stroke-width="1.25"/>
<circle cx="129.5" cy="666.8" r="1.75" fill="#fff" fill-opacity="0.3" stroke="#7d3f9f" stroke-width="1.25"/>
<circle cx="134.0" cy="669.0" r="1.75" fill="#fff" fill-opacity="0.3" stroke="#7d3f9f" stroke-width="1.25"/>
<circle cx="138.5" cy="662.9" r="1.75" fill="#fff" fill-opacity="0.3" stroke="#7d3f9f" stroke-width="1.25"/>
<circle cx="143.0" cy="663.2" r="1.75" fill="#fff" fill-opacity="0.3" stroke="#7d3f9f" stroke-width="1.25"/>
<circle cx="147.4" cy="657.7" r="1.75" fill="#fff" fill-opacity="0.3" stroke="#7d3f9f" stroke-width="1.25"/>
<circle cx="151.9" cy="658.0" r="1.75" fill="#fff" fill-opacity="0.3" stroke="#7d3f9f" stroke-width="1.25"/>
<circle cx="156.4" cy="651.0" r="1.75" fill="#fff" fill-opacity="0.3" stroke="#7d3f9f" stroke-width="1.25"/>
<circle cx="160.9" cy="646.7" r="1.75" fill="#fff" fill-opacity="0.3" stroke="#7d3f9f" stroke-width="1.25"/>
<circle cx="165.4" cy="649.7" r="1.75" fill="#fff" fill-opacity="0.3" stroke="#7d3f9f" stroke-width="1.25"/>
<circle cx="169.9" cy="652.9" r="1.75" fill="#fff" fill-opacity="0.3" stroke="#7d3f9f" stroke-width="1.25"/>
<circle cx="174.4" cy="656.5" r="1.75" fill="#fff" fill-opacity="0.3" stroke="#7d3f9f" stroke-width="1.25"/>
<circle cx="178.9" cy="640.9" r="1.75" fill="#fff" fill-opacity="0.3" stroke="#7d3f9f" stroke-width="1.25"/>
<circle cx="183.4" cy="594.9" r="1.75" fill="#fff" fill-opacity="0.3" stroke="#7d3f9f" stroke-width="1.25"/>
<circle cx="192.3" cy="594.9" r="1.75" fill="#fff" fill-opacity="0.3" stroke="#7d3f9f" stroke-width="1.25"/>
<circle cx="196.8" cy="640.9" r="1.75" fill="#fff" fill-opacity="0.3" stroke="#7d3f9f" stroke-width="1.25"/>
<circle cx="201.3" cy="656.5" r="1.75" fill="#fff" fill-opacity="0.3" stroke="#7d3f9f" stroke-width="1.25"/>
<circle cx="205.8" cy="652.9" r="1.75" fill="#fff" fill-opacity="0.3" stroke="#7d3f9f" stroke-width="1.25"/>
<circle cx="210.3" cy="649.7" r="1.75" fill="#fff" fill-opacity="0.3" stroke="#7d3f9f" stroke-width="1.25"/>
<circle cx="214.8" cy="646.7" r="1.75" fill="#fff" fill-opacity="0.3" stroke="#7d3f9f" stroke-width="1.25"/>
<circle cx="219.3" cy="651.0" r="1.75" fill="#fff" fill-opacity="0.3" stroke="#7d3f9f" stroke-width="1.25"/>
<circle cx="223.8" cy="658.0" r="1.75" fill="#fff" fill-opacity="0.3" stroke="#7d3f9f" stroke-width="1.25"/>
<circle cx="228.3" cy="657.7" r="1.75" fill="#fff" fill-opacity="0.3" stroke="#7d3f9f" stroke-width="1.25"/>
<circle cx="232.7" cy="663.2" r="1.75" fill="#fff" fill-opacity="0.3" stroke="#7d3f9f" stroke-width="1.25"/>
<circle cx="237.2" cy="662.9" r="1.75" fill="#fff" fill-opacity="0.3" stroke="#7d3f9f" stroke-width="1.25"/>
<circle cx="241.7" cy="669.0" r="1.75" fill="#fff" fill-opacity="0.3" stroke="#7d3f9f" stroke-width="1.25"/>
<circle cx="246.2" cy="666.8" r="1.75" fill="#fff" fill-opacity="0.3" stroke="#7d3f9f" stroke-width="1.25"/>
<circle cx="250.7" cy="666.1" r="1.75" fill="#fff" fill-opacity="0.3" stroke="#7d3f9f" stroke-width="1.25"/>
<circle cx="255.2" cy="662.9" r="1.75" fill="#fff" fill-opacity="0.3" stroke="#7d3f9f" stroke-width="1.25"/>
<circle cx="259.7" cy="666.8" r="1.75" fill="#fff" fill-opacity="0.3" stroke="#7d3f9f" stroke-width="1.25"/>
<circle cx="264.2" cy="663.4" r="1.75" fill="#fff" fill-opacity="0.3" stroke="#7d3f9f" stroke-width="1.25"/>
<circle cx="268.7" cy="667.8" r="1.75" fill="#fff" fill-opacity="0.3" stroke="#7d3f9f" stroke-width="1.25"/>
<circle cx="273.1" cy="665.3" r="1.75" fill="#fff" fill-opacity="0.3" stroke="#7d3f9f" stroke-width="1.25"/>
<circle cx="277.6" cy="666.5" r="1.75" fill="#fff" fill-opacity="0.3" stroke="#7d3f9f" stroke-width="1.25"/>
<circle cx="282.1" cy="665.3" r="1.75" fill="#fff" fill-opacity="0.3" stroke="#7d3f9f" stroke-width="1.25"/>
<circle cx="286.6" cy="673.0" r="1.75" fill="#fff" fill-opacity="0.3" stroke="#7d3f9f" stroke-width="1.25"/>
<circle cx="291.1" cy="668.0" r="1.75" fill="#fff" fill-opacity="0.3" stroke="#7d3f9f" stroke-width="1.25"/>
<circle cx="295.6" cy="667.8" r="1.75" fill="#fff" fill-opacity="0.3" stroke="#7d3f9f" stroke-width="1.25"/>
<circle cx="300.1" cy="672.7" r="1.75" fill="#fff" fill-opacity="0.3" stroke="#7d3f9f" stroke-width="1.25"/>
<circle cx="304.6" cy="674.1" r="1.75" fill="#fff" fill-opacity="0.3" stroke="#7d3f9f" stroke-width="1.25"/>
<circle cx="309.1" cy="672.7" r="1.75" fill="#fff" fill-opacity="0.3" stroke="#7d3f9f" stroke-width="1.25"/>
<circle cx="313.5" cy="671.5" r="1.75" fill="#fff" fill-opacity="0.3" stroke="#7d3f9f" stroke-width="1.25"/>
<circle cx="318.0" cy="674.9" r="1.75" fill="#fff" fill-opacity="0.3" stroke="#7d3f9f" stroke-width="1.25"/>
<circle cx="322.5" cy="678.1" r="1.75" fill="#fff" fill-opacity="0.3" stroke="#7d3f9f" stroke-width="1.25"/>
<circle cx="327.0" cy="679.2" r="1.75" fill="#fff" fill-opacity="0.3" stroke="#7d3f9f" stroke-width="1.25"/>
<circle cx="331.5" cy="676.3" r="1.75" fill="#fff" fill-opacity="0.3" stroke="#7d3f9f" stroke-width="1.25"/>
<circle cx="44.2" cy="696.5" r="1.75" fill="#149a70"/>
<circle cx="48.7" cy="699.0" r="1.75" fill="#149a70"/>
<circle cx="53.2" cy="695.8" r="1.75" fill="#149a70"/>
<circle cx="57.7" cy="693.1" r="1.75" fill="#149a70"/>
<circle cx="62.2" cy="691.7" r="1.75" fill="#149a70"/>
<circle cx="66.6" cy="697.5" r="1.75" fill="#149a70"/>
<circle cx="71.1" cy="691.7" r="1.75" fill="#149a70"/>
<circle cx="75.6" cy="692.0" r="1.75" fill="#149a70"/>
<circle cx="80.1" cy="693.9" r="1.75" fill="#149a70"/>
<circle cx="84.6" cy="695.3" r="1.75" fill="#149a70"/>
<circle cx="89.1" cy="691.2" r="1.75" fill="#149a70"/>
<circle cx="93.6" cy="691.4" r="1.75" fill="#149a70"/>
<circle cx="98.1" cy="690.6" r="1.75" fill="#149a70"/>
<circle cx="102.6" cy="693.1" r="1.75" fill="#149a70"/>
<circle cx="107.0" cy="692.0" r="1.75" fill="#149a70"/>
<circle cx="111.5" cy="690.6" r="1.75" fill="#149a70"/>
<circle cx="116.0" cy="692.0" r="1.75" fill="#149a70"/>
<circle cx="120.5" cy="690.6" r="1.75" fill="#149a70"/>
<circle cx="125.0" cy="689.5" r="1.75" fill="#149a70"/>
<circle cx="129.5" cy="693.1" r="1.75" fill="#149a70"/>
<circle cx="134.0" cy="689.9" r="1.75" fill="#149a70"/>
<circle cx="138.5" cy="690.2" r="1.75" fill="#149a70"/>
<circle cx="143.0" cy="688.3" r="1.75" fill="#149a70"/>
<circle cx="147.4" cy="693.1" r="1.75" fill="#149a70"/>
<circle cx="151.9" cy="686.3" r="1.75" fill="#149a70"/>
<circle cx="156.4" cy="687.3" r="1.75" fill="#149a70"/>
<circle cx="160.9" cy="683.3" r="1.75" fill="#149a70"/>
<circle cx="165.4" cy="688.5" r="1.75" fill="#149a70"/>
<circle cx="169.9" cy="686.1" r="1.75" fill="#149a70"/>
<circle cx="174.4" cy="687.3" r="1.75" fill="#149a70"/>
<circle cx="178.9" cy="676.0" r="1.75" fill="#149a70"/>
<circle cx="183.4" cy="661.4" r="1.75" fill="#149a70"/>
<circle cx="192.3" cy="661.4" r="1.75" fill="#149a70"/>
<circle cx="196.8" cy="676.0" r="1.75" fill="#149a70"/>
<circle cx="201.3" cy="687.3" r="1.75" fill="#149a70"/>
<circle cx="205.8" cy="686.1" r="1.75" fill="#149a70"/>
<circle cx="210.3" cy="688.5" r="1.75" fill="#149a70"/>
<circle cx="214.8" cy="683.3" r="1.75" fill="#149a70"/>
<circle cx="219.3" cy="687.3" r="1.75" fill="#149a70"/>
<circle cx="223.8" cy="686.3" r="1.75" fill="#149a70"/>
<circle cx="228.3" cy="693.1" r="1.75" fill="#149a70"/>
<circle cx="232.7" cy="688.3" r="1.75" fill="#149a70"/>
<circle cx="237.2" cy="690.2" r="1.75" fill="#149a70"/>
<circle cx="241.7" cy="689.9" r="1.75" fill="#149a70"/>
<circle cx="246.2" cy="693.1" r="1.75" fill="#149a70"/>
<circle cx="250.7" cy="689.5" r="1.75" fill="#149a70"/>
<circle cx="255.2" cy="690.6" r="1.75" fill="#149a70"/>
<circle cx="259.7" cy="692.0" r="1.75" fill="#149a70"/>
<circle cx="264.2" cy="690.6" r="1.75" fill="#149a70"/>
<circle cx="268.7" cy="692.0" r="1.75" fill="#149a70"/>
<circle cx="273.1" cy="693.1" r="1.75" fill="#149a70"/>
<circle cx="277.6" cy="690.6" r="1.75" fill="#149a70"/>
<circle cx="282.1" cy="691.4" r="1.75" fill="#149a70"/>
<circle cx="286.6" cy="691.2" r="1.75" fill="#149a70"/>
<circle cx="291.1" cy="695.3" r="1.75" fill="#149a70"/>
<circle cx="295.6" cy="693.9" r="1.75" fill="#149a70"/>
<circle cx="300.1" cy="692.0" r="1.75" fill="#149a70"/>
<circle cx="304.6" cy="691.7" r="1.75" fill="#149a70"/>
<circle cx="309.1" cy="697.5" r="1.75" fill="#149a70"/>
<circle cx="313.5" cy="691.7" r="1.75" fill="#149a70"/>
<circle cx="318.0" cy="693.1" r="1.75" fill="#149a70"/>
<circle cx="322.5" cy="695.8" r="1.75" fill="#149a70"/>
<circle cx="327.0" cy="699.0" r="1.75" fill="#149a70"/>
<circle cx="331.5" cy="696.5" r="1.75" fill="#149a70"/>
<path d="M42.35 688.79L46.05 692.49M42.35 692.49L46.05 688.79" stroke="#17a9da" stroke-width="1.3" fill="none"/><rect x="43.05" y="689.49" width="2.3" height="2.3" fill="#17a9da"/>
<path d="M46.84 689.85L50.54 693.55M46.84 693.55L50.54 689.85" stroke="#17a9da" stroke-width="1.3" fill="none"/><rect x="47.54" y="690.55" width="2.3" height="2.3" fill="#17a9da"/>
<path d="M51.33 684.71L55.03 688.41M51.33 688.41L55.03 684.71" stroke="#17a9da" stroke-width="1.3" fill="none"/><rect x="52.03" y="685.41" width="2.3" height="2.3" fill="#17a9da"/>
<path d="M55.82 682.94L59.52 686.64M55.82 686.64L59.52 682.94" stroke="#17a9da" stroke-width="1.3" fill="none"/><rect x="56.52" y="683.64" width="2.3" height="2.3" fill="#17a9da"/>
<path d="M60.31 684.71L64.01 688.41M60.31 688.41L64.01 684.71" stroke="#17a9da" stroke-width="1.3" fill="none"/><rect x="61.01" y="685.41" width="2.3" height="2.3" fill="#17a9da"/>
<path d="M64.80 685.72L68.50 689.42M64.80 689.42L68.50 685.72" stroke="#17a9da" stroke-width="1.3" fill="none"/><rect x="65.50" y="686.42" width="2.3" height="2.3" fill="#17a9da"/>
<path d="M69.28 686.60L72.98 690.30M69.28 690.30L72.98 686.60" stroke="#17a9da" stroke-width="1.3" fill="none"/><rect x="69.98" y="687.30" width="2.3" height="2.3" fill="#17a9da"/>
<path d="M73.77 686.18L77.47 689.88M73.77 689.88L77.47 686.18" stroke="#17a9da" stroke-width="1.3" fill="none"/><rect x="74.47" y="686.88" width="2.3" height="2.3" fill="#17a9da"/>
<path d="M78.26 680.04L81.96 683.74M78.26 683.74L81.96 680.04" stroke="#17a9da" stroke-width="1.3" fill="none"/><rect x="78.96" y="680.74" width="2.3" height="2.3" fill="#17a9da"/>
<path d="M82.75 679.28L86.45 682.98M82.75 682.98L86.45 679.28" stroke="#17a9da" stroke-width="1.3" fill="none"/><rect x="83.45" y="679.98" width="2.3" height="2.3" fill="#17a9da"/>
<path d="M87.24 686.60L90.94 690.30M87.24 690.30L90.94 686.60" stroke="#17a9da" stroke-width="1.3" fill="none"/><rect x="87.94" y="687.30" width="2.3" height="2.3" fill="#17a9da"/>
<path d="M91.73 685.43L95.43 689.13M91.73 689.13L95.43 685.43" stroke="#17a9da" stroke-width="1.3" fill="none"/><rect x="92.43" y="686.13" width="2.3" height="2.3" fill="#17a9da"/>
<path d="M96.22 681.76L99.92 685.46M96.22 685.46L99.92 681.76" stroke="#17a9da" stroke-width="1.3" fill="none"/><rect x="96.92" y="682.46" width="2.3" height="2.3" fill="#17a9da"/>
<path d="M100.71 682.23L104.41 685.93M100.71 685.93L104.41 682.23" stroke="#17a9da" stroke-width="1.3" fill="none"/><rect x="101.41" y="682.93" width="2.3" height="2.3" fill="#17a9da"/>
<path d="M105.20 682.94L108.90 686.64M105.20 686.64L108.90 682.94" stroke="#17a9da" stroke-width="1.3" fill="none"/><rect x="105.90" y="683.64" width="2.3" height="2.3" fill="#17a9da"/>
<path d="M109.69 681.34L113.39 685.04M109.69 685.04L113.39 681.34" stroke="#17a9da" stroke-width="1.3" fill="none"/><rect x="110.39" y="682.04" width="2.3" height="2.3" fill="#17a9da"/>
<path d="M114.18 683.24L117.88 686.94M114.18 686.94L117.88 683.24" stroke="#17a9da" stroke-width="1.3" fill="none"/><rect x="114.88" y="683.94" width="2.3" height="2.3" fill="#17a9da"/>
<path d="M118.66 681.76L122.36 685.46M118.66 685.46L122.36 681.76" stroke="#17a9da" stroke-width="1.3" fill="none"/><rect x="119.36" y="682.46" width="2.3" height="2.3" fill="#17a9da"/>
<path d="M123.15 683.70L126.85 687.40M123.15 687.40L126.85 683.70" stroke="#17a9da" stroke-width="1.3" fill="none"/><rect x="123.85" y="684.40" width="2.3" height="2.3" fill="#17a9da"/>
<path d="M127.64 681.76L131.34 685.46M127.64 685.46L131.34 681.76" stroke="#17a9da" stroke-width="1.3" fill="none"/><rect x="128.34" y="682.46" width="2.3" height="2.3" fill="#17a9da"/>
<path d="M132.13 679.57L135.83 683.27M132.13 683.27L135.83 679.57" stroke="#17a9da" stroke-width="1.3" fill="none"/><rect x="132.83" y="680.27" width="2.3" height="2.3" fill="#17a9da"/>
<path d="M136.62 679.28L140.32 682.98M136.62 682.98L140.32 679.28" stroke="#17a9da" stroke-width="1.3" fill="none"/><rect x="137.32" y="679.98" width="2.3" height="2.3" fill="#17a9da"/>
<path d="M141.11 680.63L144.81 684.33M141.11 684.33L144.81 680.63" stroke="#17a9da" stroke-width="1.3" fill="none"/><rect x="141.81" y="681.33" width="2.3" height="2.3" fill="#17a9da"/>
<path d="M145.60 678.39L149.30 682.09M145.60 682.09L149.30 678.39" stroke="#17a9da" stroke-width="1.3" fill="none"/><rect x="146.30" y="679.09" width="2.3" height="2.3" fill="#17a9da"/>
<path d="M150.09 678.39L153.79 682.09M150.09 682.09L153.79 678.39" stroke="#17a9da" stroke-width="1.3" fill="none"/><rect x="150.79" y="679.09" width="2.3" height="2.3" fill="#17a9da"/>
<path d="M154.58 676.96L158.28 680.66M154.58 680.66L158.28 676.96" stroke="#17a9da" stroke-width="1.3" fill="none"/><rect x="155.28" y="677.66" width="2.3" height="2.3" fill="#17a9da"/>
<path d="M159.07 678.56L162.77 682.26M159.07 682.26L162.77 678.56" stroke="#17a9da" stroke-width="1.3" fill="none"/><rect x="159.77" y="679.26" width="2.3" height="2.3" fill="#17a9da"/>
<path d="M163.55 681.76L167.25 685.46M163.55 685.46L167.25 681.76" stroke="#17a9da" stroke-width="1.3" fill="none"/><rect x="164.25" y="682.46" width="2.3" height="2.3" fill="#17a9da"/>
<path d="M168.04 677.09L171.74 680.79M168.04 680.79L171.74 677.09" stroke="#17a9da" stroke-width="1.3" fill="none"/><rect x="168.74" y="677.79" width="2.3" height="2.3" fill="#17a9da"/>
<path d="M172.53 685.13L176.23 688.83M172.53 688.83L176.23 685.13" stroke="#17a9da" stroke-width="1.3" fill="none"/><rect x="173.23" y="685.83" width="2.3" height="2.3" fill="#17a9da"/>
<path d="M177.02 675.62L180.72 679.32M177.02 679.32L180.72 675.62" stroke="#17a9da" stroke-width="1.3" fill="none"/><rect x="177.72" y="676.32" width="2.3" height="2.3" fill="#17a9da"/>
<path d="M181.51 680.04L185.21 683.74M181.51 683.74L185.21 680.04" stroke="#17a9da" stroke-width="1.3" fill="none"/><rect x="182.21" y="680.74" width="2.3" height="2.3" fill="#17a9da"/>
<path d="M186.00 621.05L189.70 624.75M186.00 624.75L189.70 621.05" stroke="#17a9da" stroke-width="1.3" fill="none"/><rect x="186.70" y="621.75" width="2.3" height="2.3" fill="#17a9da"/>
<path d="M190.49 678.39L194.19 682.09M190.49 682.09L194.19 678.39" stroke="#17a9da" stroke-width="1.3" fill="none"/><rect x="191.19" y="679.09" width="2.3" height="2.3" fill="#17a9da"/>
<path d="M194.98 676.67L198.68 680.37M194.98 680.37L198.68 676.67" stroke="#17a9da" stroke-width="1.3" fill="none"/><rect x="195.68" y="677.37" width="2.3" height="2.3" fill="#17a9da"/>
<path d="M199.47 673.30L203.17 677.00M199.47 677.00L203.17 673.30" stroke="#17a9da" stroke-width="1.3" fill="none"/><rect x="200.17" y="674.00" width="2.3" height="2.3" fill="#17a9da"/>
<path d="M203.96 676.37L207.66 680.07M203.96 680.07L207.66 676.37" stroke="#17a9da" stroke-width="1.3" fill="none"/><rect x="204.66" y="677.07" width="2.3" height="2.3" fill="#17a9da"/>
<path d="M208.45 673.30L212.15 677.00M208.45 677.00L212.15 673.30" stroke="#17a9da" stroke-width="1.3" fill="none"/><rect x="209.15" y="674.00" width="2.3" height="2.3" fill="#17a9da"/>
<path d="M212.93 674.18L216.63 677.88M212.93 677.88L216.63 674.18" stroke="#17a9da" stroke-width="1.3" fill="none"/><rect x="213.63" y="674.88" width="2.3" height="2.3" fill="#17a9da"/>
<path d="M217.42 672.84L221.12 676.54M217.42 676.54L221.12 672.84" stroke="#17a9da" stroke-width="1.3" fill="none"/><rect x="218.12" y="673.54" width="2.3" height="2.3" fill="#17a9da"/>
<path d="M221.91 673.55L225.61 677.25M221.91 677.25L225.61 673.55" stroke="#17a9da" stroke-width="1.3" fill="none"/><rect x="222.61" y="674.25" width="2.3" height="2.3" fill="#17a9da"/>
<path d="M226.40 669.26L230.10 672.96M226.40 672.96L230.10 669.26" stroke="#17a9da" stroke-width="1.3" fill="none"/><rect x="227.10" y="669.96" width="2.3" height="2.3" fill="#17a9da"/>
<path d="M230.89 673.30L234.59 677.00M230.89 677.00L234.59 673.30" stroke="#17a9da" stroke-width="1.3" fill="none"/><rect x="231.59" y="674.00" width="2.3" height="2.3" fill="#17a9da"/>
<path d="M235.38 676.37L239.08 680.07M235.38 680.07L239.08 676.37" stroke="#17a9da" stroke-width="1.3" fill="none"/><rect x="236.08" y="677.07" width="2.3" height="2.3" fill="#17a9da"/>
<path d="M239.87 681.34L243.57 685.04M239.87 685.04L243.57 681.34" stroke="#17a9da" stroke-width="1.3" fill="none"/><rect x="240.57" y="682.04" width="2.3" height="2.3" fill="#17a9da"/>
<path d="M244.36 680.33L248.06 684.03M244.36 684.03L248.06 680.33" stroke="#17a9da" stroke-width="1.3" fill="none"/><rect x="245.06" y="681.03" width="2.3" height="2.3" fill="#17a9da"/>
<path d="M248.85 679.57L252.55 683.27M248.85 683.27L252.55 679.57" stroke="#17a9da" stroke-width="1.3" fill="none"/><rect x="249.55" y="680.27" width="2.3" height="2.3" fill="#17a9da"/>
<path d="M253.34 678.56L257.04 682.26M253.34 682.26L257.04 678.56" stroke="#17a9da" stroke-width="1.3" fill="none"/><rect x="254.04" y="679.26" width="2.3" height="2.3" fill="#17a9da"/>
<path d="M257.82 679.87L261.53 683.57M257.82 683.57L261.53 679.87" stroke="#17a9da" stroke-width="1.3" fill="none"/><rect x="258.53" y="680.57" width="2.3" height="2.3" fill="#17a9da"/>
<path d="M262.31 679.28L266.01 682.98M262.31 682.98L266.01 679.28" stroke="#17a9da" stroke-width="1.3" fill="none"/><rect x="263.01" y="679.98" width="2.3" height="2.3" fill="#17a9da"/>
<path d="M266.80 678.39L270.50 682.09M266.80 682.09L270.50 678.39" stroke="#17a9da" stroke-width="1.3" fill="none"/><rect x="267.50" y="679.09" width="2.3" height="2.3" fill="#17a9da"/>
<path d="M271.29 678.56L274.99 682.26M271.29 682.26L274.99 678.56" stroke="#17a9da" stroke-width="1.3" fill="none"/><rect x="271.99" y="679.26" width="2.3" height="2.3" fill="#17a9da"/>
<path d="M275.78 682.52L279.48 686.22M275.78 686.22L279.48 682.52" stroke="#17a9da" stroke-width="1.3" fill="none"/><rect x="276.48" y="683.22" width="2.3" height="2.3" fill="#17a9da"/>
<path d="M280.27 681.05L283.97 684.75M280.27 684.75L283.97 681.05" stroke="#17a9da" stroke-width="1.3" fill="none"/><rect x="280.97" y="681.75" width="2.3" height="2.3" fill="#17a9da"/>
<path d="M284.76 686.18L288.46 689.88M284.76 689.88L288.46 686.18" stroke="#17a9da" stroke-width="1.3" fill="none"/><rect x="285.46" y="686.88" width="2.3" height="2.3" fill="#17a9da"/>
<path d="M289.25 684.71L292.95 688.41M289.25 688.41L292.95 684.71" stroke="#17a9da" stroke-width="1.3" fill="none"/><rect x="289.95" y="685.41" width="2.3" height="2.3" fill="#17a9da"/>
<path d="M293.74 682.52L297.44 686.22M293.74 686.22L297.44 682.52" stroke="#17a9da" stroke-width="1.3" fill="none"/><rect x="294.44" y="683.22" width="2.3" height="2.3" fill="#17a9da"/>
<path d="M298.23 684.25L301.93 687.95M298.23 687.95L301.93 684.25" stroke="#17a9da" stroke-width="1.3" fill="none"/><rect x="298.93" y="684.95" width="2.3" height="2.3" fill="#17a9da"/>
<path d="M302.72 682.82L306.42 686.52M302.72 686.52L306.42 682.82" stroke="#17a9da" stroke-width="1.3" fill="none"/><rect x="303.42" y="683.52" width="2.3" height="2.3" fill="#17a9da"/>
<path d="M307.20 685.43L310.90 689.13M307.20 689.13L310.90 685.43" stroke="#17a9da" stroke-width="1.3" fill="none"/><rect x="307.90" y="686.13" width="2.3" height="2.3" fill="#17a9da"/>
<path d="M311.69 685.00L315.39 688.70M311.69 688.70L315.39 685.00" stroke="#17a9da" stroke-width="1.3" fill="none"/><rect x="312.39" y="685.70" width="2.3" height="2.3" fill="#17a9da"/>
<path d="M316.18 683.53L319.88 687.23M316.18 687.23L319.88 683.53" stroke="#17a9da" stroke-width="1.3" fill="none"/><rect x="316.88" y="684.23" width="2.3" height="2.3" fill="#17a9da"/>
<path d="M320.67 681.76L324.37 685.46M320.67 685.46L324.37 681.76" stroke="#17a9da" stroke-width="1.3" fill="none"/><rect x="321.37" y="682.46" width="2.3" height="2.3" fill="#17a9da"/>
<path d="M325.16 679.57L328.86 683.27M325.16 683.27L328.86 679.57" stroke="#17a9da" stroke-width="1.3" fill="none"/><rect x="325.86" y="680.27" width="2.3" height="2.3" fill="#17a9da"/>
<path d="M329.65 677.38L333.35 681.08M329.65 681.08L333.35 677.38" stroke="#17a9da" stroke-width="1.3" fill="none"/><rect x="330.35" y="678.08" width="2.3" height="2.3" fill="#17a9da"/>
<path d="M44.2 701.0h5M44.2 658.9h5M44.2 616.8h5M44.2 574.7h5M80.1 743.1v-5M116.0 743.1v-5M151.9 743.1v-5M187.9 743.1v-5M223.8 743.1v-5M259.7 743.1v-5M295.6 743.1v-5" stroke="#222" stroke-width="0.85" fill="none"/>
<rect x="44.2" y="532.6" width="287.3" height="210.5" fill="none" stroke="#222" stroke-width="0.9"/>
<text class="t" x="39.2" y="746.9" text-anchor="end">0</text>
<text class="t" x="39.2" y="704.8" text-anchor="end">0.1</text>
<text class="t" x="39.2" y="662.7" text-anchor="end">0.2</text>
<text class="t" x="39.2" y="620.6" text-anchor="end">0.3</text>
<text class="t" x="39.2" y="578.5" text-anchor="end">0.4</text>
<text class="t" x="39.2" y="536.4" text-anchor="end">0.5</text>
<text class="t" x="44.2" y="759.2" text-anchor="middle">–<tspan dx="0.6">2.0</tspan></text>
<text class="t" x="80.1" y="759.2" text-anchor="middle">–<tspan dx="0.6">1.5</tspan></text>
<text class="t" x="116.0" y="759.2" text-anchor="middle">–<tspan dx="0.6">1.0</tspan></text>
<text class="t" x="151.9" y="759.2" text-anchor="middle">–<tspan dx="0.6">0.5</tspan></text>
<text class="t" x="187.9" y="759.2" text-anchor="middle">0</text>
<text class="t" x="223.8" y="759.2" text-anchor="middle">0.5</text>
<text class="t" x="259.7" y="759.2" text-anchor="middle">1.0</text>
<text class="t" x="295.6" y="759.2" text-anchor="middle">1.5</text>
<text class="t" x="331.5" y="759.2" text-anchor="middle">2.0</text>
<text class="a" x="188.0" y="777.4" text-anchor="middle">Frequency lag, kHz</text>
<text class="a" transform="translate(12.9 638.5) rotate(-90)" text-anchor="middle">Correlation coefficient</text>
<text class="l" x="282.5" y="545.1" text-anchor="end">Pulse 110 ACF-1</text>
<path d="M287.9 541.6H318.2" stroke="#7d3f9f" stroke-width="0.85" fill="none"/>
<circle cx="303.0" cy="541.6" r="1.75" fill="#fff" fill-opacity="0.3" stroke="#7d3f9f" stroke-width="1.25"/>
<text class="l" x="282.5" y="556.2" text-anchor="end">Pulse 110 ACF-2</text>
<path d="M287.9 552.8H318.2" stroke="#149a70" stroke-width="0.85" fill="none"/>
<circle cx="303.0" cy="552.8" r="1.75" fill="#149a70"/>
<text class="l" x="282.5" y="567.4" text-anchor="end">Pulse 110 CCF</text>
<path d="M287.9 563.9H318.2" stroke="#17a9da" stroke-width="0.85" fill="none"/>
<path d="M301.20 562.05L304.90 565.75M301.20 565.75L304.90 562.05" stroke="#17a9da" stroke-width="1.3" fill="none"/><rect x="301.90" y="562.75" width="2.3" height="2.3" fill="#17a9da"/>
<g clip-path="url(#cr2)">
<path d="M390.7 732.7L391.0 732.6L391.3 733.4L391.6 731.6L391.9 731.4L392.2 731.8L392.5 734.4L392.8 731.5L393.1 730.3L393.4 729.4L393.7 732.9L394.0 730.8L394.3 731.2L394.6 730.8L394.9 732.2L395.2 731.4L395.5 729.1L395.8 733.1L396.1 733.0L396.4 732.8L396.7 730.8L397.0 731.5L397.3 732.6L397.6 732.8L397.9 733.0L398.2 732.1L398.5 732.9L398.8 732.9L399.1 731.5L399.4 731.2L399.7 730.6L400.0 731.6L400.3 730.6L400.6 730.3L400.9 731.3L401.2 730.4L401.5 728.4L401.8 730.0L402.1 729.5L402.4 729.8L402.7 732.4L403.0 733.4L403.3 732.0L403.6 732.6L403.9 731.3L404.2 730.0L404.5 731.3L404.8 733.0L405.1 732.0L405.4 732.2L405.7 734.2L406.0 734.8L406.3 732.6L406.6 733.9L406.9 736.0L407.2 735.7L407.5 736.2L407.8 736.8L408.1 733.6L408.4 731.5L408.7 729.6L409.0 728.8L409.3 730.3L409.6 729.4L409.9 729.9L410.2 731.6L410.5 730.4L410.8 733.2L411.1 733.3L411.4 733.0L411.7 731.6L412.0 734.4L412.3 732.9L412.6 732.3L412.9 731.4L413.2 730.5L413.5 730.6L413.8 731.3L414.1 730.8L414.4 731.7L414.6 732.9L414.9 733.0L415.2 731.6L415.5 733.1L415.8 732.7L416.1 733.5L416.4 735.4L416.7 735.1L417.0 738.7L417.3 738.9L417.6 735.3L417.9 733.7L418.2 735.0L418.5 734.3L418.8 736.5L419.1 736.2L419.4 737.1L419.7 736.8L420.0 734.8L420.3 737.3L420.6 738.1L420.9 737.1L421.2 737.5L421.5 736.9L421.8 739.0L422.1 737.0L422.4 738.3L422.7 736.9L423.0 736.7L423.3 738.3L423.6 739.8L423.9 741.1L424.2 739.2L424.5 739.9L424.8 741.0L425.1 739.0L425.4 738.1L425.7 740.4L426.0 738.6L426.3 740.8L426.6 741.0L426.9 740.6L427.2 737.4L427.5 738.7L427.8 740.8L428.1 740.9L428.4 739.9L428.7 739.2L429.0 736.3L429.3 735.3L429.6 738.2L429.9 738.2L430.2 737.6L430.5 735.5L430.8 736.7L431.1 732.0L431.4 732.4L431.7 733.6L432.0 734.7L432.3 734.6L432.6 734.4L432.9 732.1L433.2 734.0L433.5 735.4L433.8 735.8L434.1 735.2L434.4 735.3L434.7 733.8L435.0 735.3L435.3 734.3L435.6 735.8L435.9 734.9L436.2 733.2L436.5 732.5L436.8 733.8L437.1 735.7L437.4 734.2L437.7 733.4L438.0 734.0L438.3 732.9L438.6 731.5L438.9 729.5L439.2 731.3L439.5 734.4L439.8 734.0L440.1 733.4L440.4 734.6L440.7 733.7L441.0 732.6L441.3 733.3L441.6 733.5L441.9 732.3L442.2 732.5L442.5 734.8L442.8 730.6L443.1 730.2L443.4 732.1L443.7 731.6L444.0 730.7L444.3 731.2L444.6 731.2L444.9 730.0L445.2 732.0L445.5 733.3L445.8 733.3L446.1 734.9L446.4 734.6L446.7 733.4L447.0 736.2L447.3 734.2L447.6 734.8L447.9 733.9L448.2 731.5L448.5 729.9L448.8 733.5L449.1 733.0L449.4 731.3L449.7 730.4L450.0 731.0L450.3 732.8L450.6 732.2L450.9 730.8L451.2 732.2L451.5 729.5L451.8 729.3L452.1 728.2L452.4 726.7L452.7 729.6L453.0 729.5L453.3 729.0L453.6 730.9L453.9 731.5L454.2 729.0L454.5 730.8L454.8 730.8L455.1 729.5L455.4 731.1L455.7 728.2L456.0 729.9L456.3 731.0L456.6 731.0L456.9 728.7L457.2 727.7L457.5 725.1L457.8 728.1L458.1 728.5L458.4 729.1L458.7 728.0L459.0 728.9L459.3 727.0L459.6 729.9L459.9 729.9L460.2 726.4L460.5 727.3L460.8 728.0L461.1 729.0L461.4 731.1L461.7 725.6L462.0 724.3L462.3 724.0L462.6 726.2L462.8 725.9L463.1 724.1L463.4 725.2L463.7 726.6L464.0 728.6L464.3 726.8L464.6 724.6L464.9 724.7L465.2 723.0L465.5 722.5L465.8 725.5L466.1 724.8L466.4 722.9L466.7 723.0L467.0 722.2L467.3 720.7L467.6 723.0L467.9 722.5L468.2 721.9L468.5 722.0L468.8 721.1L469.1 722.6L469.4 722.5L469.7 720.7L470.0 719.8L470.3 719.0L470.6 719.8L470.9 718.4L471.2 721.1L471.5 723.2L471.8 722.8L472.1 720.6L472.4 720.4L472.7 721.4L473.0 723.4L473.3 723.0L473.6 721.8L473.9 719.6L474.2 719.2L474.5 720.5L474.8 721.0L475.1 719.7L475.4 720.4L475.7 718.7L476.0 720.6L476.3 720.4L476.6 723.4L476.9 722.1L477.2 719.6L477.5 717.1L477.8 718.4L478.1 717.6L478.4 718.9L478.7 718.7L479.0 718.2L479.3 718.4L479.6 716.6L479.9 716.6L480.2 717.0L480.5 721.0L480.8 717.6L481.1 714.3L481.4 715.1L481.7 717.6L482.0 716.5L482.3 716.4L482.6 717.6L482.9 718.2L483.2 716.9L483.5 715.8L483.8 713.8L484.1 714.7L484.4 718.5L484.7 716.8L485.0 718.1L485.3 717.9L485.6 719.3L485.9 716.4L486.2 713.8L486.5 714.7L486.8 717.8L487.1 715.6L487.4 711.9L487.7 712.4L488.0 711.8L488.3 713.8L488.6 712.1L488.9 712.4L489.2 712.1L489.5 715.7L489.8 715.8L490.1 712.5L490.4 708.8L490.7 711.1L491.0 710.9L491.3 713.5L491.6 714.3L491.9 715.4L492.2 716.1L492.5 715.7L492.8 712.0L493.1 713.0L493.4 713.7L493.7 713.4L494.0 711.9L494.3 711.2L494.6 711.9L494.9 711.6L495.2 708.8L495.5 708.5L495.8 709.7L496.1 712.2L496.4 710.3L496.7 709.9L497.0 709.1L497.3 707.1L497.6 707.9L497.9 706.7L498.2 708.2L498.5 707.7L498.8 708.2L499.1 706.0L499.4 705.8L499.7 706.3L500.0 704.9L500.3 704.8L500.6 704.5L500.9 704.9L501.2 705.6L501.5 704.5L501.8 705.9L502.1 704.6L502.4 702.9L502.7 702.8L503.0 702.7L503.3 702.2L503.6 702.5L503.9 703.0L504.2 703.8L504.5 705.3L504.8 703.5L505.1 699.1L505.4 699.0L505.7 698.9L506.0 700.4L506.3 701.4L506.6 699.8L506.9 698.4L507.2 698.5L507.5 696.8L507.8 698.5L508.1 698.5L508.4 695.6L508.7 696.6L509.0 698.0L509.3 698.3L509.6 695.8L509.9 693.1L510.2 693.3L510.4 696.3L510.7 696.8L511.0 695.8L511.3 692.0L511.6 693.4L511.9 695.0L512.2 693.5L512.5 690.1L512.8 691.3L513.1 691.0L513.4 692.9L513.7 692.1L514.0 691.9L514.3 691.9L514.6 693.4L514.9 691.6L515.2 690.6L515.5 686.2L515.8 684.4L516.1 686.2L516.4 684.2L516.7 682.1L517.0 684.7L517.3 683.4L517.6 683.9L517.9 684.0L518.2 683.4L518.5 684.2L518.8 683.8L519.1 681.0L519.4 681.7L519.7 683.1L520.0 678.5L520.3 680.0L520.6 677.7L520.9 679.5L521.2 679.9L521.5 676.7L521.8 677.5L522.1 678.3L522.4 677.4L522.7 675.2L523.0 678.7L523.3 678.1L523.6 675.1L523.9 671.0L524.2 670.8L524.5 672.1L524.8 676.3L525.1 679.2L525.4 678.1L525.7 674.9L526.0 671.5L526.3 672.7L526.6 674.1L526.9 672.7L527.2 667.8L527.5 668.0L527.8 673.0L528.1 665.3L528.4 666.5L528.7 665.3L529.0 667.8L529.3 663.4L529.6 666.8L529.9 662.9L530.2 666.1L530.5 666.8L530.8 669.0L531.1 662.9L531.4 663.2L531.7 657.7L532.0 658.0L532.3 651.0L532.6 646.7L532.9 649.7L533.2 652.9L533.5 656.5L533.8 640.9L534.1 594.9L534.4 574.7L534.7 594.9L535.0 640.9L535.3 656.5L535.6 652.9L535.9 649.7L536.2 646.7L536.5 651.0L536.8 658.0L537.1 657.7L537.4 663.2L537.7 662.9L538.0 669.0L538.3 666.8L538.6 666.1L538.9 662.9L539.2 666.8L539.5 663.4L539.8 667.8L540.1 665.3L540.4 666.5L540.7 665.3L541.0 673.0L541.3 668.0L541.6 667.8L541.9 672.7L542.2 674.1L542.5 672.7L542.8 671.5L543.1 674.9L543.4 678.1L543.7 679.2L544.0 676.3L544.3 672.1L544.6 670.8L544.9 671.0L545.2 675.1L545.5 678.1L545.8 678.7L546.1 675.2L546.4 677.4L546.7 678.3L547.0 677.5L547.3 676.7L547.6 679.9L547.9 679.5L548.2 677.7L548.5 680.0L548.8 678.5L549.1 683.1L549.4 681.7L549.7 681.0L550.0 683.8L550.3 684.2L550.6 683.4L550.9 684.0L551.2 683.9L551.5 683.4L551.8 684.7L552.1 682.1L552.4 684.2L552.7 686.2L553.0 684.4L553.3 686.2L553.6 690.6L553.9 691.6L554.2 693.4L554.5 691.9L554.8 691.9L555.1 692.1L555.4 692.9L555.7 691.0L556.0 691.3L556.3 690.1L556.6 693.5L556.9 695.0L557.2 693.4L557.5 692.0L557.8 695.8L558.1 696.8L558.4 696.3L558.6 693.3L558.9 693.1L559.2 695.8L559.5 698.3L559.8 698.0L560.1 696.6L560.4 695.6L560.7 698.5L561.0 698.5L561.3 696.8L561.6 698.5L561.9 698.4L562.2 699.8L562.5 701.4L562.8 700.4L563.1 698.9L563.4 699.0L563.7 699.1L564.0 703.5L564.3 705.3L564.6 703.8L564.9 703.0L565.2 702.5L565.5 702.2L565.8 702.7L566.1 702.8L566.4 702.9L566.7 704.6L567.0 705.9L567.3 704.5L567.6 705.6L567.9 704.9L568.2 704.5L568.5 704.8L568.8 704.9L569.1 706.3L569.4 705.8L569.7 706.0L570.0 708.2L570.3 707.7L570.6 708.2L570.9 706.7L571.2 707.9L571.5 707.1L571.8 709.1L572.1 709.9L572.4 710.3L572.7 712.2L573.0 709.7L573.3 708.5L573.6 708.8L573.9 711.6L574.2 711.9L574.5 711.2L574.8 711.9L575.1 713.4L575.4 713.7L575.7 713.0L576.0 712.0L576.3 715.7L576.6 716.1L576.9 715.4L577.2 714.3L577.5 713.5L577.8 710.9L578.1 711.1L578.4 708.8L578.7 712.5L579.0 715.8L579.3 715.7L579.6 712.1L579.9 712.4L580.2 712.1L580.5 713.8L580.8 711.8L581.1 712.4L581.4 711.9L581.7 715.6L582.0 717.8L582.3 714.7L582.6 713.8L582.9 716.4L583.2 719.3L583.5 717.9L583.8 718.1L584.1 716.8L584.4 718.5L584.7 714.7L585.0 713.8L585.3 715.8L585.6 716.9L585.9 718.2L586.2 717.6L586.5 716.4L586.8 716.5L587.1 717.6L587.4 715.1L587.7 714.3L588.0 717.6L588.3 721.0L588.6 717.0L588.9 716.6L589.2 716.6L589.5 718.4L589.8 718.2L590.1 718.7L590.4 718.9L590.7 717.6L591.0 718.4L591.3 717.1L591.6 719.6L591.9 722.1L592.2 723.4L592.5 720.4L592.8 720.6L593.1 718.7L593.4 720.4L593.7 719.7L594.0 721.0L594.3 720.5L594.6 719.2L594.9 719.6L595.2 721.8L595.5 723.0L595.8 723.4L596.1 721.4L596.4 720.4L596.7 720.6L597.0 722.8L597.3 723.2L597.6 721.1L597.9 718.4L598.2 719.8L598.5 719.0L598.8 719.8L599.1 720.7L599.4 722.5L599.7 722.6L600.0 721.1L600.3 722.0L600.6 721.9L600.9 722.5L601.2 723.0L601.5 720.7L601.8 722.2L602.1 723.0L602.4 722.9L602.7 724.8L603.0 725.5L603.3 722.5L603.6 723.0L603.9 724.7L604.2 724.6L604.5 726.8L604.8 728.6L605.1 726.6L605.4 725.2L605.7 724.1L606.0 725.9L606.2 726.2L606.5 724.0L606.8 724.3L607.1 725.6L607.4 731.1L607.7 729.0L608.0 728.0L608.3 727.3L608.6 726.4L608.9 729.9L609.2 729.9L609.5 727.0L609.8 728.9L610.1 728.0L610.4 729.1L610.7 728.5L611.0 728.1L611.3 725.1L611.6 727.7L611.9 728.7L612.2 731.0L612.5 731.0L612.8 729.9L613.1 728.2L613.4 731.1L613.7 729.5L614.0 730.8L614.3 730.8L614.6 729.0L614.9 731.5L615.2 730.9L615.5 729.0L615.8 729.5L616.1 729.6L616.4 726.7L616.7 728.2L617.0 729.3L617.3 729.5L617.6 732.2L617.9 730.8L618.2 732.2L618.5 732.8L618.8 731.0L619.1 730.4L619.4 731.3L619.7 733.0L620.0 733.5L620.3 729.9L620.6 731.5L620.9 733.9L621.2 734.8L621.5 734.2L621.8 736.2L622.1 733.4L622.4 734.6L622.7 734.9L623.0 733.3L623.3 733.3L623.6 732.0L623.9 730.0L624.2 731.2L624.5 731.2L624.8 730.7L625.1 731.6L625.4 732.1L625.7 730.2L626.0 730.6L626.3 734.8L626.6 732.5L626.9 732.3L627.2 733.5L627.5 733.3L627.8 732.6L628.1 733.7L628.4 734.6L628.7 733.4L629.0 734.0L629.3 734.4L629.6 731.3L629.9 729.5L630.2 731.5L630.5 732.9L630.8 734.0L631.1 733.4L631.4 734.2L631.7 735.7L632.0 733.8L632.3 732.5L632.6 733.2L632.9 734.9L633.2 735.8L633.5 734.3L633.8 735.3L634.1 733.8L634.4 735.3L634.7 735.2L635.0 735.8L635.3 735.4L635.6 734.0L635.9 732.1L636.2 734.4L636.5 734.6L636.8 734.7L637.1 733.6L637.4 732.4L637.7 732.0L638.0 736.7L638.3 735.5L638.6 737.6L638.9 738.2L639.2 738.2L639.5 735.3L639.8 736.3L640.1 739.2L640.4 739.9L640.7 740.9L641.0 740.8L641.3 738.7L641.6 737.4L641.9 740.6L642.2 741.0L642.5 740.8L642.8 738.6L643.1 740.4L643.4 738.1L643.7 739.0L644.0 741.0L644.3 739.9L644.6 739.2L644.9 741.1L645.2 739.8L645.5 738.3L645.8 736.7L646.1 736.9L646.4 738.3L646.7 737.0L647.0 739.0L647.3 736.9L647.6 737.5L647.9 737.1L648.2 738.1L648.5 737.3L648.8 734.8L649.1 736.8L649.4 737.1L649.7 736.2L650.0 736.5L650.3 734.3L650.6 735.0L650.9 733.7L651.2 735.3L651.5 738.9L651.8 738.7L652.1 735.1L652.4 735.4L652.7 733.5L653.0 732.7L653.3 733.1L653.6 731.6L653.9 733.0L654.2 732.9L654.4 731.7L654.7 730.8L655.0 731.3L655.3 730.6L655.6 730.5L655.9 731.4L656.2 732.3L656.5 732.9L656.8 734.4L657.1 731.6L657.4 733.0L657.7 733.3L658.0 733.2L658.3 730.4L658.6 731.6L658.9 729.9L659.2 729.4L659.5 730.3L659.8 728.8L660.1 729.6L660.4 731.5L660.7 733.6L661.0 736.8L661.3 736.2L661.6 735.7L661.9 736.0L662.2 733.9L662.5 732.6L662.8 734.8L663.1 734.2L663.4 732.2L663.7 732.0L664.0 733.0L664.3 731.3L664.6 730.0L664.9 731.3L665.2 732.6L665.5 732.0L665.8 733.4L666.1 732.4L666.4 729.8L666.7 729.5L667.0 730.0L667.3 728.4L667.6 730.4L667.9 731.3L668.2 730.3L668.5 730.6L668.8 731.6L669.1 730.6L669.4 731.2L669.7 731.5L670.0 732.9L670.3 732.9L670.6 732.1L670.9 733.0L671.2 732.8L671.5 732.6L671.8 731.5L672.1 730.8L672.4 732.8L672.7 733.0L673.0 733.1L673.3 729.1L673.6 731.4L673.9 732.2L674.2 730.8L674.5 731.2L674.8 730.8L675.1 732.9L675.4 729.4L675.7 730.3L676.0 731.5L676.3 734.4L676.6 731.8L676.9 731.4L677.2 731.6L677.5 733.4L677.8 732.6L678.1 732.7" stroke="#7d3f9f" stroke-width="1.05" fill="none" stroke-linejoin="round"/>
<path d="M390.7 734.9L391.0 733.7L391.3 732.7L391.6 732.0L391.9 735.3L392.2 737.1L392.5 736.8L392.8 732.6L393.1 734.4L393.4 733.2L393.7 733.2L394.0 735.2L394.3 736.0L394.6 731.3L394.9 731.7L395.2 730.7L395.5 733.4L395.8 734.2L396.1 736.3L396.4 735.1L396.7 732.2L397.0 733.3L397.3 735.8L397.6 734.3L397.9 731.7L398.2 729.7L398.5 732.0L398.8 729.7L399.1 728.8L399.4 730.2L399.7 732.5L400.0 735.3L400.3 737.8L400.6 735.6L400.9 733.0L401.2 728.4L401.5 729.4L401.8 732.9L402.1 736.0L402.4 734.5L402.7 733.9L403.0 733.2L403.3 730.3L403.6 731.7L403.9 731.8L404.2 732.4L404.5 732.0L404.8 730.4L405.1 732.7L405.4 732.1L405.7 733.0L406.0 732.6L406.3 732.9L406.6 733.3L406.9 732.8L407.2 731.9L407.5 733.4L407.8 736.3L408.1 735.9L408.4 734.5L408.7 733.8L409.0 733.0L409.3 733.8L409.6 733.1L409.9 732.9L410.2 733.8L410.5 734.3L410.8 736.4L411.1 736.8L411.4 737.9L411.7 734.3L412.0 735.0L412.3 737.1L412.6 737.5L412.9 735.7L413.2 738.0L413.5 737.0L413.8 736.7L414.1 736.1L414.4 736.1L414.6 733.5L414.9 735.7L415.2 734.4L415.5 732.7L415.8 734.2L416.1 734.2L416.4 733.8L416.7 734.1L417.0 733.8L417.3 730.5L417.6 733.4L417.9 734.1L418.2 733.0L418.5 736.1L418.8 735.4L419.1 734.8L419.4 737.3L419.7 736.1L420.0 733.7L420.3 734.0L420.6 734.0L420.9 736.1L421.2 735.1L421.5 732.5L421.8 732.5L422.1 729.4L422.4 732.3L422.7 733.1L423.0 730.7L423.3 733.1L423.6 733.3L423.9 735.5L424.2 732.3L424.5 729.7L424.8 731.1L425.1 737.0L425.4 737.3L425.7 735.8L426.0 734.2L426.3 735.9L426.6 739.2L426.9 738.1L427.2 739.2L427.5 736.4L427.8 733.1L428.1 729.7L428.4 730.2L428.7 728.8L429.0 729.6L429.3 733.1L429.6 732.2L429.9 733.3L430.2 732.6L430.5 731.8L430.8 730.7L431.1 731.2L431.4 732.4L431.7 732.0L432.0 731.0L432.3 730.0L432.6 730.1L432.9 729.8L433.2 732.2L433.5 733.9L433.8 735.0L434.1 733.2L434.4 732.4L434.7 732.7L435.0 733.4L435.3 736.8L435.6 736.2L435.9 734.7L436.2 734.8L436.5 734.9L436.8 732.1L437.1 734.1L437.4 732.3L437.7 732.9L438.0 732.6L438.3 733.2L438.6 735.1L438.9 734.9L439.2 735.5L439.5 732.2L439.8 732.0L440.1 734.1L440.4 734.8L440.7 736.1L441.0 735.7L441.3 733.5L441.6 731.5L441.9 733.5L442.2 733.0L442.5 736.6L442.8 735.6L443.1 734.6L443.4 731.9L443.7 732.5L444.0 734.8L444.3 735.3L444.6 734.1L444.9 736.3L445.2 734.9L445.5 734.3L445.8 731.8L446.1 730.8L446.4 732.3L446.7 731.8L447.0 734.4L447.3 731.0L447.6 729.9L447.9 730.9L448.2 733.6L448.5 732.7L448.8 732.6L449.1 733.9L449.4 735.5L449.7 733.0L450.0 734.5L450.3 734.5L450.6 734.5L450.9 735.0L451.2 736.0L451.5 738.5L451.8 739.2L452.1 738.1L452.4 735.4L452.7 736.2L453.0 736.7L453.3 734.8L453.6 737.1L453.9 737.4L454.2 734.4L454.5 733.6L454.8 736.6L455.1 738.5L455.4 736.1L455.7 735.4L456.0 736.9L456.3 733.4L456.6 733.4L456.9 734.3L457.2 735.2L457.5 735.1L457.8 734.2L458.1 735.5L458.4 735.8L458.7 734.9L459.0 733.6L459.3 735.0L459.6 733.3L459.9 735.3L460.2 734.7L460.5 734.8L460.8 734.4L461.1 734.9L461.4 735.0L461.7 733.2L462.0 734.3L462.3 733.3L462.6 733.6L462.8 733.2L463.1 732.8L463.4 733.9L463.7 734.1L464.0 733.7L464.3 734.4L464.6 735.3L464.9 733.1L465.2 735.0L465.5 736.5L465.8 733.8L466.1 732.8L466.4 734.3L466.7 733.8L467.0 733.1L467.3 734.5L467.6 736.6L467.9 737.6L468.2 734.7L468.5 732.2L468.8 734.4L469.1 736.1L469.4 734.7L469.7 734.7L470.0 730.6L470.3 730.5L470.6 733.1L470.9 734.3L471.2 733.3L471.5 732.2L471.8 732.4L472.1 730.5L472.4 728.3L472.7 729.3L473.0 729.7L473.3 731.0L473.6 728.5L473.9 730.3L474.2 732.0L474.5 731.8L474.8 729.9L475.1 728.3L475.4 729.3L475.7 729.6L476.0 730.0L476.3 732.3L476.6 730.7L476.9 731.1L477.2 733.2L477.5 731.7L477.8 729.8L478.1 729.8L478.4 727.3L478.7 727.2L479.0 726.6L479.3 725.8L479.6 730.2L479.9 730.4L480.2 729.6L480.5 728.9L480.8 729.0L481.1 728.8L481.4 729.5L481.7 731.3L482.0 729.6L482.3 726.8L482.6 728.4L482.9 726.9L483.2 725.6L483.5 726.9L483.8 725.3L484.1 724.4L484.4 725.5L484.7 726.0L485.0 725.5L485.3 728.4L485.6 727.8L485.9 727.1L486.2 726.1L486.5 725.8L486.8 724.8L487.1 722.9L487.4 724.3L487.7 723.4L488.0 722.5L488.3 724.2L488.6 725.4L488.9 726.2L489.2 723.8L489.5 720.7L489.8 722.2L490.1 725.3L490.4 725.4L490.7 720.0L491.0 720.7L491.3 723.5L491.6 722.2L491.9 724.4L492.2 726.1L492.5 723.7L492.8 721.4L493.1 720.1L493.4 720.2L493.7 721.0L494.0 723.7L494.3 720.1L494.6 719.7L494.9 720.0L495.2 721.4L495.5 720.5L495.8 720.2L496.1 721.3L496.4 721.6L496.7 722.1L497.0 720.8L497.3 716.8L497.6 717.0L497.9 719.6L498.2 717.9L498.5 716.9L498.8 717.3L499.1 719.3L499.4 719.8L499.7 721.0L500.0 717.2L500.3 718.0L500.6 718.0L500.9 716.4L501.2 716.9L501.5 719.1L501.8 718.5L502.1 718.9L502.4 717.8L502.7 713.2L503.0 711.3L503.3 714.8L503.6 715.4L503.9 712.0L504.2 711.0L504.5 711.6L504.8 716.0L505.1 715.0L505.4 710.3L505.7 709.8L506.0 711.7L506.3 711.3L506.6 709.7L506.9 708.6L507.2 708.7L507.5 709.3L507.8 706.5L508.1 710.0L508.4 710.5L508.7 709.6L509.0 708.9L509.3 710.0L509.6 708.7L509.9 705.6L510.2 704.3L510.4 703.4L510.7 706.2L511.0 708.6L511.3 707.0L511.6 705.5L511.9 707.9L512.2 709.5L512.5 707.2L512.8 703.8L513.1 705.2L513.4 706.3L513.7 707.2L514.0 704.8L514.3 703.0L514.6 701.2L514.9 700.0L515.2 701.8L515.5 704.8L515.8 705.8L516.1 704.2L516.4 702.0L516.7 699.8L517.0 699.5L517.3 696.9L517.6 697.4L517.9 699.3L518.2 700.8L518.5 701.4L518.8 699.9L519.1 698.3L519.4 699.6L519.7 702.2L520.0 699.1L520.3 696.1L520.6 695.3L520.9 697.8L521.2 698.3L521.5 695.2L521.8 695.4L522.1 694.4L522.4 696.6L522.7 695.6L523.0 695.4L523.3 691.4L523.6 695.8L523.9 695.2L524.2 694.2L524.5 695.5L524.8 696.5L525.1 699.0L525.4 695.8L525.7 693.1L526.0 691.7L526.3 697.5L526.6 691.7L526.9 692.0L527.2 693.9L527.5 695.3L527.8 691.2L528.1 691.4L528.4 690.6L528.7 693.1L529.0 692.0L529.3 690.6L529.6 692.0L529.9 690.6L530.2 689.5L530.5 693.1L530.8 689.9L531.1 690.2L531.4 688.3L531.7 693.1L532.0 686.3L532.3 687.3L532.6 683.3L532.9 688.5L533.2 686.1L533.5 687.3L533.8 676.0L534.1 661.4L534.4 322.1L534.7 661.4L535.0 676.0L535.3 687.3L535.6 686.1L535.9 688.5L536.2 683.3L536.5 687.3L536.8 686.3L537.1 693.1L537.4 688.3L537.7 690.2L538.0 689.9L538.3 693.1L538.6 689.5L538.9 690.6L539.2 692.0L539.5 690.6L539.8 692.0L540.1 693.1L540.4 690.6L540.7 691.4L541.0 691.2L541.3 695.3L541.6 693.9L541.9 692.0L542.2 691.7L542.5 697.5L542.8 691.7L543.1 693.1L543.4 695.8L543.7 699.0L544.0 696.5L544.3 695.5L544.6 694.2L544.9 695.2L545.2 695.8L545.5 691.4L545.8 695.4L546.1 695.6L546.4 696.6L546.7 694.4L547.0 695.4L547.3 695.2L547.6 698.3L547.9 697.8L548.2 695.3L548.5 696.1L548.8 699.1L549.1 702.2L549.4 699.6L549.7 698.3L550.0 699.9L550.3 701.4L550.6 700.8L550.9 699.3L551.2 697.4L551.5 696.9L551.8 699.5L552.1 699.8L552.4 702.0L552.7 704.2L553.0 705.8L553.3 704.8L553.6 701.8L553.9 700.0L554.2 701.2L554.5 703.0L554.8 704.8L555.1 707.2L555.4 706.3L555.7 705.2L556.0 703.8L556.3 707.2L556.6 709.5L556.9 707.9L557.2 705.5L557.5 707.0L557.8 708.6L558.1 706.2L558.4 703.4L558.6 704.3L558.9 705.6L559.2 708.7L559.5 710.0L559.8 708.9L560.1 709.6L560.4 710.5L560.7 710.0L561.0 706.5L561.3 709.3L561.6 708.7L561.9 708.6L562.2 709.7L562.5 711.3L562.8 711.7L563.1 709.8L563.4 710.3L563.7 715.0L564.0 716.0L564.3 711.6L564.6 711.0L564.9 712.0L565.2 715.4L565.5 714.8L565.8 711.3L566.1 713.2L566.4 717.8L566.7 718.9L567.0 718.5L567.3 719.1L567.6 716.9L567.9 716.4L568.2 718.0L568.5 718.0L568.8 717.2L569.1 721.0L569.4 719.8L569.7 719.3L570.0 717.3L570.3 716.9L570.6 717.9L570.9 719.6L571.2 717.0L571.5 716.8L571.8 720.8L572.1 722.1L572.4 721.6L572.7 721.3L573.0 720.2L573.3 720.5L573.6 721.4L573.9 720.0L574.2 719.7L574.5 720.1L574.8 723.7L575.1 721.0L575.4 720.2L575.7 720.1L576.0 721.4L576.3 723.7L576.6 726.1L576.9 724.4L577.2 722.2L577.5 723.5L577.8 720.7L578.1 720.0L578.4 725.4L578.7 725.3L579.0 722.2L579.3 720.7L579.6 723.8L579.9 726.2L580.2 725.4L580.5 724.2L580.8 722.5L581.1 723.4L581.4 724.3L581.7 722.9L582.0 724.8L582.3 725.8L582.6 726.1L582.9 727.1L583.2 727.8L583.5 728.4L583.8 725.5L584.1 726.0L584.4 725.5L584.7 724.4L585.0 725.3L585.3 726.9L585.6 725.6L585.9 726.9L586.2 728.4L586.5 726.8L586.8 729.6L587.1 731.3L587.4 729.5L587.7 728.8L588.0 729.0L588.3 728.9L588.6 729.6L588.9 730.4L589.2 730.2L589.5 725.8L589.8 726.6L590.1 727.2L590.4 727.3L590.7 729.8L591.0 729.8L591.3 731.7L591.6 733.2L591.9 731.1L592.2 730.7L592.5 732.3L592.8 730.0L593.1 729.6L593.4 729.3L593.7 728.3L594.0 729.9L594.3 731.8L594.6 732.0L594.9 730.3L595.2 728.5L595.5 731.0L595.8 729.7L596.1 729.3L596.4 728.3L596.7 730.5L597.0 732.4L597.3 732.2L597.6 733.3L597.9 734.3L598.2 733.1L598.5 730.5L598.8 730.6L599.1 734.7L599.4 734.7L599.7 736.1L600.0 734.4L600.3 732.2L600.6 734.7L600.9 737.6L601.2 736.6L601.5 734.5L601.8 733.1L602.1 733.8L602.4 734.3L602.7 732.8L603.0 733.8L603.3 736.5L603.6 735.0L603.9 733.1L604.2 735.3L604.5 734.4L604.8 733.7L605.1 734.1L605.4 733.9L605.7 732.8L606.0 733.2L606.2 733.6L606.5 733.3L606.8 734.3L607.1 733.2L607.4 735.0L607.7 734.9L608.0 734.4L608.3 734.8L608.6 734.7L608.9 735.3L609.2 733.3L609.5 735.0L609.8 733.6L610.1 734.9L610.4 735.8L610.7 735.5L611.0 734.2L611.3 735.1L611.6 735.2L611.9 734.3L612.2 733.4L612.5 733.4L612.8 736.9L613.1 735.4L613.4 736.1L613.7 738.5L614.0 736.6L614.3 733.6L614.6 734.4L614.9 737.4L615.2 737.1L615.5 734.8L615.8 736.7L616.1 736.2L616.4 735.4L616.7 738.1L617.0 739.2L617.3 738.5L617.6 736.0L617.9 735.0L618.2 734.5L618.5 734.5L618.8 734.5L619.1 733.0L619.4 735.5L619.7 733.9L620.0 732.6L620.3 732.7L620.6 733.6L620.9 730.9L621.2 729.9L621.5 731.0L621.8 734.4L622.1 731.8L622.4 732.3L622.7 730.8L623.0 731.8L623.3 734.3L623.6 734.9L623.9 736.3L624.2 734.1L624.5 735.3L624.8 734.8L625.1 732.5L625.4 731.9L625.7 734.6L626.0 735.6L626.3 736.6L626.6 733.0L626.9 733.5L627.2 731.5L627.5 733.5L627.8 735.7L628.1 736.1L628.4 734.8L628.7 734.1L629.0 732.0L629.3 732.2L629.6 735.5L629.9 734.9L630.2 735.1L630.5 733.2L630.8 732.6L631.1 732.9L631.4 732.3L631.7 734.1L632.0 732.1L632.3 734.9L632.6 734.8L632.9 734.7L633.2 736.2L633.5 736.8L633.8 733.4L634.1 732.7L634.4 732.4L634.7 733.2L635.0 735.0L635.3 733.9L635.6 732.2L635.9 729.8L636.2 730.1L636.5 730.0L636.8 731.0L637.1 732.0L637.4 732.4L637.7 731.2L638.0 730.7L638.3 731.8L638.6 732.6L638.9 733.3L639.2 732.2L639.5 733.1L639.8 729.6L640.1 728.8L640.4 730.2L640.7 729.7L641.0 733.1L641.3 736.4L641.6 739.2L641.9 738.1L642.2 739.2L642.5 735.9L642.8 734.2L643.1 735.8L643.4 737.3L643.7 737.0L644.0 731.1L644.3 729.7L644.6 732.3L644.9 735.5L645.2 733.3L645.5 733.1L645.8 730.7L646.1 733.1L646.4 732.3L646.7 729.4L647.0 732.5L647.3 732.5L647.6 735.1L647.9 736.1L648.2 734.0L648.5 734.0L648.8 733.7L649.1 736.1L649.4 737.3L649.7 734.8L650.0 735.4L650.3 736.1L650.6 733.0L650.9 734.1L651.2 733.4L651.5 730.5L651.8 733.8L652.1 734.1L652.4 733.8L652.7 734.2L653.0 734.2L653.3 732.7L653.6 734.4L653.9 735.7L654.2 733.5L654.4 736.1L654.7 736.1L655.0 736.7L655.3 737.0L655.6 738.0L655.9 735.7L656.2 737.5L656.5 737.1L656.8 735.0L657.1 734.3L657.4 737.9L657.7 736.8L658.0 736.4L658.3 734.3L658.6 733.8L658.9 732.9L659.2 733.1L659.5 733.8L659.8 733.0L660.1 733.8L660.4 734.5L660.7 735.9L661.0 736.3L661.3 733.4L661.6 731.9L661.9 732.8L662.2 733.3L662.5 732.9L662.8 732.6L663.1 733.0L663.4 732.1L663.7 732.7L664.0 730.4L664.3 732.0L664.6 732.4L664.9 731.8L665.2 731.7L665.5 730.3L665.8 733.2L666.1 733.9L666.4 734.5L666.7 736.0L667.0 732.9L667.3 729.4L667.6 728.4L667.9 733.0L668.2 735.6L668.5 737.8L668.8 735.3L669.1 732.5L669.4 730.2L669.7 728.8L670.0 729.7L670.3 732.0L670.6 729.7L670.9 731.7L671.2 734.3L671.5 735.8L671.8 733.3L672.1 732.2L672.4 735.1L672.7 736.3L673.0 734.2L673.3 733.4L673.6 730.7L673.9 731.7L674.2 731.3L674.5 736.0L674.8 735.2L675.1 733.2L675.4 733.2L675.7 734.4L676.0 732.6L676.3 736.8L676.6 737.1L676.9 735.3L677.2 732.0L677.5 732.7L677.8 733.7L678.1 734.9" stroke="#149a70" stroke-width="1.05" fill="none" stroke-linejoin="round"/>
<path d="M390.7 732.6L391.0 730.4L391.3 727.1L391.6 729.7L391.9 732.1L392.2 731.2L392.5 729.4L392.8 731.3L393.1 731.9L393.4 731.5L393.7 733.4L394.0 731.9L394.3 731.2L394.6 733.0L394.9 732.2L395.2 732.8L395.5 732.4L395.8 731.2L396.1 732.7L396.4 730.6L396.7 728.9L397.0 732.7L397.3 733.5L397.6 732.7L397.9 733.1L398.2 733.5L398.5 732.4L398.8 730.0L399.1 729.9L399.4 733.0L399.7 734.2L400.0 733.8L400.3 730.0L400.6 729.6L400.9 733.1L401.2 733.8L401.5 732.0L401.8 731.2L402.1 730.4L402.4 731.1L402.7 730.6L403.0 729.9L403.3 731.2L403.6 735.0L403.9 731.9L404.2 733.0L404.5 734.8L404.8 735.6L405.1 734.2L405.4 735.0L405.7 735.4L406.0 732.1L406.3 732.1L406.6 731.9L406.9 732.1L407.2 734.7L407.5 734.2L407.8 733.0L408.1 732.6L408.4 733.6L408.7 734.3L409.0 735.9L409.3 734.1L409.6 735.8L409.9 735.3L410.2 734.7L410.5 735.1L410.8 736.1L411.1 735.0L411.4 737.5L411.7 739.0L412.0 738.1L412.3 737.1L412.6 735.3L412.9 734.8L413.2 734.5L413.5 734.6L413.8 735.6L414.1 736.9L414.4 736.1L414.6 737.2L414.9 737.5L415.2 736.7L415.5 737.7L415.8 736.9L416.1 736.5L416.4 733.7L416.7 733.8L417.0 733.8L417.3 734.0L417.6 733.6L417.9 734.3L418.2 733.6L418.5 736.8L418.8 740.2L419.1 735.4L419.4 737.9L419.7 734.5L420.0 730.5L420.3 731.7L420.6 736.4L420.9 736.9L421.2 736.9L421.5 735.2L421.8 735.5L422.1 736.2L422.4 735.9L422.7 733.5L423.0 732.0L423.3 733.1L423.6 732.5L423.9 735.1L424.2 736.7L424.5 738.2L424.8 737.5L425.1 737.0L425.4 736.0L425.7 736.0L426.0 737.5L426.3 735.7L426.6 737.2L426.9 738.5L427.2 735.5L427.5 734.3L427.8 734.2L428.1 735.9L428.4 736.3L428.7 735.3L429.0 735.4L429.3 734.3L429.6 736.7L429.9 736.6L430.2 736.0L430.5 735.9L430.8 732.5L431.1 731.9L431.4 733.1L431.7 736.9L432.0 736.7L432.3 735.8L432.6 734.8L432.9 735.0L433.2 732.9L433.5 735.3L433.8 733.3L434.1 731.3L434.4 732.4L434.7 735.2L435.0 734.1L435.3 731.6L435.6 734.1L435.9 735.4L436.2 735.0L436.5 735.5L436.8 733.7L437.1 735.1L437.4 736.2L437.7 733.6L438.0 731.6L438.3 728.9L438.6 728.0L438.9 730.8L439.2 733.8L439.5 733.5L439.8 732.5L440.1 731.0L440.4 731.4L440.7 731.3L441.0 732.9L441.3 733.0L441.6 733.6L441.9 732.0L442.2 736.8L442.5 734.4L442.8 734.3L443.1 732.1L443.4 731.0L443.7 730.0L444.0 733.0L444.3 732.6L444.6 731.6L444.9 732.5L445.2 733.4L445.5 733.8L445.8 735.0L446.1 736.9L446.4 736.3L446.7 732.4L447.0 731.9L447.3 732.7L447.6 731.2L447.9 732.0L448.2 733.3L448.5 733.7L448.8 732.8L449.1 733.0L449.4 733.2L449.7 733.1L450.0 733.6L450.3 731.4L450.6 731.9L450.9 733.7L451.2 732.3L451.5 731.8L451.8 731.6L452.1 730.8L452.4 730.1L452.7 731.3L453.0 727.8L453.3 727.9L453.6 729.4L453.9 731.4L454.2 732.0L454.5 730.1L454.8 732.2L455.1 733.5L455.4 733.0L455.7 732.6L456.0 732.0L456.3 734.2L456.6 734.0L456.9 734.6L457.2 733.8L457.5 731.9L457.8 732.8L458.1 733.2L458.4 733.6L458.7 732.8L459.0 730.7L459.3 732.3L459.6 731.8L459.9 730.4L460.2 732.4L460.5 731.3L460.8 728.3L461.1 730.4L461.4 734.0L461.7 732.3L462.0 731.0L462.3 731.8L462.6 730.3L462.8 731.5L463.1 731.5L463.4 732.3L463.7 732.2L464.0 732.0L464.3 730.6L464.6 730.7L464.9 732.2L465.2 730.7L465.5 727.8L465.8 729.2L466.1 732.1L466.4 734.1L466.7 729.2L467.0 730.0L467.3 732.4L467.6 731.9L467.9 729.6L468.2 729.5L468.5 727.5L468.8 731.4L469.1 731.8L469.4 730.9L469.7 728.5L470.0 726.6L470.3 726.8L470.6 727.9L470.9 728.2L471.2 728.3L471.5 731.8L471.8 732.1L472.1 730.9L472.4 729.3L472.7 727.2L473.0 726.6L473.3 726.0L473.6 728.5L473.9 729.9L474.2 728.8L474.5 727.7L474.8 727.2L475.1 728.4L475.4 729.6L475.7 728.0L476.0 728.4L476.3 729.7L476.6 726.6L476.9 727.2L477.2 727.8L477.5 725.3L477.8 725.8L478.1 726.8L478.4 726.1L478.7 725.0L479.0 724.4L479.3 722.6L479.6 723.4L479.9 722.8L480.2 724.4L480.5 721.7L480.8 722.5L481.1 720.7L481.4 721.9L481.7 724.4L482.0 724.8L482.3 723.8L482.6 724.1L482.9 722.4L483.2 724.5L483.5 725.9L483.8 725.7L484.1 723.4L484.4 721.8L484.7 722.7L485.0 722.9L485.3 721.4L485.6 723.1L485.9 720.0L486.2 720.2L486.5 721.0L486.8 722.2L487.1 720.9L487.4 720.4L487.7 721.8L488.0 721.4L488.3 721.6L488.6 721.9L488.9 723.2L489.2 722.3L489.5 719.6L489.8 718.5L490.1 718.9L490.4 720.5L490.7 721.4L491.0 719.3L491.3 720.4L491.6 721.0L491.9 720.4L492.2 721.4L492.5 719.8L492.8 720.6L493.1 719.7L493.4 717.3L493.7 720.7L494.0 718.9L494.3 717.5L494.6 717.2L494.9 717.8L495.2 719.8L495.5 722.2L495.8 721.1L496.1 721.1L496.4 717.3L496.7 716.5L497.0 719.1L497.3 719.5L497.6 716.0L497.9 715.3L498.2 714.4L498.5 714.6L498.8 713.9L499.1 712.4L499.4 712.4L499.7 712.8L500.0 713.0L500.3 710.5L500.6 712.9L500.9 713.5L501.2 710.8L501.5 713.2L501.8 709.9L502.1 709.5L502.4 710.0L502.7 709.7L503.0 709.7L503.3 710.4L503.6 708.5L503.9 713.1L504.2 713.0L504.5 711.1L504.8 710.3L505.1 709.9L505.4 708.4L505.7 706.8L506.0 707.1L506.3 706.7L506.6 707.0L506.9 705.5L507.2 704.9L507.5 706.7L507.8 704.5L508.1 703.3L508.4 704.3L508.7 702.9L509.0 704.1L509.3 704.8L509.6 703.5L509.9 702.3L510.2 702.6L510.4 701.0L510.7 700.4L511.0 700.9L511.3 698.3L511.6 700.6L511.9 699.8L512.2 699.0L512.5 697.2L512.8 695.9L513.1 696.9L513.4 700.9L513.7 697.9L514.0 698.5L514.3 699.1L514.6 699.0L514.9 697.2L515.2 695.9L515.5 696.8L515.8 696.2L516.1 695.0L516.4 695.8L516.7 696.5L517.0 695.7L517.3 696.5L517.6 694.7L517.9 692.8L518.2 696.1L518.5 693.8L518.8 691.3L519.1 691.2L519.4 692.0L519.7 691.0L520.0 691.6L520.3 692.6L520.6 690.1L520.9 689.7L521.2 688.8L521.5 686.9L521.8 685.8L522.1 684.9L522.4 687.6L522.7 689.3L523.0 690.4L523.3 690.1L523.6 688.9L523.9 684.0L524.2 683.9L524.5 685.7L524.8 690.6L525.1 691.7L525.4 686.6L525.7 684.8L526.0 686.6L526.3 687.6L526.6 688.5L526.9 688.0L527.2 681.9L527.5 681.1L527.8 688.5L528.1 687.3L528.4 683.6L528.7 684.1L529.0 684.8L529.3 683.2L529.6 685.1L529.9 683.6L530.2 685.5L530.5 683.6L530.8 681.4L531.1 681.1L531.4 682.5L531.7 680.2L532.0 680.2L532.3 678.8L532.6 680.4L532.9 683.6L533.2 678.9L533.5 687.0L533.8 677.5L534.1 681.9L534.4 622.9L534.7 680.2L535.0 678.5L535.3 675.2L535.6 678.2L535.9 675.2L536.2 676.0L536.5 674.7L536.8 675.4L537.1 671.1L537.4 675.2L537.7 678.2L538.0 683.2L538.3 682.2L538.6 681.4L538.9 680.4L539.2 681.7L539.5 681.1L539.8 680.2L540.1 680.4L540.4 684.4L540.7 682.9L541.0 688.0L541.3 686.6L541.6 684.4L541.9 686.1L542.2 684.7L542.5 687.3L542.8 686.9L543.1 685.4L543.4 683.6L543.7 681.4L544.0 679.2L544.3 684.7L544.6 684.5L544.9 685.3L545.2 684.6L545.5 687.4L545.8 687.3L546.1 689.8L546.4 692.2L546.7 690.0L547.0 691.3L547.3 690.6L547.6 688.5L547.9 688.6L548.2 689.0L548.5 691.2L548.8 689.8L549.1 687.7L549.4 692.6L549.7 689.6L550.0 690.6L550.3 692.7L550.6 695.0L550.9 695.0L551.2 694.6L551.5 695.6L551.8 696.5L552.1 697.5L552.4 696.0L552.7 696.5L553.0 695.2L553.3 695.6L553.6 694.4L553.9 696.4L554.2 700.0L554.5 697.9L554.8 699.1L555.1 699.6L555.4 702.6L555.7 700.6L556.0 701.6L556.3 703.7L556.6 703.9L556.9 701.4L557.2 702.2L557.5 701.3L557.8 698.7L558.1 700.1L558.4 699.1L558.6 701.9L558.9 702.3L559.2 703.7L559.5 704.1L559.8 705.4L560.1 704.7L560.4 703.3L560.7 705.3L561.0 706.7L561.3 706.2L561.6 705.7L561.9 707.0L562.2 708.2L562.5 706.1L562.8 705.6L563.1 708.3L563.4 710.4L563.7 711.2L564.0 710.0L564.3 710.2L564.6 708.4L564.9 709.1L565.2 708.8L565.5 708.4L565.8 709.9L566.1 707.9L566.4 708.9L566.7 710.9L567.0 713.2L567.3 714.9L567.6 710.2L567.9 711.2L568.2 713.6L568.5 710.9L568.8 709.6L569.1 711.0L569.4 711.7L569.7 714.4L570.0 716.8L570.3 716.8L570.6 714.7L570.9 714.0L571.2 713.4L571.5 713.4L571.8 715.2L572.1 713.1L572.4 713.0L572.7 716.4L573.0 714.2L573.3 713.5L573.6 715.0L573.9 715.9L574.2 714.7L574.5 716.4L574.8 717.6L575.1 717.7L575.4 716.8L575.7 718.2L576.0 718.7L576.3 717.3L576.6 717.3L576.9 715.6L577.2 713.7L577.5 716.7L577.8 717.9L578.1 719.5L578.4 717.2L578.7 715.8L579.0 717.9L579.3 720.0L579.6 720.3L579.9 720.0L580.2 719.4L580.5 720.3L580.8 719.5L581.1 718.5L581.4 721.5L581.7 718.4L582.0 718.7L582.3 719.8L582.6 720.5L582.9 719.5L583.2 720.6L583.5 724.1L583.8 722.1L584.1 721.0L584.4 721.0L584.7 722.1L585.0 723.3L585.3 724.4L585.6 722.9L585.9 721.6L586.2 722.0L586.5 720.2L586.8 722.5L587.1 722.7L587.4 721.8L587.7 721.4L588.0 720.3L588.3 721.7L588.6 725.7L588.9 721.2L589.2 720.5L589.5 722.5L589.8 723.9L590.1 723.5L590.4 727.6L590.7 726.2L591.0 721.8L591.3 722.4L591.6 722.0L591.9 723.3L592.2 725.6L592.5 726.9L592.8 726.4L593.1 728.7L593.4 727.4L593.7 725.3L594.0 726.9L594.3 726.1L594.6 722.6L594.9 725.9L595.2 725.7L595.5 725.4L595.8 724.1L596.1 724.1L596.4 725.4L596.7 728.2L597.0 726.7L597.3 725.5L597.6 725.2L597.9 724.8L598.2 727.0L598.5 728.1L598.8 726.4L599.1 726.0L599.4 728.5L599.7 729.3L600.0 727.5L600.3 728.0L600.6 728.2L600.9 729.6L601.2 728.4L601.5 728.6L601.8 729.9L602.1 730.8L602.4 729.4L602.7 729.1L603.0 728.1L603.3 728.1L603.6 728.7L603.9 727.9L604.2 726.6L604.5 725.3L604.8 725.9L605.1 729.2L605.4 730.6L605.7 731.3L606.0 728.6L606.2 728.0L606.5 728.3L606.8 729.0L607.1 728.2L607.4 729.8L607.7 730.5L608.0 730.5L608.3 731.8L608.6 731.6L608.9 729.8L609.2 732.1L609.5 729.8L609.8 731.2L610.1 731.7L610.4 733.5L610.7 732.9L611.0 734.5L611.3 732.4L611.6 731.4L611.9 732.1L612.2 735.1L612.5 733.7L612.8 730.2L613.1 731.4L613.4 731.1L613.7 734.7L614.0 733.6L614.3 734.1L614.6 734.9L614.9 735.3L615.2 735.2L615.5 734.3L615.8 734.5L616.1 735.2L616.4 733.6L616.7 733.1L617.0 732.3L617.3 734.8L617.6 731.9L617.9 733.2L618.2 731.0L618.5 730.8L618.8 730.5L619.1 730.4L619.4 732.1L619.7 730.2L620.0 731.8L620.3 733.6L620.6 732.7L620.9 731.7L621.2 736.0L621.5 734.3L621.8 733.6L622.1 733.8L622.4 733.3L622.7 734.3L623.0 733.3L623.3 732.5L623.6 731.5L623.9 731.8L624.2 734.8L624.5 735.4L624.8 734.5L625.1 733.9L625.4 732.6L625.7 733.3L626.0 735.6L626.3 735.1L626.6 733.5L626.9 734.3L627.2 734.4L627.5 732.1L627.8 731.4L628.1 731.8L628.4 730.2L628.7 731.2L629.0 730.2L629.3 731.3L629.6 732.1L629.9 732.4L630.2 734.3L630.5 733.8L630.8 734.9L631.1 735.8L631.4 736.7L631.7 735.2L632.0 733.8L632.3 733.1L632.6 734.6L632.9 732.1L633.2 732.5L633.5 734.8L633.8 735.9L634.1 737.1L634.4 735.9L634.7 735.5L635.0 734.4L635.3 735.6L635.6 734.7L635.9 734.1L636.2 733.0L636.5 733.8L636.8 731.7L637.1 735.8L637.4 737.5L637.7 736.1L638.0 734.3L638.3 735.1L638.6 733.3L638.9 732.7L639.2 733.4L639.5 732.6L639.8 732.2L640.1 732.8L640.4 733.3L640.7 735.1L641.0 735.2L641.3 735.5L641.6 736.1L641.9 734.4L642.2 734.2L642.5 735.4L642.8 735.9L643.1 737.1L643.4 736.1L643.7 737.3L644.0 736.3L644.3 736.5L644.6 734.3L644.9 734.7L645.2 735.0L645.5 736.0L645.8 736.0L646.1 736.3L646.4 738.2L646.7 737.8L647.0 735.3L647.3 733.3L647.6 735.5L647.9 736.5L648.2 735.1L648.5 733.8L648.8 733.6L649.1 735.3L649.4 734.8L649.7 733.2L650.0 732.4L650.3 735.4L650.6 734.0L650.9 734.7L651.2 734.2L651.5 734.5L651.8 736.0L652.1 735.8L652.4 735.0L652.7 734.6L653.0 734.1L653.3 735.0L653.6 735.6L653.9 735.3L654.2 736.1L654.4 736.1L654.7 734.4L655.0 732.7L655.3 731.7L655.6 735.8L655.9 735.6L656.2 733.9L656.5 734.1L656.8 732.3L657.1 732.1L657.4 731.6L657.7 730.9L658.0 732.0L658.3 734.8L658.6 736.0L658.9 734.2L659.2 734.9L659.5 735.4L659.8 735.0L660.1 736.5L660.4 736.0L660.7 736.9L661.0 735.3L661.3 734.7L661.6 735.1L661.9 736.7L662.2 738.4L662.5 738.2L662.8 732.9L663.1 732.6L663.4 734.1L663.7 734.6L664.0 735.9L664.3 736.2L664.6 735.7L664.9 732.9L665.2 735.3L665.5 736.3L665.8 736.7L666.1 735.6L666.4 733.2L666.7 733.2L667.0 735.1L667.3 734.6L667.6 733.4L667.9 734.9L668.2 736.6L668.5 736.2L668.8 733.2L669.1 733.9L669.4 734.6L669.7 732.6L670.0 730.9L670.3 731.9L670.6 734.6L670.9 737.7L671.2 738.5L671.5 734.4L671.8 734.6L672.1 732.4L672.4 730.0L672.7 731.4L673.0 734.4L673.3 734.2L673.6 734.7L673.9 734.8L674.2 734.2L674.5 733.9L674.8 734.3L675.1 733.6L675.4 735.2L675.7 735.1L676.0 733.1L676.3 733.2L676.6 733.9L676.9 732.6L677.2 732.3L677.5 730.9L677.8 732.2L678.1 732.5" stroke="#17a9da" stroke-width="1.05" fill="none" stroke-linejoin="round"/>
</g>
<path d="M390.7 701.0h5M390.7 658.9h5M390.7 616.8h5M390.7 574.7h5M438.6 743.1v-5M486.5 743.1v-5M534.4 743.1v-5M582.3 743.1v-5M630.2 743.1v-5" stroke="#222" stroke-width="0.85" fill="none"/>
<rect x="390.7" y="532.6" width="287.4" height="210.5" fill="none" stroke="#222" stroke-width="0.9"/>
<text class="t" x="386.2" y="746.9" text-anchor="end">0</text>
<text class="t" x="386.2" y="704.8" text-anchor="end">0.1</text>
<text class="t" x="386.2" y="662.7" text-anchor="end">0.2</text>
<text class="t" x="386.2" y="620.6" text-anchor="end">0.3</text>
<text class="t" x="386.2" y="578.5" text-anchor="end">0.4</text>
<text class="t" x="386.2" y="536.4" text-anchor="end">0.5</text>
<text class="t" x="390.7" y="759.2" text-anchor="middle">–<tspan dx="0.6">30</tspan></text>
<text class="t" x="438.6" y="759.2" text-anchor="middle">–<tspan dx="0.6">20</tspan></text>
<text class="t" x="486.5" y="759.2" text-anchor="middle">–<tspan dx="0.6">10</tspan></text>
<text class="t" x="534.4" y="759.2" text-anchor="middle">0</text>
<text class="t" x="582.3" y="759.2" text-anchor="middle">10</text>
<text class="t" x="630.2" y="759.2" text-anchor="middle">20</text>
<text class="t" x="678.1" y="759.2" text-anchor="middle">30</text>
<text class="a" x="533.7" y="777.4" text-anchor="middle">Frequency lag, kHz</text>
<text class="a" transform="translate(359.4 638.5) rotate(-90)" text-anchor="middle">Correlation coefficient</text>
<text class="l l2" x="628.6" y="545.1" text-anchor="end">Pulse 110 ACF1</text>
<path d="M634.2 541.6H664.6" stroke="#7d3f9f" stroke-width="0.85" fill="none"/>
<text class="l l2" x="628.6" y="556.2" text-anchor="end">Pulse 110 ACF2</text>
<path d="M634.2 552.8H664.6" stroke="#149a70" stroke-width="0.85" fill="none"/>
<text class="l l2" x="628.6" y="567.4" text-anchor="end">Pulse 110 CCF</text>
<path d="M634.2 563.9H664.6" stroke="#17a9da" stroke-width="0.85" fill="none"/>
</svg>
</body></html>
